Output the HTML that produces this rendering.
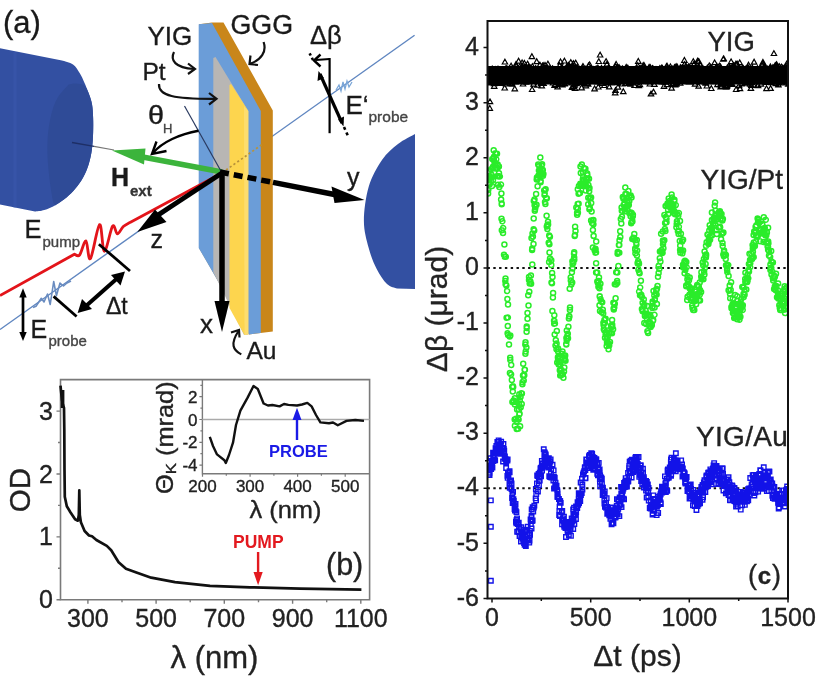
<!DOCTYPE html>
<html><head><meta charset="utf-8"><title>Figure</title>
<style>html,body{margin:0;padding:0;background:#fff;overflow:hidden;} svg{display:block;}</style>
</head><body>
<svg width="825" height="676" viewBox="0 0 825 676"><g id="pa">
<path d="M0,48.3 L62,60.5  C63.8,61.1 70.0,62.3 73.0,64.4 C76.0,66.5 77.9,70.3 79.8,73.3 C81.7,76.3 82.7,78.9 84.2,82.2 C85.7,85.5 87.4,89.6 88.7,93.3 C90.0,97.0 91.3,100.2 92.0,104.3 C92.7,108.3 92.9,112.8 93.1,117.6 C93.3,122.4 93.3,128.0 93.1,133.2 C92.9,138.4 92.7,143.5 92.0,148.7 C91.3,153.9 90.2,159.4 88.7,164.2 C87.2,169.0 85.3,173.4 83.1,177.5 C80.9,181.6 78.2,185.3 75.4,188.6 C72.6,191.9 69.8,194.7 66.5,197.5 C63.2,200.3 59.1,203.1 55.4,205.2 C51.7,207.3 47.7,208.9 44.3,210.0 C40.9,211.1 36.5,211.2 35.0,211.5 L0,204.6 Z" fill="#3350a2"/>
<path d="M68.7,84.4 C66.9,86.6 60.6,92.5 57.6,97.7 C54.6,102.9 52.6,108.8 51.0,115.4 C49.4,122.1 48.2,130.2 47.7,137.6 C47.2,145.0 47.3,152.4 47.7,159.8 C48.1,167.2 49.0,175.0 49.9,182.0 C50.8,189.0 52.3,198.0 53.2,201.9 C54.1,205.8 55.0,204.6 55.4,205.2  C57.2,203.9 63.2,200.3 66.5,197.5 C69.8,194.7 72.6,191.9 75.4,188.6 C78.2,185.3 80.9,181.6 83.1,177.5 C85.3,173.4 87.2,169.0 88.7,164.2 C90.2,159.4 91.3,153.9 92.0,148.7 C92.7,143.5 92.9,138.4 93.1,133.2 C93.3,128.0 93.3,122.4 93.1,117.6 C92.9,112.8 92.7,108.3 92.0,104.3 C91.3,100.2 90.0,96.4 88.7,93.3 C87.4,90.2 86.3,87.1 84.2,85.5 C82.1,83.9 78.6,83.7 76.0,83.5 C73.4,83.3 69.9,84.2 68.7,84.4 Z" fill="#2f4b97"/>
<line x1="15" y1="52" x2="15" y2="207.5" stroke="#3a58ad" stroke-width="3" opacity="0.6"/>
<path d="M415.0,134.0 C412.2,135.7 403.5,139.7 398.0,144.0 C392.5,148.3 386.9,152.9 382.0,160.0 C377.1,167.1 371.7,176.5 368.7,186.7 C365.7,196.9 363.9,210.8 363.9,221.0 C363.9,231.2 366.6,240.0 368.7,248.0 C370.8,256.0 373.6,263.0 376.7,269.0 C379.8,275.0 383.6,280.8 387.0,284.0 C390.4,287.2 395.3,287.8 397.0,288.5 L415,289 Z" fill="#3350a2"/>
<line x1="0" y1="329.5" x2="414.6" y2="35.3" stroke="#5f86c0" stroke-width="1.4"/>
<line x1="72" y1="142.5" x2="94" y2="146.4" stroke="#1e2f66" stroke-width="1.3"/>
<line x1="94" y1="146.4" x2="114" y2="150" stroke="#777" stroke-width="1.2"/>
<polygon points="212,22.6 223.5,22.4 272.8,110.5 272.8,331.5 260.5,333 249,334.5 199,248 199,24.3" fill="#c9861a"/>
<polygon points="198.7,24.3 212,23 260.8,111 260.8,333 249,334.5 198.7,248" fill="#6b9dd8"/>
<polygon points="213.3,58 215.5,57 248.3,111 248.3,334.5 244,335 213.3,272" fill="#b8b6b4"/>
<polygon points="229.5,85 231,84 248.3,111 248.3,334.5 244.5,335 229.5,308" fill="#fdd54e"/>
<polygon points="244,106 248.3,111 248.3,334.5 244.5,335" fill="#fde58e" opacity="0.5"/>
<line x1="226" y1="170" x2="262" y2="144.5" stroke="#b8923a" stroke-width="1.7" stroke-dasharray="2.2 2.4"/>
<path d="M0,295.5 L74.4,254.2  C75.3,254.3 77.7,257.2 79.6,255.0 C81.5,252.8 84.1,240.3 85.9,240.9 C87.7,241.5 88.1,261.4 90.4,258.7 C92.7,256.0 97.3,225.8 99.6,224.6 C101.9,223.4 102.2,251.1 104.4,251.3 C106.6,251.6 110.4,229.0 112.6,226.1 C114.8,223.2 115.6,233.8 117.4,233.9 C119.2,234.0 121.2,228.4 123.3,226.5 C125.4,224.6 128.9,223.1 130.0,222.4 L222,173" fill="none" stroke="#e3141a" stroke-width="2.8" stroke-linejoin="round"/>
<line x1="222" y1="172" x2="140" y2="156.5" stroke="#3cb43c" stroke-width="5.5"/>
<polygon points="112,150.5 145.5,148.5 144,164.5" fill="#3cb43c"/>
<line x1="184.5" y1="106" x2="222" y2="173" stroke="#2a3a60" stroke-width="1.2"/>
<line x1="222" y1="173" x2="158" y2="215" stroke="#000" stroke-width="5"/>
<polygon points="137.3,232 155,209.5 166.5,222" fill="#000"/>
<line x1="222" y1="172" x2="222" y2="305" stroke="#000" stroke-width="5.5"/>
<polygon points="222,332 214.5,301 229.5,301" fill="#000"/>
<line x1="220" y1="172" x2="273" y2="182.4" stroke="#000" stroke-width="5.5" stroke-dasharray="9 5"/>
<line x1="273" y1="182.4" x2="337" y2="195" stroke="#000" stroke-width="5.5"/>
<polygon points="364.5,200 331.5,186.5 334.5,203" fill="#000"/>
<path d="M198.5,130.7 C180,134 162,142 153,153" fill="none" stroke="#000" stroke-width="2.4"/>
<path d="M156.5,141.5 L152,154 L166.5,151" fill="none" stroke="#000" stroke-width="2.4"/>
<path d="M174,52 C170,60 175,68 194,69" fill="none" stroke="#111" stroke-width="2.2"/><path d="M188,63.5 L195,69 L188,74" fill="none" stroke="#111" stroke-width="2.2"/>
<path d="M159,84 C158,96 175,99 215,98.8" fill="none" stroke="#111" stroke-width="2.2"/><path d="M209,93 L216.5,98.8 L209,104.5" fill="none" stroke="#111" stroke-width="2.2"/>
<path d="M263.6,42 C267,52 261,60 250,63.8" fill="none" stroke="#111" stroke-width="2.2"/><path d="M250.5,55.5 L249.5,64 L258,65" fill="none" stroke="#111" stroke-width="2.2"/>
<path d="M241.3,354.4 C233,350 230,344 238.5,331" fill="none" stroke="#111" stroke-width="2.2"/><path d="M231,332.5 L239,330 L239.5,337.5" fill="none" stroke="#111" stroke-width="2.2"/>
<line x1="329.6" y1="58" x2="329.6" y2="133.2" stroke="#000" stroke-width="2.2"/>
<path d="M329.6,59 L316,60" fill="none" stroke="#000" stroke-width="2.2"/><path d="M320.5,54.5 L314,60.5 L320.5,66.5" fill="none" stroke="#000" stroke-width="2.4"/>
<line x1="320" y1="74" x2="342" y2="123" stroke="#000" stroke-width="3.2"/>
<polygon points="318.5,71 317.5,81 324,78" fill="#000"/><polygon points="343.5,126.5 344,116.5 338,119.5" fill="#000"/>
<line x1="309.6" y1="53.3" x2="314" y2="62" stroke="#000" stroke-width="2.6" stroke-dasharray="2.5 2.5"/>
<line x1="344" y1="127" x2="348" y2="136" stroke="#000" stroke-width="2.6" stroke-dasharray="3 3"/>
<path d="M336,90 L339,85 L341,91 L343,82 L345,89 L347,81 L349,87 L352,82" fill="none" stroke="#7aa6d8" stroke-width="1.3"/>
<path d="M33,307.5 L36,306.3 L41.3,298.3 L44,302 L47.5,294 L50.2,304.5 L53.7,281.5 L56.4,295.7 L60,283 L63.5,286 L67,283 L71,281" fill="none" stroke="#6a8cc0" stroke-width="1.6" stroke-linejoin="round"/>
<line x1="98.9" y1="244.2" x2="130" y2="271" stroke="#000" stroke-width="2.8"/>
<line x1="53.6" y1="296.4" x2="76.6" y2="316.5" stroke="#000" stroke-width="2.8"/>
<line x1="86" y1="306" x2="117" y2="278.5" stroke="#000" stroke-width="4"/>
<polygon points="77.6,313 82,299 92,309" fill="#000"/><polygon points="125,271.5 111,275 120.5,285.5" fill="#000"/>
<line x1="23" y1="295" x2="23" y2="335" stroke="#000" stroke-width="2.7"/>
<polygon points="23,288.2 19.3,297.5 26.7,297.5" fill="#000"/><polygon points="23,341.1 19.3,332 26.7,332" fill="#000"/>
<g font-family="Liberation Sans, Arial, sans-serif" fill="#1a1a1a" stroke="#1a1a1a" stroke-width="0.35">
<text x="3" y="32.5" font-size="31">(a)</text>
<text x="147.5" y="44.8" font-size="26">YIG</text>
<text x="142.5" y="80.3" font-size="24.5">Pt</text>
<text x="230.5" y="34" font-size="26.8">GGG</text>
<text x="310" y="44.2" font-size="25.5">Δβ</text>
<text transform="translate(148,124) scale(1.15,1)" font-size="25">θ</text><text x="163" y="133" font-size="13" fill="#444" stroke="#444">H</text>
<text x="111" y="185.8" font-size="25" font-weight="bold">H</text><text x="130" y="195.5" font-size="15" font-weight="bold" fill="#333" stroke="#333">ext</text>
<text x="345.5" y="114" font-size="26">E‘</text><text x="368.5" y="122" font-size="15.5" fill="#444" stroke="#444">probe</text>
<text x="347" y="186" font-size="25">y</text>
<text x="200" y="333" font-size="26">x</text>
<text x="246.5" y="359" font-size="24.5">Au</text>
<text x="150.5" y="248" font-size="25">z</text>
<text x="24.5" y="237.8" font-size="25.5">E</text><text x="42.5" y="247" font-size="15" fill="#444" stroke="#444">pump</text>
<text x="30.5" y="337.8" font-size="25">E</text><text x="48.5" y="346" font-size="15" fill="#444" stroke="#444">probe</text>
<text x="106" y="313.5" font-size="23">Δt</text>
</g>
</g>
<g id="pb">
<path d="M60.5,379.6 V599.8 H369.6 V379.6 Z" fill="none" stroke="#7a7a7a" stroke-width="1.6"/>
<path d="M60.5,599.8 h-4 M60.5,568.3 h-2.5 M60.5,536.9 h-4 M60.5,505.4 h-2.5 M60.5,474.0 h-4 M60.5,442.5 h-2.5 M60.5,411.1 h-4 M87.9,599.8 v4 M122.0,599.8 v2.5 M156.1,599.8 v4 M190.2,599.8 v2.5 M224.3,599.8 v4 M258.5,599.8 v2.5 M292.6,599.8 v4 M326.7,599.8 v2.5 M360.8,599.8 v4" stroke="#7a7a7a" stroke-width="1.4" fill="none"/>
<path d="M60.5,385.6 L61,391 L62,400 L63,405 L64,408 L64.3,430 L64.5,470 L64.8,496.8 L66.8,506.2 L70.4,512.2 L75.1,519.3 L77.9,520.7 L78.8,515 L79.3,490.3 L79.8,515 L80.9,522.2 L84.6,531 L89,535.5 L92,536.3 L96.4,540 L106.8,545.9 L111.2,550.3 L118.6,562.2 L126,568.8 L136.4,572.5 L151.2,577.7 L175,582.1 L210,585.9 L250,587.3 L300,588.6 L361.4,589.6" fill="none" stroke="#111" stroke-width="2.7" stroke-linejoin="round"/>
<rect x="60.8" y="390" width="3.6" height="18" fill="#111"/>
<path d="M202.4,379.6 V473.8 H369.6" fill="none" stroke="#7a7a7a" stroke-width="1.4"/>
<path d="M202.4,465.1 h-3 M202.4,453.7 h-2 M202.4,442.3 h-3 M202.4,430.9 h-2 M202.4,419.5 h-3 M202.4,408.1 h-2 M202.4,396.7 h-3 M202.4,385.3 h-2 M202.5,473.8 v3 M226.3,473.8 v2 M250.1,473.8 v3 M273.9,473.8 v2 M297.6,473.8 v3 M321.4,473.8 v2 M345.2,473.8 v3" stroke="#7a7a7a" stroke-width="1.2" fill="none"/>
<line x1="202.4" y1="419.5" x2="369.6" y2="419.5" stroke="#aaa" stroke-width="1.5"/>
<path d="M209.8,436.9 L213,446 L217,454.4 L224.4,460.2 L225.8,463 L229,455 L233,442.7 L236,425 L240.4,410.7 L247.6,397.6 L253.5,386 L257.8,389 L263.6,403.5 L268,405.5 L272.4,405 L279.6,406.4 L284,404 L288.4,404.9 L297,405.5 L302,404.5 L307.3,402.9 L311.6,406.4 L316,415 L320.4,422.4 L329,423.2 L333,422.5 L337.8,425.3 L346.5,420.9 L355.3,420 L364,420.9" fill="none" stroke="#111" stroke-width="2.4" stroke-linejoin="round"/>
<line x1="297" y1="440" x2="297" y2="418" stroke="#1a1ae6" stroke-width="2.4"/><polygon points="297,407.8 292.5,420 301.5,420" fill="#1a1ae6"/>
<text x="269" y="457.3" font-size="16.5" font-weight="bold" fill="#1a1ae6" font-family="Liberation Sans, Arial, sans-serif">PROBE</text>
<line x1="258.1" y1="552" x2="258.1" y2="574" stroke="#e3191f" stroke-width="2.4"/><polygon points="258.1,585.3 253.5,572 262.7,572" fill="#e3191f"/>
<text x="233" y="548" font-size="17.5" font-weight="bold" fill="#e3191f" font-family="Liberation Sans, Arial, sans-serif">PUMP</text>
<g font-family="Liberation Sans, Arial, sans-serif" fill="#222" stroke="#222" stroke-width="0.35">
<text x="53" y="608.3" font-size="25" text-anchor="end">0</text>
<text x="53" y="545.4" font-size="25" text-anchor="end">1</text>
<text x="53" y="482.5" font-size="25" text-anchor="end">2</text>
<text x="53" y="419.6" font-size="25" text-anchor="end">3</text>
<text x="87.9" y="627" font-size="25" text-anchor="middle">300</text>
<text x="156.1" y="627" font-size="25" text-anchor="middle">500</text>
<text x="224.3" y="627" font-size="25" text-anchor="middle">700</text>
<text x="292.6" y="627" font-size="25" text-anchor="middle">900</text>
<text x="360.8" y="627" font-size="25" text-anchor="middle">1100</text>
<text transform="translate(30,490) rotate(-90)" font-size="29.5" text-anchor="middle">OD</text>
<text x="214.5" y="668" font-size="31" text-anchor="middle">λ (nm)</text>
<text x="326" y="575" font-size="30.5">(b)</text>
<text x="197.5" y="402.7" font-size="17" text-anchor="end">2</text>
<text x="197.5" y="425.5" font-size="17" text-anchor="end">0</text>
<text x="197.5" y="448.3" font-size="17" text-anchor="end">-2</text>
<text x="197.5" y="471.1" font-size="17" text-anchor="end">-4</text>
<text x="202.5" y="492" font-size="17" text-anchor="middle">200</text>
<text x="250.1" y="492" font-size="17" text-anchor="middle">300</text>
<text x="297.6" y="492" font-size="17" text-anchor="middle">400</text>
<text x="345.2" y="492" font-size="17" text-anchor="middle">500</text>
<text transform="translate(285.4,517.5) scale(1.06,1)" font-size="24" text-anchor="middle">λ (nm)</text>
<text transform="translate(173,494) rotate(-90) scale(1.08,1)" font-size="23.5"><tspan>Θ</tspan><tspan font-size="15.5" dy="3">K</tspan><tspan dy="-3"> (mrad)</tspan></text>
</g>
</g>
<defs><clipPath id="cc"><rect x="487.5" y="21" width="300.5" height="577.4"/></clipPath></defs>
<g id="pc">
<line x1="487.5" y1="267.9" x2="788" y2="267.9" stroke="#111" stroke-width="2" stroke-dasharray="2.4 3.4"/>
<line x1="487.5" y1="488.2" x2="788" y2="488.2" stroke="#111" stroke-width="2" stroke-dasharray="2.4 3.4"/>
<g clip-path="url(#cc)">
<rect x="487.5" y="66" width="300.5" height="18.5" fill="#000"/>
<path d="M485.0,78.4l2.7,-4.8l2.7,4.8zM485.1,75.0l2.7,-4.8l2.7,4.8zM485.3,81.3l2.7,-4.8l2.7,4.8zM485.5,78.2l2.7,-4.8l2.7,4.8zM485.7,72.7l2.7,-4.8l2.7,4.8zM485.8,76.1l2.7,-4.8l2.7,4.8zM486.0,84.6l2.7,-4.8l2.7,4.8zM486.2,73.5l2.7,-4.8l2.7,4.8zM486.4,84.7l2.7,-4.8l2.7,4.8zM486.6,84.9l2.7,-4.8l2.7,4.8zM486.7,75.9l2.7,-4.8l2.7,4.8zM486.9,77.4l2.7,-4.8l2.7,4.8zM487.1,75.9l2.7,-4.8l2.7,4.8zM487.3,75.5l2.7,-4.8l2.7,4.8zM487.4,74.8l2.7,-4.8l2.7,4.8zM487.6,72.0l2.7,-4.8l2.7,4.8zM487.8,78.8l2.7,-4.8l2.7,4.8zM488.0,77.7l2.7,-4.8l2.7,4.8zM488.2,79.2l2.7,-4.8l2.7,4.8zM488.3,81.5l2.7,-4.8l2.7,4.8zM488.5,80.8l2.7,-4.8l2.7,4.8zM488.7,76.2l2.7,-4.8l2.7,4.8zM488.9,77.0l2.7,-4.8l2.7,4.8zM489.0,71.5l2.7,-4.8l2.7,4.8zM489.2,77.7l2.7,-4.8l2.7,4.8zM489.4,80.8l2.7,-4.8l2.7,4.8zM489.6,83.7l2.7,-4.8l2.7,4.8zM489.8,73.6l2.7,-4.8l2.7,4.8zM489.9,70.9l2.7,-4.8l2.7,4.8zM490.1,75.6l2.7,-4.8l2.7,4.8zM490.3,74.5l2.7,-4.8l2.7,4.8zM490.5,79.9l2.7,-4.8l2.7,4.8zM490.6,81.5l2.7,-4.8l2.7,4.8zM490.8,79.6l2.7,-4.8l2.7,4.8zM491.0,83.7l2.7,-4.8l2.7,4.8zM491.2,76.2l2.7,-4.8l2.7,4.8zM491.4,85.6l2.7,-4.8l2.7,4.8zM491.5,88.3l2.7,-4.8l2.7,4.8zM491.7,73.2l2.7,-4.8l2.7,4.8zM491.9,72.9l2.7,-4.8l2.7,4.8zM492.1,80.3l2.7,-4.8l2.7,4.8zM492.2,77.1l2.7,-4.8l2.7,4.8zM492.4,85.1l2.7,-4.8l2.7,4.8zM492.6,71.4l2.7,-4.8l2.7,4.8zM492.8,80.1l2.7,-4.8l2.7,4.8zM493.0,75.2l2.7,-4.8l2.7,4.8zM493.1,83.8l2.7,-4.8l2.7,4.8zM493.3,79.4l2.7,-4.8l2.7,4.8zM493.5,79.6l2.7,-4.8l2.7,4.8zM493.7,75.1l2.7,-4.8l2.7,4.8zM493.8,77.6l2.7,-4.8l2.7,4.8zM494.0,77.8l2.7,-4.8l2.7,4.8zM494.2,77.7l2.7,-4.8l2.7,4.8zM494.4,74.8l2.7,-4.8l2.7,4.8zM494.5,78.2l2.7,-4.8l2.7,4.8zM494.7,75.2l2.7,-4.8l2.7,4.8zM494.9,81.3l2.7,-4.8l2.7,4.8zM495.1,83.2l2.7,-4.8l2.7,4.8zM495.3,70.9l2.7,-4.8l2.7,4.8zM495.4,79.2l2.7,-4.8l2.7,4.8zM495.6,81.2l2.7,-4.8l2.7,4.8zM495.8,74.1l2.7,-4.8l2.7,4.8zM496.0,72.5l2.7,-4.8l2.7,4.8zM496.1,77.7l2.7,-4.8l2.7,4.8zM496.3,72.7l2.7,-4.8l2.7,4.8zM496.5,73.8l2.7,-4.8l2.7,4.8zM496.7,78.5l2.7,-4.8l2.7,4.8zM496.9,78.3l2.7,-4.8l2.7,4.8zM497.0,84.5l2.7,-4.8l2.7,4.8zM497.2,85.5l2.7,-4.8l2.7,4.8zM497.4,73.4l2.7,-4.8l2.7,4.8zM497.6,73.9l2.7,-4.8l2.7,4.8zM497.7,78.2l2.7,-4.8l2.7,4.8zM497.9,75.0l2.7,-4.8l2.7,4.8zM498.1,83.9l2.7,-4.8l2.7,4.8zM498.3,76.3l2.7,-4.8l2.7,4.8zM498.5,73.3l2.7,-4.8l2.7,4.8zM498.6,78.5l2.7,-4.8l2.7,4.8zM498.8,77.1l2.7,-4.8l2.7,4.8zM499.0,80.9l2.7,-4.8l2.7,4.8zM499.2,74.2l2.7,-4.8l2.7,4.8zM499.3,81.6l2.7,-4.8l2.7,4.8zM499.5,76.3l2.7,-4.8l2.7,4.8zM499.7,71.8l2.7,-4.8l2.7,4.8zM499.9,83.1l2.7,-4.8l2.7,4.8zM500.1,82.3l2.7,-4.8l2.7,4.8zM500.2,76.9l2.7,-4.8l2.7,4.8zM500.4,72.8l2.7,-4.8l2.7,4.8zM500.6,84.4l2.7,-4.8l2.7,4.8zM500.8,76.9l2.7,-4.8l2.7,4.8zM500.9,80.1l2.7,-4.8l2.7,4.8zM501.1,76.7l2.7,-4.8l2.7,4.8zM501.3,74.7l2.7,-4.8l2.7,4.8zM501.5,83.8l2.7,-4.8l2.7,4.8zM501.7,75.5l2.7,-4.8l2.7,4.8zM501.8,76.2l2.7,-4.8l2.7,4.8zM502.0,90.0l2.7,-4.8l2.7,4.8zM502.2,64.0l2.7,-4.8l2.7,4.8zM502.4,71.7l2.7,-4.8l2.7,4.8zM502.5,74.0l2.7,-4.8l2.7,4.8zM502.7,77.2l2.7,-4.8l2.7,4.8zM502.9,82.3l2.7,-4.8l2.7,4.8zM503.1,81.2l2.7,-4.8l2.7,4.8zM503.3,70.4l2.7,-4.8l2.7,4.8zM503.4,85.9l2.7,-4.8l2.7,4.8zM503.6,71.0l2.7,-4.8l2.7,4.8zM503.8,75.5l2.7,-4.8l2.7,4.8zM504.0,75.4l2.7,-4.8l2.7,4.8zM504.1,72.2l2.7,-4.8l2.7,4.8zM504.3,70.7l2.7,-4.8l2.7,4.8zM504.5,80.5l2.7,-4.8l2.7,4.8zM504.7,82.8l2.7,-4.8l2.7,4.8zM504.8,72.9l2.7,-4.8l2.7,4.8zM505.0,79.1l2.7,-4.8l2.7,4.8zM505.2,76.4l2.7,-4.8l2.7,4.8zM505.4,74.0l2.7,-4.8l2.7,4.8zM505.6,80.2l2.7,-4.8l2.7,4.8zM505.7,79.0l2.7,-4.8l2.7,4.8zM505.9,73.8l2.7,-4.8l2.7,4.8zM506.1,79.4l2.7,-4.8l2.7,4.8zM506.3,73.4l2.7,-4.8l2.7,4.8zM506.4,79.8l2.7,-4.8l2.7,4.8zM506.6,70.8l2.7,-4.8l2.7,4.8zM506.8,78.3l2.7,-4.8l2.7,4.8zM507.0,76.8l2.7,-4.8l2.7,4.8zM507.2,79.7l2.7,-4.8l2.7,4.8zM507.3,76.1l2.7,-4.8l2.7,4.8zM507.5,76.2l2.7,-4.8l2.7,4.8zM507.7,84.8l2.7,-4.8l2.7,4.8zM507.9,76.4l2.7,-4.8l2.7,4.8zM508.0,76.8l2.7,-4.8l2.7,4.8zM508.2,76.0l2.7,-4.8l2.7,4.8zM508.4,68.0l2.7,-4.8l2.7,4.8zM508.6,75.6l2.7,-4.8l2.7,4.8zM508.8,71.3l2.7,-4.8l2.7,4.8zM508.9,78.2l2.7,-4.8l2.7,4.8zM509.1,85.2l2.7,-4.8l2.7,4.8zM509.3,77.6l2.7,-4.8l2.7,4.8zM509.5,86.1l2.7,-4.8l2.7,4.8zM509.6,78.5l2.7,-4.8l2.7,4.8zM509.8,74.9l2.7,-4.8l2.7,4.8zM510.0,79.1l2.7,-4.8l2.7,4.8zM510.2,80.2l2.7,-4.8l2.7,4.8zM510.4,74.8l2.7,-4.8l2.7,4.8zM510.5,76.4l2.7,-4.8l2.7,4.8zM510.7,73.6l2.7,-4.8l2.7,4.8zM510.9,71.4l2.7,-4.8l2.7,4.8zM511.1,79.6l2.7,-4.8l2.7,4.8zM511.2,74.0l2.7,-4.8l2.7,4.8zM511.4,73.5l2.7,-4.8l2.7,4.8zM511.6,75.3l2.7,-4.8l2.7,4.8zM511.8,79.0l2.7,-4.8l2.7,4.8zM512.0,81.1l2.7,-4.8l2.7,4.8zM512.1,90.8l2.7,-4.8l2.7,4.8zM512.3,78.4l2.7,-4.8l2.7,4.8zM512.5,75.7l2.7,-4.8l2.7,4.8zM512.7,83.9l2.7,-4.8l2.7,4.8zM512.8,75.5l2.7,-4.8l2.7,4.8zM513.0,80.4l2.7,-4.8l2.7,4.8zM513.2,66.5l2.7,-4.8l2.7,4.8zM513.4,76.0l2.7,-4.8l2.7,4.8zM513.6,68.3l2.7,-4.8l2.7,4.8zM513.7,74.9l2.7,-4.8l2.7,4.8zM513.9,78.8l2.7,-4.8l2.7,4.8zM514.1,73.4l2.7,-4.8l2.7,4.8zM514.3,82.6l2.7,-4.8l2.7,4.8zM514.4,82.4l2.7,-4.8l2.7,4.8zM514.6,78.4l2.7,-4.8l2.7,4.8zM514.8,78.7l2.7,-4.8l2.7,4.8zM515.0,69.5l2.7,-4.8l2.7,4.8zM515.2,77.3l2.7,-4.8l2.7,4.8zM515.3,76.4l2.7,-4.8l2.7,4.8zM515.5,79.7l2.7,-4.8l2.7,4.8zM515.7,79.2l2.7,-4.8l2.7,4.8zM515.9,63.1l2.7,-4.8l2.7,4.8zM516.0,76.2l2.7,-4.8l2.7,4.8zM516.2,78.2l2.7,-4.8l2.7,4.8zM516.4,78.1l2.7,-4.8l2.7,4.8zM516.6,73.9l2.7,-4.8l2.7,4.8zM516.7,77.9l2.7,-4.8l2.7,4.8zM516.9,81.0l2.7,-4.8l2.7,4.8zM517.1,81.2l2.7,-4.8l2.7,4.8zM517.3,78.9l2.7,-4.8l2.7,4.8zM517.5,80.3l2.7,-4.8l2.7,4.8zM517.6,76.4l2.7,-4.8l2.7,4.8zM517.8,77.0l2.7,-4.8l2.7,4.8zM518.0,80.5l2.7,-4.8l2.7,4.8zM518.2,77.5l2.7,-4.8l2.7,4.8zM518.3,81.0l2.7,-4.8l2.7,4.8zM518.5,82.5l2.7,-4.8l2.7,4.8zM518.7,73.5l2.7,-4.8l2.7,4.8zM518.9,77.9l2.7,-4.8l2.7,4.8zM519.1,74.4l2.7,-4.8l2.7,4.8zM519.2,68.6l2.7,-4.8l2.7,4.8zM519.4,64.8l2.7,-4.8l2.7,4.8zM519.6,68.6l2.7,-4.8l2.7,4.8zM519.8,71.1l2.7,-4.8l2.7,4.8zM519.9,75.0l2.7,-4.8l2.7,4.8zM520.1,71.4l2.7,-4.8l2.7,4.8zM520.3,86.0l2.7,-4.8l2.7,4.8zM520.5,80.5l2.7,-4.8l2.7,4.8zM520.7,76.1l2.7,-4.8l2.7,4.8zM520.8,80.4l2.7,-4.8l2.7,4.8zM521.0,78.2l2.7,-4.8l2.7,4.8zM521.2,77.4l2.7,-4.8l2.7,4.8zM521.4,77.1l2.7,-4.8l2.7,4.8zM521.5,80.2l2.7,-4.8l2.7,4.8zM521.7,65.3l2.7,-4.8l2.7,4.8zM521.9,73.6l2.7,-4.8l2.7,4.8zM522.1,72.6l2.7,-4.8l2.7,4.8zM522.3,78.5l2.7,-4.8l2.7,4.8zM522.4,78.6l2.7,-4.8l2.7,4.8zM522.6,72.0l2.7,-4.8l2.7,4.8zM522.8,69.5l2.7,-4.8l2.7,4.8zM523.0,76.6l2.7,-4.8l2.7,4.8zM523.1,84.2l2.7,-4.8l2.7,4.8zM523.3,79.0l2.7,-4.8l2.7,4.8zM523.5,78.9l2.7,-4.8l2.7,4.8zM523.7,81.9l2.7,-4.8l2.7,4.8zM523.9,77.6l2.7,-4.8l2.7,4.8zM524.0,71.0l2.7,-4.8l2.7,4.8zM524.2,81.2l2.7,-4.8l2.7,4.8zM524.4,70.6l2.7,-4.8l2.7,4.8zM524.6,76.6l2.7,-4.8l2.7,4.8zM524.7,71.2l2.7,-4.8l2.7,4.8zM524.9,66.0l2.7,-4.8l2.7,4.8zM525.1,80.7l2.7,-4.8l2.7,4.8zM525.3,83.7l2.7,-4.8l2.7,4.8zM525.5,69.4l2.7,-4.8l2.7,4.8zM525.6,77.1l2.7,-4.8l2.7,4.8zM525.8,83.5l2.7,-4.8l2.7,4.8zM526.0,78.7l2.7,-4.8l2.7,4.8zM526.2,77.3l2.7,-4.8l2.7,4.8zM526.3,75.5l2.7,-4.8l2.7,4.8zM526.5,75.2l2.7,-4.8l2.7,4.8zM526.7,70.3l2.7,-4.8l2.7,4.8zM526.9,81.0l2.7,-4.8l2.7,4.8zM527.0,73.9l2.7,-4.8l2.7,4.8zM527.2,81.9l2.7,-4.8l2.7,4.8zM527.4,81.5l2.7,-4.8l2.7,4.8zM527.6,77.4l2.7,-4.8l2.7,4.8zM527.8,70.0l2.7,-4.8l2.7,4.8zM527.9,75.7l2.7,-4.8l2.7,4.8zM528.1,77.1l2.7,-4.8l2.7,4.8zM528.3,79.6l2.7,-4.8l2.7,4.8zM528.5,83.4l2.7,-4.8l2.7,4.8zM528.6,82.1l2.7,-4.8l2.7,4.8zM528.8,76.2l2.7,-4.8l2.7,4.8zM529.0,73.4l2.7,-4.8l2.7,4.8zM529.2,58.6l2.7,-4.8l2.7,4.8zM529.4,91.5l2.7,-4.8l2.7,4.8zM529.5,77.8l2.7,-4.8l2.7,4.8zM529.7,68.4l2.7,-4.8l2.7,4.8zM529.9,82.3l2.7,-4.8l2.7,4.8zM530.1,77.3l2.7,-4.8l2.7,4.8zM530.2,80.7l2.7,-4.8l2.7,4.8zM530.4,79.7l2.7,-4.8l2.7,4.8zM530.6,79.9l2.7,-4.8l2.7,4.8zM530.8,86.2l2.7,-4.8l2.7,4.8zM531.0,77.1l2.7,-4.8l2.7,4.8zM531.1,70.9l2.7,-4.8l2.7,4.8zM531.3,79.3l2.7,-4.8l2.7,4.8zM531.5,80.9l2.7,-4.8l2.7,4.8zM531.7,75.1l2.7,-4.8l2.7,4.8zM531.8,79.0l2.7,-4.8l2.7,4.8zM532.0,73.7l2.7,-4.8l2.7,4.8zM532.2,77.0l2.7,-4.8l2.7,4.8zM532.4,76.6l2.7,-4.8l2.7,4.8zM532.6,73.2l2.7,-4.8l2.7,4.8zM532.7,75.5l2.7,-4.8l2.7,4.8zM532.9,70.6l2.7,-4.8l2.7,4.8zM533.1,80.6l2.7,-4.8l2.7,4.8zM533.3,71.1l2.7,-4.8l2.7,4.8zM533.4,75.2l2.7,-4.8l2.7,4.8zM533.6,72.6l2.7,-4.8l2.7,4.8zM533.8,78.1l2.7,-4.8l2.7,4.8zM534.0,63.6l2.7,-4.8l2.7,4.8zM534.2,81.8l2.7,-4.8l2.7,4.8zM534.3,74.3l2.7,-4.8l2.7,4.8zM534.5,79.4l2.7,-4.8l2.7,4.8zM534.7,87.2l2.7,-4.8l2.7,4.8zM534.9,80.1l2.7,-4.8l2.7,4.8zM535.0,77.9l2.7,-4.8l2.7,4.8zM535.2,73.9l2.7,-4.8l2.7,4.8zM535.4,79.9l2.7,-4.8l2.7,4.8zM535.6,75.4l2.7,-4.8l2.7,4.8zM535.8,72.6l2.7,-4.8l2.7,4.8zM535.9,72.9l2.7,-4.8l2.7,4.8zM536.1,75.1l2.7,-4.8l2.7,4.8zM536.3,82.4l2.7,-4.8l2.7,4.8zM536.5,77.0l2.7,-4.8l2.7,4.8zM536.6,81.9l2.7,-4.8l2.7,4.8zM536.8,74.7l2.7,-4.8l2.7,4.8zM537.0,72.2l2.7,-4.8l2.7,4.8zM537.2,67.0l2.7,-4.8l2.7,4.8zM537.3,80.0l2.7,-4.8l2.7,4.8zM537.5,76.4l2.7,-4.8l2.7,4.8zM537.7,73.9l2.7,-4.8l2.7,4.8zM537.9,81.0l2.7,-4.8l2.7,4.8zM538.1,79.1l2.7,-4.8l2.7,4.8zM538.2,75.1l2.7,-4.8l2.7,4.8zM538.4,85.5l2.7,-4.8l2.7,4.8zM538.6,82.0l2.7,-4.8l2.7,4.8zM538.8,73.0l2.7,-4.8l2.7,4.8zM538.9,72.7l2.7,-4.8l2.7,4.8zM539.1,87.9l2.7,-4.8l2.7,4.8zM539.3,76.6l2.7,-4.8l2.7,4.8zM539.5,85.2l2.7,-4.8l2.7,4.8zM539.7,68.1l2.7,-4.8l2.7,4.8zM539.8,72.7l2.7,-4.8l2.7,4.8zM540.0,82.0l2.7,-4.8l2.7,4.8zM540.2,76.3l2.7,-4.8l2.7,4.8zM540.4,70.4l2.7,-4.8l2.7,4.8zM540.5,67.6l2.7,-4.8l2.7,4.8zM540.7,79.8l2.7,-4.8l2.7,4.8zM540.9,85.4l2.7,-4.8l2.7,4.8zM541.1,77.2l2.7,-4.8l2.7,4.8zM541.3,77.5l2.7,-4.8l2.7,4.8zM541.4,70.5l2.7,-4.8l2.7,4.8zM541.6,75.6l2.7,-4.8l2.7,4.8zM541.8,81.9l2.7,-4.8l2.7,4.8zM542.0,78.1l2.7,-4.8l2.7,4.8zM542.1,80.5l2.7,-4.8l2.7,4.8zM542.3,67.2l2.7,-4.8l2.7,4.8zM542.5,77.2l2.7,-4.8l2.7,4.8zM542.7,77.4l2.7,-4.8l2.7,4.8zM542.9,77.9l2.7,-4.8l2.7,4.8zM543.0,73.5l2.7,-4.8l2.7,4.8zM543.2,71.4l2.7,-4.8l2.7,4.8zM543.4,78.2l2.7,-4.8l2.7,4.8zM543.6,72.1l2.7,-4.8l2.7,4.8zM543.7,76.5l2.7,-4.8l2.7,4.8zM543.9,77.5l2.7,-4.8l2.7,4.8zM544.1,70.7l2.7,-4.8l2.7,4.8zM544.3,73.3l2.7,-4.8l2.7,4.8zM544.5,76.4l2.7,-4.8l2.7,4.8zM544.6,74.7l2.7,-4.8l2.7,4.8zM544.8,69.8l2.7,-4.8l2.7,4.8zM545.0,74.0l2.7,-4.8l2.7,4.8zM545.2,66.0l2.7,-4.8l2.7,4.8zM545.3,76.9l2.7,-4.8l2.7,4.8zM545.5,74.1l2.7,-4.8l2.7,4.8zM545.7,72.3l2.7,-4.8l2.7,4.8zM545.9,78.8l2.7,-4.8l2.7,4.8zM546.1,82.9l2.7,-4.8l2.7,4.8zM546.2,74.0l2.7,-4.8l2.7,4.8zM546.4,79.6l2.7,-4.8l2.7,4.8zM546.6,75.3l2.7,-4.8l2.7,4.8zM546.8,75.8l2.7,-4.8l2.7,4.8zM546.9,76.7l2.7,-4.8l2.7,4.8zM547.1,71.9l2.7,-4.8l2.7,4.8zM547.3,82.0l2.7,-4.8l2.7,4.8zM547.5,78.6l2.7,-4.8l2.7,4.8zM547.7,74.8l2.7,-4.8l2.7,4.8zM547.8,70.9l2.7,-4.8l2.7,4.8zM548.0,75.9l2.7,-4.8l2.7,4.8zM548.2,71.4l2.7,-4.8l2.7,4.8zM548.4,74.9l2.7,-4.8l2.7,4.8zM548.5,73.0l2.7,-4.8l2.7,4.8zM548.7,81.0l2.7,-4.8l2.7,4.8zM548.9,76.8l2.7,-4.8l2.7,4.8zM549.1,81.0l2.7,-4.8l2.7,4.8zM549.2,78.0l2.7,-4.8l2.7,4.8zM549.4,80.0l2.7,-4.8l2.7,4.8zM549.6,80.4l2.7,-4.8l2.7,4.8zM549.8,70.8l2.7,-4.8l2.7,4.8zM550.0,77.2l2.7,-4.8l2.7,4.8zM550.1,71.1l2.7,-4.8l2.7,4.8zM550.3,85.0l2.7,-4.8l2.7,4.8zM550.5,75.5l2.7,-4.8l2.7,4.8zM550.7,71.7l2.7,-4.8l2.7,4.8zM550.8,74.9l2.7,-4.8l2.7,4.8zM551.0,76.0l2.7,-4.8l2.7,4.8zM551.2,77.6l2.7,-4.8l2.7,4.8zM551.4,73.9l2.7,-4.8l2.7,4.8zM551.6,78.9l2.7,-4.8l2.7,4.8zM551.7,73.6l2.7,-4.8l2.7,4.8zM551.9,87.3l2.7,-4.8l2.7,4.8zM552.1,71.8l2.7,-4.8l2.7,4.8zM552.3,72.9l2.7,-4.8l2.7,4.8zM552.4,74.8l2.7,-4.8l2.7,4.8zM552.6,86.7l2.7,-4.8l2.7,4.8zM552.8,77.8l2.7,-4.8l2.7,4.8zM553.0,77.2l2.7,-4.8l2.7,4.8zM553.2,78.1l2.7,-4.8l2.7,4.8zM553.3,79.6l2.7,-4.8l2.7,4.8zM553.5,84.7l2.7,-4.8l2.7,4.8zM553.7,75.4l2.7,-4.8l2.7,4.8zM553.9,79.3l2.7,-4.8l2.7,4.8zM554.0,75.6l2.7,-4.8l2.7,4.8zM554.2,82.7l2.7,-4.8l2.7,4.8zM554.4,76.6l2.7,-4.8l2.7,4.8zM554.6,75.9l2.7,-4.8l2.7,4.8zM554.8,76.2l2.7,-4.8l2.7,4.8zM554.9,88.8l2.7,-4.8l2.7,4.8zM555.1,71.0l2.7,-4.8l2.7,4.8zM555.3,74.0l2.7,-4.8l2.7,4.8zM555.5,73.6l2.7,-4.8l2.7,4.8zM555.6,84.6l2.7,-4.8l2.7,4.8zM555.8,79.1l2.7,-4.8l2.7,4.8zM556.0,78.2l2.7,-4.8l2.7,4.8zM556.2,73.8l2.7,-4.8l2.7,4.8zM556.4,77.5l2.7,-4.8l2.7,4.8zM556.5,72.5l2.7,-4.8l2.7,4.8zM556.7,79.1l2.7,-4.8l2.7,4.8zM556.9,67.8l2.7,-4.8l2.7,4.8zM557.1,77.3l2.7,-4.8l2.7,4.8zM557.2,73.9l2.7,-4.8l2.7,4.8zM557.4,83.0l2.7,-4.8l2.7,4.8zM557.6,74.3l2.7,-4.8l2.7,4.8zM557.8,63.8l2.7,-4.8l2.7,4.8zM558.0,85.5l2.7,-4.8l2.7,4.8zM558.1,83.9l2.7,-4.8l2.7,4.8zM558.3,82.1l2.7,-4.8l2.7,4.8zM558.5,80.0l2.7,-4.8l2.7,4.8zM558.7,77.5l2.7,-4.8l2.7,4.8zM558.8,77.5l2.7,-4.8l2.7,4.8zM559.0,77.7l2.7,-4.8l2.7,4.8zM559.2,78.0l2.7,-4.8l2.7,4.8zM559.4,69.4l2.7,-4.8l2.7,4.8zM559.5,78.3l2.7,-4.8l2.7,4.8zM559.7,86.9l2.7,-4.8l2.7,4.8zM559.9,80.8l2.7,-4.8l2.7,4.8zM560.1,74.9l2.7,-4.8l2.7,4.8zM560.3,72.2l2.7,-4.8l2.7,4.8zM560.4,76.2l2.7,-4.8l2.7,4.8zM560.6,75.4l2.7,-4.8l2.7,4.8zM560.8,83.5l2.7,-4.8l2.7,4.8zM561.0,79.8l2.7,-4.8l2.7,4.8zM561.1,80.9l2.7,-4.8l2.7,4.8zM561.3,79.5l2.7,-4.8l2.7,4.8zM561.5,81.2l2.7,-4.8l2.7,4.8zM561.7,63.0l2.7,-4.8l2.7,4.8zM561.9,80.3l2.7,-4.8l2.7,4.8zM562.0,85.9l2.7,-4.8l2.7,4.8zM562.2,71.3l2.7,-4.8l2.7,4.8zM562.4,75.8l2.7,-4.8l2.7,4.8zM562.6,76.0l2.7,-4.8l2.7,4.8zM562.7,76.9l2.7,-4.8l2.7,4.8zM562.9,79.5l2.7,-4.8l2.7,4.8zM563.1,75.7l2.7,-4.8l2.7,4.8zM563.3,81.4l2.7,-4.8l2.7,4.8zM563.5,77.5l2.7,-4.8l2.7,4.8zM563.6,79.9l2.7,-4.8l2.7,4.8zM563.8,76.5l2.7,-4.8l2.7,4.8zM564.0,75.8l2.7,-4.8l2.7,4.8zM564.2,75.2l2.7,-4.8l2.7,4.8zM564.3,84.9l2.7,-4.8l2.7,4.8zM564.5,67.9l2.7,-4.8l2.7,4.8zM564.7,74.6l2.7,-4.8l2.7,4.8zM564.9,78.5l2.7,-4.8l2.7,4.8zM565.1,78.7l2.7,-4.8l2.7,4.8zM565.2,72.4l2.7,-4.8l2.7,4.8zM565.4,81.2l2.7,-4.8l2.7,4.8zM565.6,79.4l2.7,-4.8l2.7,4.8zM565.8,79.2l2.7,-4.8l2.7,4.8zM565.9,67.2l2.7,-4.8l2.7,4.8zM566.1,74.5l2.7,-4.8l2.7,4.8zM566.3,70.3l2.7,-4.8l2.7,4.8zM566.5,67.8l2.7,-4.8l2.7,4.8zM566.7,70.9l2.7,-4.8l2.7,4.8zM566.8,82.9l2.7,-4.8l2.7,4.8zM567.0,79.2l2.7,-4.8l2.7,4.8zM567.2,73.3l2.7,-4.8l2.7,4.8zM567.4,76.1l2.7,-4.8l2.7,4.8zM567.5,83.5l2.7,-4.8l2.7,4.8zM567.7,80.5l2.7,-4.8l2.7,4.8zM567.9,74.5l2.7,-4.8l2.7,4.8zM568.1,64.4l2.7,-4.8l2.7,4.8zM568.3,77.0l2.7,-4.8l2.7,4.8zM568.4,83.2l2.7,-4.8l2.7,4.8zM568.6,82.8l2.7,-4.8l2.7,4.8zM568.8,78.6l2.7,-4.8l2.7,4.8zM569.0,76.3l2.7,-4.8l2.7,4.8zM569.1,75.6l2.7,-4.8l2.7,4.8zM569.3,89.3l2.7,-4.8l2.7,4.8zM569.5,78.0l2.7,-4.8l2.7,4.8zM569.7,84.8l2.7,-4.8l2.7,4.8zM569.9,81.5l2.7,-4.8l2.7,4.8zM570.0,77.3l2.7,-4.8l2.7,4.8zM570.2,68.1l2.7,-4.8l2.7,4.8zM570.4,88.7l2.7,-4.8l2.7,4.8zM570.6,72.9l2.7,-4.8l2.7,4.8zM570.7,65.5l2.7,-4.8l2.7,4.8zM570.9,75.0l2.7,-4.8l2.7,4.8zM571.1,78.6l2.7,-4.8l2.7,4.8zM571.3,73.5l2.7,-4.8l2.7,4.8zM571.4,75.6l2.7,-4.8l2.7,4.8zM571.6,74.4l2.7,-4.8l2.7,4.8zM571.8,79.4l2.7,-4.8l2.7,4.8zM572.0,87.1l2.7,-4.8l2.7,4.8zM572.2,77.4l2.7,-4.8l2.7,4.8zM572.3,90.4l2.7,-4.8l2.7,4.8zM572.5,77.4l2.7,-4.8l2.7,4.8zM572.7,77.9l2.7,-4.8l2.7,4.8zM572.9,73.4l2.7,-4.8l2.7,4.8zM573.0,64.9l2.7,-4.8l2.7,4.8zM573.2,69.7l2.7,-4.8l2.7,4.8zM573.4,83.9l2.7,-4.8l2.7,4.8zM573.6,78.1l2.7,-4.8l2.7,4.8zM573.8,85.7l2.7,-4.8l2.7,4.8zM573.9,79.2l2.7,-4.8l2.7,4.8zM574.1,80.2l2.7,-4.8l2.7,4.8zM574.3,74.3l2.7,-4.8l2.7,4.8zM574.5,74.5l2.7,-4.8l2.7,4.8zM574.6,75.7l2.7,-4.8l2.7,4.8zM574.8,78.8l2.7,-4.8l2.7,4.8zM575.0,72.2l2.7,-4.8l2.7,4.8zM575.2,70.3l2.7,-4.8l2.7,4.8zM575.4,84.6l2.7,-4.8l2.7,4.8zM575.5,77.3l2.7,-4.8l2.7,4.8zM575.7,80.4l2.7,-4.8l2.7,4.8zM575.9,72.8l2.7,-4.8l2.7,4.8zM576.1,75.2l2.7,-4.8l2.7,4.8zM576.2,76.9l2.7,-4.8l2.7,4.8zM576.4,77.2l2.7,-4.8l2.7,4.8zM576.6,79.2l2.7,-4.8l2.7,4.8zM576.8,74.8l2.7,-4.8l2.7,4.8zM577.0,75.5l2.7,-4.8l2.7,4.8zM577.1,71.3l2.7,-4.8l2.7,4.8zM577.3,74.2l2.7,-4.8l2.7,4.8zM577.5,78.5l2.7,-4.8l2.7,4.8zM577.7,83.0l2.7,-4.8l2.7,4.8zM577.8,84.1l2.7,-4.8l2.7,4.8zM578.0,77.3l2.7,-4.8l2.7,4.8zM578.2,76.6l2.7,-4.8l2.7,4.8zM578.4,81.0l2.7,-4.8l2.7,4.8zM578.6,72.1l2.7,-4.8l2.7,4.8zM578.7,77.6l2.7,-4.8l2.7,4.8zM578.9,89.8l2.7,-4.8l2.7,4.8zM579.1,77.1l2.7,-4.8l2.7,4.8zM579.3,83.3l2.7,-4.8l2.7,4.8zM579.4,75.4l2.7,-4.8l2.7,4.8zM579.6,71.5l2.7,-4.8l2.7,4.8zM579.8,76.2l2.7,-4.8l2.7,4.8zM580.0,79.8l2.7,-4.8l2.7,4.8zM580.2,68.4l2.7,-4.8l2.7,4.8zM580.3,74.5l2.7,-4.8l2.7,4.8zM580.5,68.7l2.7,-4.8l2.7,4.8zM580.7,76.9l2.7,-4.8l2.7,4.8zM580.9,77.5l2.7,-4.8l2.7,4.8zM581.0,82.1l2.7,-4.8l2.7,4.8zM581.2,77.1l2.7,-4.8l2.7,4.8zM581.4,76.0l2.7,-4.8l2.7,4.8zM581.6,80.1l2.7,-4.8l2.7,4.8zM581.7,85.3l2.7,-4.8l2.7,4.8zM581.9,81.7l2.7,-4.8l2.7,4.8zM582.1,78.8l2.7,-4.8l2.7,4.8zM582.3,77.8l2.7,-4.8l2.7,4.8zM582.5,71.0l2.7,-4.8l2.7,4.8zM582.6,76.7l2.7,-4.8l2.7,4.8zM582.8,77.8l2.7,-4.8l2.7,4.8zM583.0,77.6l2.7,-4.8l2.7,4.8zM583.2,87.8l2.7,-4.8l2.7,4.8zM583.3,74.4l2.7,-4.8l2.7,4.8zM583.5,79.9l2.7,-4.8l2.7,4.8zM583.7,81.9l2.7,-4.8l2.7,4.8zM583.9,82.2l2.7,-4.8l2.7,4.8zM584.1,85.5l2.7,-4.8l2.7,4.8zM584.2,75.6l2.7,-4.8l2.7,4.8zM584.4,83.8l2.7,-4.8l2.7,4.8zM584.6,74.5l2.7,-4.8l2.7,4.8zM584.8,75.8l2.7,-4.8l2.7,4.8zM584.9,71.3l2.7,-4.8l2.7,4.8zM585.1,76.6l2.7,-4.8l2.7,4.8zM585.3,76.4l2.7,-4.8l2.7,4.8zM585.5,86.1l2.7,-4.8l2.7,4.8zM585.7,75.2l2.7,-4.8l2.7,4.8zM585.8,67.7l2.7,-4.8l2.7,4.8zM586.0,76.8l2.7,-4.8l2.7,4.8zM586.2,83.6l2.7,-4.8l2.7,4.8zM586.4,78.6l2.7,-4.8l2.7,4.8zM586.5,78.3l2.7,-4.8l2.7,4.8zM586.7,81.4l2.7,-4.8l2.7,4.8zM586.9,66.7l2.7,-4.8l2.7,4.8zM587.1,75.0l2.7,-4.8l2.7,4.8zM587.3,71.0l2.7,-4.8l2.7,4.8zM587.4,73.4l2.7,-4.8l2.7,4.8zM587.6,72.0l2.7,-4.8l2.7,4.8zM587.8,71.5l2.7,-4.8l2.7,4.8zM588.0,79.0l2.7,-4.8l2.7,4.8zM588.1,74.3l2.7,-4.8l2.7,4.8zM588.3,70.1l2.7,-4.8l2.7,4.8zM588.5,75.0l2.7,-4.8l2.7,4.8zM588.7,81.3l2.7,-4.8l2.7,4.8zM588.9,80.2l2.7,-4.8l2.7,4.8zM589.0,77.0l2.7,-4.8l2.7,4.8zM589.2,78.3l2.7,-4.8l2.7,4.8zM589.4,78.6l2.7,-4.8l2.7,4.8zM589.6,77.0l2.7,-4.8l2.7,4.8zM589.7,74.5l2.7,-4.8l2.7,4.8zM589.9,82.3l2.7,-4.8l2.7,4.8zM590.1,80.8l2.7,-4.8l2.7,4.8zM590.3,77.8l2.7,-4.8l2.7,4.8zM590.5,78.4l2.7,-4.8l2.7,4.8zM590.6,75.6l2.7,-4.8l2.7,4.8zM590.8,71.5l2.7,-4.8l2.7,4.8zM591.0,78.4l2.7,-4.8l2.7,4.8zM591.2,79.5l2.7,-4.8l2.7,4.8zM591.3,78.5l2.7,-4.8l2.7,4.8zM591.5,76.9l2.7,-4.8l2.7,4.8zM591.7,74.6l2.7,-4.8l2.7,4.8zM591.9,90.8l2.7,-4.8l2.7,4.8zM592.0,76.4l2.7,-4.8l2.7,4.8zM592.2,78.2l2.7,-4.8l2.7,4.8zM592.4,75.5l2.7,-4.8l2.7,4.8zM592.6,77.4l2.7,-4.8l2.7,4.8zM592.8,81.9l2.7,-4.8l2.7,4.8zM592.9,78.8l2.7,-4.8l2.7,4.8zM593.1,72.8l2.7,-4.8l2.7,4.8zM593.3,71.1l2.7,-4.8l2.7,4.8zM593.5,77.9l2.7,-4.8l2.7,4.8zM593.6,82.8l2.7,-4.8l2.7,4.8zM593.8,70.9l2.7,-4.8l2.7,4.8zM594.0,74.0l2.7,-4.8l2.7,4.8zM594.2,80.8l2.7,-4.8l2.7,4.8zM594.4,83.8l2.7,-4.8l2.7,4.8zM594.5,75.7l2.7,-4.8l2.7,4.8zM594.7,80.4l2.7,-4.8l2.7,4.8zM594.9,71.8l2.7,-4.8l2.7,4.8zM595.1,78.0l2.7,-4.8l2.7,4.8zM595.2,69.9l2.7,-4.8l2.7,4.8zM595.4,79.2l2.7,-4.8l2.7,4.8zM595.6,89.0l2.7,-4.8l2.7,4.8zM595.8,79.1l2.7,-4.8l2.7,4.8zM596.0,74.6l2.7,-4.8l2.7,4.8zM596.1,63.5l2.7,-4.8l2.7,4.8zM596.3,81.2l2.7,-4.8l2.7,4.8zM596.5,76.4l2.7,-4.8l2.7,4.8zM596.7,74.9l2.7,-4.8l2.7,4.8zM596.8,78.3l2.7,-4.8l2.7,4.8zM597.0,73.9l2.7,-4.8l2.7,4.8zM597.2,79.0l2.7,-4.8l2.7,4.8zM597.4,57.0l2.7,-4.8l2.7,4.8zM597.6,83.5l2.7,-4.8l2.7,4.8zM597.7,77.3l2.7,-4.8l2.7,4.8zM597.9,80.8l2.7,-4.8l2.7,4.8zM598.1,80.0l2.7,-4.8l2.7,4.8zM598.3,82.4l2.7,-4.8l2.7,4.8zM598.4,74.8l2.7,-4.8l2.7,4.8zM598.6,76.3l2.7,-4.8l2.7,4.8zM598.8,70.3l2.7,-4.8l2.7,4.8zM599.0,79.9l2.7,-4.8l2.7,4.8zM599.2,85.4l2.7,-4.8l2.7,4.8zM599.3,80.9l2.7,-4.8l2.7,4.8zM599.5,76.1l2.7,-4.8l2.7,4.8zM599.7,84.0l2.7,-4.8l2.7,4.8zM599.9,73.5l2.7,-4.8l2.7,4.8zM600.0,77.2l2.7,-4.8l2.7,4.8zM600.2,72.6l2.7,-4.8l2.7,4.8zM600.4,82.8l2.7,-4.8l2.7,4.8zM600.6,73.7l2.7,-4.8l2.7,4.8zM600.8,81.6l2.7,-4.8l2.7,4.8zM600.9,83.6l2.7,-4.8l2.7,4.8zM601.1,76.0l2.7,-4.8l2.7,4.8zM601.3,77.4l2.7,-4.8l2.7,4.8zM601.5,75.2l2.7,-4.8l2.7,4.8zM601.6,87.5l2.7,-4.8l2.7,4.8zM601.8,82.1l2.7,-4.8l2.7,4.8zM602.0,79.7l2.7,-4.8l2.7,4.8zM602.2,82.5l2.7,-4.8l2.7,4.8zM602.4,83.6l2.7,-4.8l2.7,4.8zM602.5,74.4l2.7,-4.8l2.7,4.8zM602.7,78.2l2.7,-4.8l2.7,4.8zM602.9,77.1l2.7,-4.8l2.7,4.8zM603.1,79.5l2.7,-4.8l2.7,4.8zM603.2,73.9l2.7,-4.8l2.7,4.8zM603.4,63.4l2.7,-4.8l2.7,4.8zM603.6,81.8l2.7,-4.8l2.7,4.8zM603.8,82.0l2.7,-4.8l2.7,4.8zM603.9,78.7l2.7,-4.8l2.7,4.8zM604.1,73.0l2.7,-4.8l2.7,4.8zM604.3,66.0l2.7,-4.8l2.7,4.8zM604.5,77.6l2.7,-4.8l2.7,4.8zM604.7,75.7l2.7,-4.8l2.7,4.8zM604.8,78.0l2.7,-4.8l2.7,4.8zM605.0,81.7l2.7,-4.8l2.7,4.8zM605.2,82.7l2.7,-4.8l2.7,4.8zM605.4,81.4l2.7,-4.8l2.7,4.8zM605.5,84.4l2.7,-4.8l2.7,4.8zM605.7,69.8l2.7,-4.8l2.7,4.8zM605.9,77.4l2.7,-4.8l2.7,4.8zM606.1,84.8l2.7,-4.8l2.7,4.8zM606.3,75.8l2.7,-4.8l2.7,4.8zM606.4,82.1l2.7,-4.8l2.7,4.8zM606.6,88.9l2.7,-4.8l2.7,4.8zM606.8,74.5l2.7,-4.8l2.7,4.8zM607.0,84.7l2.7,-4.8l2.7,4.8zM607.1,79.4l2.7,-4.8l2.7,4.8zM607.3,72.7l2.7,-4.8l2.7,4.8zM607.5,75.2l2.7,-4.8l2.7,4.8zM607.7,78.8l2.7,-4.8l2.7,4.8zM607.9,72.4l2.7,-4.8l2.7,4.8zM608.0,74.3l2.7,-4.8l2.7,4.8zM608.2,81.2l2.7,-4.8l2.7,4.8zM608.4,78.0l2.7,-4.8l2.7,4.8zM608.6,76.8l2.7,-4.8l2.7,4.8zM608.7,75.6l2.7,-4.8l2.7,4.8zM608.9,84.9l2.7,-4.8l2.7,4.8zM609.1,81.3l2.7,-4.8l2.7,4.8zM609.3,76.6l2.7,-4.8l2.7,4.8zM609.5,80.2l2.7,-4.8l2.7,4.8zM609.6,82.4l2.7,-4.8l2.7,4.8zM609.8,81.5l2.7,-4.8l2.7,4.8zM610.0,72.7l2.7,-4.8l2.7,4.8zM610.2,80.5l2.7,-4.8l2.7,4.8zM610.3,80.3l2.7,-4.8l2.7,4.8zM610.5,77.1l2.7,-4.8l2.7,4.8zM610.7,78.3l2.7,-4.8l2.7,4.8zM610.9,79.2l2.7,-4.8l2.7,4.8zM611.1,74.9l2.7,-4.8l2.7,4.8zM611.2,81.7l2.7,-4.8l2.7,4.8zM611.4,71.6l2.7,-4.8l2.7,4.8zM611.6,81.1l2.7,-4.8l2.7,4.8zM611.8,83.1l2.7,-4.8l2.7,4.8zM611.9,81.4l2.7,-4.8l2.7,4.8zM612.1,79.0l2.7,-4.8l2.7,4.8zM612.3,82.1l2.7,-4.8l2.7,4.8zM612.5,94.8l2.7,-4.8l2.7,4.8zM612.7,68.4l2.7,-4.8l2.7,4.8zM612.8,92.4l2.7,-4.8l2.7,4.8zM613.0,72.4l2.7,-4.8l2.7,4.8zM613.2,83.3l2.7,-4.8l2.7,4.8zM613.4,66.3l2.7,-4.8l2.7,4.8zM613.5,76.3l2.7,-4.8l2.7,4.8zM613.7,77.9l2.7,-4.8l2.7,4.8zM613.9,81.9l2.7,-4.8l2.7,4.8zM614.1,69.8l2.7,-4.8l2.7,4.8zM614.2,84.7l2.7,-4.8l2.7,4.8zM614.4,78.4l2.7,-4.8l2.7,4.8zM614.6,82.2l2.7,-4.8l2.7,4.8zM614.8,74.6l2.7,-4.8l2.7,4.8zM615.0,75.1l2.7,-4.8l2.7,4.8zM615.1,81.2l2.7,-4.8l2.7,4.8zM615.3,89.2l2.7,-4.8l2.7,4.8zM615.5,77.7l2.7,-4.8l2.7,4.8zM615.7,79.1l2.7,-4.8l2.7,4.8zM615.8,73.9l2.7,-4.8l2.7,4.8zM616.0,72.1l2.7,-4.8l2.7,4.8zM616.2,75.7l2.7,-4.8l2.7,4.8zM616.4,69.4l2.7,-4.8l2.7,4.8zM616.6,74.9l2.7,-4.8l2.7,4.8zM616.7,72.4l2.7,-4.8l2.7,4.8zM616.9,75.3l2.7,-4.8l2.7,4.8zM617.1,73.3l2.7,-4.8l2.7,4.8zM617.3,72.0l2.7,-4.8l2.7,4.8zM617.4,76.2l2.7,-4.8l2.7,4.8zM617.6,76.6l2.7,-4.8l2.7,4.8zM617.8,74.2l2.7,-4.8l2.7,4.8zM618.0,71.5l2.7,-4.8l2.7,4.8zM618.2,80.8l2.7,-4.8l2.7,4.8zM618.3,71.2l2.7,-4.8l2.7,4.8zM618.5,77.4l2.7,-4.8l2.7,4.8zM618.7,73.5l2.7,-4.8l2.7,4.8zM618.9,83.0l2.7,-4.8l2.7,4.8zM619.0,74.6l2.7,-4.8l2.7,4.8zM619.2,78.4l2.7,-4.8l2.7,4.8zM619.4,77.8l2.7,-4.8l2.7,4.8zM619.6,86.0l2.7,-4.8l2.7,4.8zM619.8,71.2l2.7,-4.8l2.7,4.8zM619.9,70.8l2.7,-4.8l2.7,4.8zM620.1,77.5l2.7,-4.8l2.7,4.8zM620.3,79.0l2.7,-4.8l2.7,4.8zM620.5,77.8l2.7,-4.8l2.7,4.8zM620.6,93.6l2.7,-4.8l2.7,4.8zM620.8,80.6l2.7,-4.8l2.7,4.8zM621.0,76.8l2.7,-4.8l2.7,4.8zM621.2,75.0l2.7,-4.8l2.7,4.8zM621.4,81.6l2.7,-4.8l2.7,4.8zM621.5,79.3l2.7,-4.8l2.7,4.8zM621.7,82.1l2.7,-4.8l2.7,4.8zM621.9,71.8l2.7,-4.8l2.7,4.8zM622.1,77.0l2.7,-4.8l2.7,4.8zM622.2,80.9l2.7,-4.8l2.7,4.8zM622.4,81.7l2.7,-4.8l2.7,4.8zM622.6,85.3l2.7,-4.8l2.7,4.8zM622.8,75.7l2.7,-4.8l2.7,4.8zM623.0,76.9l2.7,-4.8l2.7,4.8zM623.1,80.5l2.7,-4.8l2.7,4.8zM623.3,80.2l2.7,-4.8l2.7,4.8zM623.5,69.2l2.7,-4.8l2.7,4.8zM623.7,79.4l2.7,-4.8l2.7,4.8zM623.8,70.5l2.7,-4.8l2.7,4.8zM624.0,79.5l2.7,-4.8l2.7,4.8zM624.2,75.1l2.7,-4.8l2.7,4.8zM624.4,77.7l2.7,-4.8l2.7,4.8zM624.5,75.6l2.7,-4.8l2.7,4.8zM624.7,82.0l2.7,-4.8l2.7,4.8zM624.9,78.3l2.7,-4.8l2.7,4.8zM625.1,69.9l2.7,-4.8l2.7,4.8zM625.3,81.8l2.7,-4.8l2.7,4.8zM625.4,81.7l2.7,-4.8l2.7,4.8zM625.6,83.0l2.7,-4.8l2.7,4.8zM625.8,82.4l2.7,-4.8l2.7,4.8zM626.0,85.5l2.7,-4.8l2.7,4.8zM626.1,73.2l2.7,-4.8l2.7,4.8zM626.3,84.8l2.7,-4.8l2.7,4.8zM626.5,82.8l2.7,-4.8l2.7,4.8zM626.7,73.8l2.7,-4.8l2.7,4.8zM626.9,77.2l2.7,-4.8l2.7,4.8zM627.0,85.5l2.7,-4.8l2.7,4.8zM627.2,85.7l2.7,-4.8l2.7,4.8zM627.4,80.4l2.7,-4.8l2.7,4.8zM627.6,78.8l2.7,-4.8l2.7,4.8zM627.7,81.1l2.7,-4.8l2.7,4.8zM627.9,86.2l2.7,-4.8l2.7,4.8zM628.1,84.7l2.7,-4.8l2.7,4.8zM628.3,79.8l2.7,-4.8l2.7,4.8zM628.5,74.3l2.7,-4.8l2.7,4.8zM628.6,78.6l2.7,-4.8l2.7,4.8zM628.8,80.2l2.7,-4.8l2.7,4.8zM629.0,76.6l2.7,-4.8l2.7,4.8zM629.2,76.0l2.7,-4.8l2.7,4.8zM629.3,82.0l2.7,-4.8l2.7,4.8zM629.5,76.8l2.7,-4.8l2.7,4.8zM629.7,80.4l2.7,-4.8l2.7,4.8zM629.9,73.2l2.7,-4.8l2.7,4.8zM630.1,80.8l2.7,-4.8l2.7,4.8zM630.2,76.2l2.7,-4.8l2.7,4.8zM630.4,74.6l2.7,-4.8l2.7,4.8zM630.6,80.9l2.7,-4.8l2.7,4.8zM630.8,72.9l2.7,-4.8l2.7,4.8zM630.9,76.5l2.7,-4.8l2.7,4.8zM631.1,76.2l2.7,-4.8l2.7,4.8zM631.3,72.3l2.7,-4.8l2.7,4.8zM631.5,73.4l2.7,-4.8l2.7,4.8zM631.7,80.6l2.7,-4.8l2.7,4.8zM631.8,87.5l2.7,-4.8l2.7,4.8zM632.0,73.3l2.7,-4.8l2.7,4.8zM632.2,81.4l2.7,-4.8l2.7,4.8zM632.4,74.1l2.7,-4.8l2.7,4.8zM632.5,78.9l2.7,-4.8l2.7,4.8zM632.7,82.3l2.7,-4.8l2.7,4.8zM632.9,80.6l2.7,-4.8l2.7,4.8zM633.1,84.8l2.7,-4.8l2.7,4.8zM633.3,75.5l2.7,-4.8l2.7,4.8zM633.4,73.9l2.7,-4.8l2.7,4.8zM633.6,80.8l2.7,-4.8l2.7,4.8zM633.8,71.8l2.7,-4.8l2.7,4.8zM634.0,74.9l2.7,-4.8l2.7,4.8zM634.1,74.0l2.7,-4.8l2.7,4.8zM634.3,78.1l2.7,-4.8l2.7,4.8zM634.5,70.9l2.7,-4.8l2.7,4.8zM634.7,79.0l2.7,-4.8l2.7,4.8zM634.9,71.1l2.7,-4.8l2.7,4.8zM635.0,67.6l2.7,-4.8l2.7,4.8zM635.2,74.0l2.7,-4.8l2.7,4.8zM635.4,76.4l2.7,-4.8l2.7,4.8zM635.6,63.3l2.7,-4.8l2.7,4.8zM635.7,82.0l2.7,-4.8l2.7,4.8zM635.9,76.9l2.7,-4.8l2.7,4.8zM636.1,87.7l2.7,-4.8l2.7,4.8zM636.3,83.5l2.7,-4.8l2.7,4.8zM636.4,81.3l2.7,-4.8l2.7,4.8zM636.6,77.3l2.7,-4.8l2.7,4.8zM636.8,75.0l2.7,-4.8l2.7,4.8zM637.0,77.1l2.7,-4.8l2.7,4.8zM637.2,86.7l2.7,-4.8l2.7,4.8zM637.3,72.6l2.7,-4.8l2.7,4.8zM637.5,70.3l2.7,-4.8l2.7,4.8zM637.7,82.4l2.7,-4.8l2.7,4.8zM637.9,72.0l2.7,-4.8l2.7,4.8zM638.0,83.0l2.7,-4.8l2.7,4.8zM638.2,79.2l2.7,-4.8l2.7,4.8zM638.4,75.0l2.7,-4.8l2.7,4.8zM638.6,81.7l2.7,-4.8l2.7,4.8zM638.8,77.0l2.7,-4.8l2.7,4.8zM638.9,75.8l2.7,-4.8l2.7,4.8zM639.1,71.8l2.7,-4.8l2.7,4.8zM639.3,70.2l2.7,-4.8l2.7,4.8zM639.5,75.3l2.7,-4.8l2.7,4.8zM639.6,74.3l2.7,-4.8l2.7,4.8zM639.8,74.7l2.7,-4.8l2.7,4.8zM640.0,72.8l2.7,-4.8l2.7,4.8zM640.2,68.0l2.7,-4.8l2.7,4.8zM640.4,69.2l2.7,-4.8l2.7,4.8zM640.5,78.7l2.7,-4.8l2.7,4.8zM640.7,79.9l2.7,-4.8l2.7,4.8zM640.9,77.4l2.7,-4.8l2.7,4.8zM641.1,74.3l2.7,-4.8l2.7,4.8zM641.2,67.2l2.7,-4.8l2.7,4.8zM641.4,77.4l2.7,-4.8l2.7,4.8zM641.6,76.0l2.7,-4.8l2.7,4.8zM641.8,78.2l2.7,-4.8l2.7,4.8zM642.0,76.5l2.7,-4.8l2.7,4.8zM642.1,77.3l2.7,-4.8l2.7,4.8zM642.3,77.1l2.7,-4.8l2.7,4.8zM642.5,77.0l2.7,-4.8l2.7,4.8zM642.7,75.4l2.7,-4.8l2.7,4.8zM642.8,72.9l2.7,-4.8l2.7,4.8zM643.0,79.4l2.7,-4.8l2.7,4.8zM643.2,78.3l2.7,-4.8l2.7,4.8zM643.4,77.9l2.7,-4.8l2.7,4.8zM643.6,80.1l2.7,-4.8l2.7,4.8zM643.7,81.2l2.7,-4.8l2.7,4.8zM643.9,80.5l2.7,-4.8l2.7,4.8zM644.1,82.5l2.7,-4.8l2.7,4.8zM644.3,81.7l2.7,-4.8l2.7,4.8zM644.4,76.8l2.7,-4.8l2.7,4.8zM644.6,75.7l2.7,-4.8l2.7,4.8zM644.8,77.5l2.7,-4.8l2.7,4.8zM645.0,78.7l2.7,-4.8l2.7,4.8zM645.2,72.4l2.7,-4.8l2.7,4.8zM645.3,77.1l2.7,-4.8l2.7,4.8zM645.5,78.9l2.7,-4.8l2.7,4.8zM645.7,80.1l2.7,-4.8l2.7,4.8zM645.9,70.6l2.7,-4.8l2.7,4.8zM646.0,75.7l2.7,-4.8l2.7,4.8zM646.2,83.6l2.7,-4.8l2.7,4.8zM646.4,69.2l2.7,-4.8l2.7,4.8zM646.6,79.3l2.7,-4.8l2.7,4.8zM646.7,74.7l2.7,-4.8l2.7,4.8zM646.9,75.6l2.7,-4.8l2.7,4.8zM647.1,86.0l2.7,-4.8l2.7,4.8zM647.3,77.8l2.7,-4.8l2.7,4.8zM647.5,75.2l2.7,-4.8l2.7,4.8zM647.6,69.4l2.7,-4.8l2.7,4.8zM647.8,76.0l2.7,-4.8l2.7,4.8zM648.0,72.0l2.7,-4.8l2.7,4.8zM648.2,74.0l2.7,-4.8l2.7,4.8zM648.3,95.9l2.7,-4.8l2.7,4.8zM648.5,81.0l2.7,-4.8l2.7,4.8zM648.7,80.5l2.7,-4.8l2.7,4.8zM648.9,81.0l2.7,-4.8l2.7,4.8zM649.1,78.4l2.7,-4.8l2.7,4.8zM649.2,75.7l2.7,-4.8l2.7,4.8zM649.4,82.9l2.7,-4.8l2.7,4.8zM649.6,76.0l2.7,-4.8l2.7,4.8zM649.8,70.6l2.7,-4.8l2.7,4.8zM649.9,70.9l2.7,-4.8l2.7,4.8zM650.1,76.3l2.7,-4.8l2.7,4.8zM650.3,70.8l2.7,-4.8l2.7,4.8zM650.5,76.4l2.7,-4.8l2.7,4.8zM650.7,77.5l2.7,-4.8l2.7,4.8zM650.8,93.9l2.7,-4.8l2.7,4.8zM651.0,80.7l2.7,-4.8l2.7,4.8zM651.2,77.0l2.7,-4.8l2.7,4.8zM651.4,73.3l2.7,-4.8l2.7,4.8zM651.5,74.0l2.7,-4.8l2.7,4.8zM651.7,86.4l2.7,-4.8l2.7,4.8zM651.9,72.2l2.7,-4.8l2.7,4.8zM652.1,75.5l2.7,-4.8l2.7,4.8zM652.3,77.2l2.7,-4.8l2.7,4.8zM652.4,72.6l2.7,-4.8l2.7,4.8zM652.6,78.9l2.7,-4.8l2.7,4.8zM652.8,77.6l2.7,-4.8l2.7,4.8zM653.0,74.8l2.7,-4.8l2.7,4.8zM653.1,76.9l2.7,-4.8l2.7,4.8zM653.3,71.5l2.7,-4.8l2.7,4.8zM653.5,79.6l2.7,-4.8l2.7,4.8zM653.7,76.4l2.7,-4.8l2.7,4.8zM653.9,78.0l2.7,-4.8l2.7,4.8zM654.0,78.8l2.7,-4.8l2.7,4.8zM654.2,80.4l2.7,-4.8l2.7,4.8zM654.4,79.7l2.7,-4.8l2.7,4.8zM654.6,79.6l2.7,-4.8l2.7,4.8zM654.7,73.8l2.7,-4.8l2.7,4.8zM654.9,78.3l2.7,-4.8l2.7,4.8zM655.1,72.9l2.7,-4.8l2.7,4.8zM655.3,73.2l2.7,-4.8l2.7,4.8zM655.5,77.8l2.7,-4.8l2.7,4.8zM655.6,72.3l2.7,-4.8l2.7,4.8zM655.8,75.6l2.7,-4.8l2.7,4.8zM656.0,75.6l2.7,-4.8l2.7,4.8zM656.2,78.0l2.7,-4.8l2.7,4.8zM656.3,74.0l2.7,-4.8l2.7,4.8zM656.5,74.0l2.7,-4.8l2.7,4.8zM656.7,82.4l2.7,-4.8l2.7,4.8zM656.9,75.1l2.7,-4.8l2.7,4.8zM657.1,70.6l2.7,-4.8l2.7,4.8zM657.2,81.0l2.7,-4.8l2.7,4.8zM657.4,80.5l2.7,-4.8l2.7,4.8zM657.6,76.3l2.7,-4.8l2.7,4.8zM657.8,72.0l2.7,-4.8l2.7,4.8zM657.9,73.1l2.7,-4.8l2.7,4.8zM658.1,76.9l2.7,-4.8l2.7,4.8zM658.3,82.0l2.7,-4.8l2.7,4.8zM658.5,79.0l2.7,-4.8l2.7,4.8zM658.6,79.4l2.7,-4.8l2.7,4.8zM658.8,70.0l2.7,-4.8l2.7,4.8zM659.0,74.0l2.7,-4.8l2.7,4.8zM659.2,80.7l2.7,-4.8l2.7,4.8zM659.4,83.9l2.7,-4.8l2.7,4.8zM659.5,74.6l2.7,-4.8l2.7,4.8zM659.7,70.3l2.7,-4.8l2.7,4.8zM659.9,79.1l2.7,-4.8l2.7,4.8zM660.1,81.2l2.7,-4.8l2.7,4.8zM660.2,72.0l2.7,-4.8l2.7,4.8zM660.4,74.9l2.7,-4.8l2.7,4.8zM660.6,82.0l2.7,-4.8l2.7,4.8zM660.8,76.9l2.7,-4.8l2.7,4.8zM661.0,82.2l2.7,-4.8l2.7,4.8zM661.1,75.3l2.7,-4.8l2.7,4.8zM661.3,88.3l2.7,-4.8l2.7,4.8zM661.5,71.7l2.7,-4.8l2.7,4.8zM661.7,78.6l2.7,-4.8l2.7,4.8zM661.8,73.0l2.7,-4.8l2.7,4.8zM662.0,81.6l2.7,-4.8l2.7,4.8zM662.2,84.1l2.7,-4.8l2.7,4.8zM662.4,75.4l2.7,-4.8l2.7,4.8zM662.6,81.3l2.7,-4.8l2.7,4.8zM662.7,78.7l2.7,-4.8l2.7,4.8zM662.9,74.2l2.7,-4.8l2.7,4.8zM663.1,81.4l2.7,-4.8l2.7,4.8zM663.3,78.1l2.7,-4.8l2.7,4.8zM663.4,74.9l2.7,-4.8l2.7,4.8zM663.6,68.8l2.7,-4.8l2.7,4.8zM663.8,72.0l2.7,-4.8l2.7,4.8zM664.0,71.4l2.7,-4.8l2.7,4.8zM664.2,86.7l2.7,-4.8l2.7,4.8zM664.3,68.1l2.7,-4.8l2.7,4.8zM664.5,77.6l2.7,-4.8l2.7,4.8zM664.7,79.6l2.7,-4.8l2.7,4.8zM664.9,71.6l2.7,-4.8l2.7,4.8zM665.0,77.9l2.7,-4.8l2.7,4.8zM665.2,72.3l2.7,-4.8l2.7,4.8zM665.4,75.6l2.7,-4.8l2.7,4.8zM665.6,77.1l2.7,-4.8l2.7,4.8zM665.8,83.6l2.7,-4.8l2.7,4.8zM665.9,77.3l2.7,-4.8l2.7,4.8zM666.1,75.5l2.7,-4.8l2.7,4.8zM666.3,73.0l2.7,-4.8l2.7,4.8zM666.5,72.5l2.7,-4.8l2.7,4.8zM666.6,80.7l2.7,-4.8l2.7,4.8zM666.8,73.7l2.7,-4.8l2.7,4.8zM667.0,74.9l2.7,-4.8l2.7,4.8zM667.2,78.3l2.7,-4.8l2.7,4.8zM667.4,74.7l2.7,-4.8l2.7,4.8zM667.5,82.9l2.7,-4.8l2.7,4.8zM667.7,68.7l2.7,-4.8l2.7,4.8zM667.9,80.9l2.7,-4.8l2.7,4.8zM668.1,81.2l2.7,-4.8l2.7,4.8zM668.2,73.7l2.7,-4.8l2.7,4.8zM668.4,80.1l2.7,-4.8l2.7,4.8zM668.6,72.8l2.7,-4.8l2.7,4.8zM668.8,73.7l2.7,-4.8l2.7,4.8zM668.9,90.1l2.7,-4.8l2.7,4.8zM669.1,77.8l2.7,-4.8l2.7,4.8zM669.3,86.5l2.7,-4.8l2.7,4.8zM669.5,76.8l2.7,-4.8l2.7,4.8zM669.7,77.9l2.7,-4.8l2.7,4.8zM669.8,70.9l2.7,-4.8l2.7,4.8zM670.0,81.3l2.7,-4.8l2.7,4.8zM670.2,79.3l2.7,-4.8l2.7,4.8zM670.4,77.1l2.7,-4.8l2.7,4.8zM670.5,79.3l2.7,-4.8l2.7,4.8zM670.7,85.4l2.7,-4.8l2.7,4.8zM670.9,78.4l2.7,-4.8l2.7,4.8zM671.1,76.6l2.7,-4.8l2.7,4.8zM671.3,77.0l2.7,-4.8l2.7,4.8zM671.4,78.1l2.7,-4.8l2.7,4.8zM671.6,81.3l2.7,-4.8l2.7,4.8zM671.8,69.5l2.7,-4.8l2.7,4.8zM672.0,71.7l2.7,-4.8l2.7,4.8zM672.1,81.4l2.7,-4.8l2.7,4.8zM672.3,75.9l2.7,-4.8l2.7,4.8zM672.5,86.9l2.7,-4.8l2.7,4.8zM672.7,82.8l2.7,-4.8l2.7,4.8zM672.9,77.2l2.7,-4.8l2.7,4.8zM673.0,75.9l2.7,-4.8l2.7,4.8zM673.2,81.0l2.7,-4.8l2.7,4.8zM673.4,68.6l2.7,-4.8l2.7,4.8zM673.6,86.2l2.7,-4.8l2.7,4.8zM673.7,84.0l2.7,-4.8l2.7,4.8zM673.9,77.0l2.7,-4.8l2.7,4.8zM674.1,72.9l2.7,-4.8l2.7,4.8zM674.3,80.5l2.7,-4.8l2.7,4.8zM674.5,68.9l2.7,-4.8l2.7,4.8zM674.6,77.1l2.7,-4.8l2.7,4.8zM674.8,74.5l2.7,-4.8l2.7,4.8zM675.0,73.6l2.7,-4.8l2.7,4.8zM675.2,77.9l2.7,-4.8l2.7,4.8zM675.3,81.5l2.7,-4.8l2.7,4.8zM675.5,78.2l2.7,-4.8l2.7,4.8zM675.7,71.4l2.7,-4.8l2.7,4.8zM675.9,71.5l2.7,-4.8l2.7,4.8zM676.1,75.9l2.7,-4.8l2.7,4.8zM676.2,82.8l2.7,-4.8l2.7,4.8zM676.4,73.4l2.7,-4.8l2.7,4.8zM676.6,71.5l2.7,-4.8l2.7,4.8zM676.8,76.1l2.7,-4.8l2.7,4.8zM676.9,79.2l2.7,-4.8l2.7,4.8zM677.1,76.4l2.7,-4.8l2.7,4.8zM677.3,79.7l2.7,-4.8l2.7,4.8zM677.5,85.2l2.7,-4.8l2.7,4.8zM677.7,69.5l2.7,-4.8l2.7,4.8zM677.8,80.4l2.7,-4.8l2.7,4.8zM678.0,77.3l2.7,-4.8l2.7,4.8zM678.2,78.2l2.7,-4.8l2.7,4.8zM678.4,80.5l2.7,-4.8l2.7,4.8zM678.5,79.5l2.7,-4.8l2.7,4.8zM678.7,74.8l2.7,-4.8l2.7,4.8zM678.9,75.7l2.7,-4.8l2.7,4.8zM679.1,78.9l2.7,-4.8l2.7,4.8zM679.2,78.2l2.7,-4.8l2.7,4.8zM679.4,69.7l2.7,-4.8l2.7,4.8zM679.6,80.7l2.7,-4.8l2.7,4.8zM679.8,78.8l2.7,-4.8l2.7,4.8zM680.0,73.4l2.7,-4.8l2.7,4.8zM680.1,69.5l2.7,-4.8l2.7,4.8zM680.3,72.9l2.7,-4.8l2.7,4.8zM680.5,73.7l2.7,-4.8l2.7,4.8zM680.7,77.7l2.7,-4.8l2.7,4.8zM680.8,75.7l2.7,-4.8l2.7,4.8zM681.0,72.3l2.7,-4.8l2.7,4.8zM681.2,72.3l2.7,-4.8l2.7,4.8zM681.4,70.8l2.7,-4.8l2.7,4.8zM681.6,81.4l2.7,-4.8l2.7,4.8zM681.7,62.3l2.7,-4.8l2.7,4.8zM681.9,66.4l2.7,-4.8l2.7,4.8zM682.1,74.9l2.7,-4.8l2.7,4.8zM682.3,80.6l2.7,-4.8l2.7,4.8zM682.4,70.0l2.7,-4.8l2.7,4.8zM682.6,70.8l2.7,-4.8l2.7,4.8zM682.8,76.0l2.7,-4.8l2.7,4.8zM683.0,76.9l2.7,-4.8l2.7,4.8zM683.2,67.9l2.7,-4.8l2.7,4.8zM683.3,73.2l2.7,-4.8l2.7,4.8zM683.5,80.2l2.7,-4.8l2.7,4.8zM683.7,78.5l2.7,-4.8l2.7,4.8zM683.9,71.4l2.7,-4.8l2.7,4.8zM684.0,80.2l2.7,-4.8l2.7,4.8zM684.2,71.5l2.7,-4.8l2.7,4.8zM684.4,72.4l2.7,-4.8l2.7,4.8zM684.6,73.1l2.7,-4.8l2.7,4.8zM684.8,81.4l2.7,-4.8l2.7,4.8zM684.9,77.7l2.7,-4.8l2.7,4.8zM685.1,78.3l2.7,-4.8l2.7,4.8zM685.3,82.8l2.7,-4.8l2.7,4.8zM685.5,69.2l2.7,-4.8l2.7,4.8zM685.6,71.1l2.7,-4.8l2.7,4.8zM685.8,77.3l2.7,-4.8l2.7,4.8zM686.0,83.5l2.7,-4.8l2.7,4.8zM686.2,68.5l2.7,-4.8l2.7,4.8zM686.4,84.0l2.7,-4.8l2.7,4.8zM686.5,77.4l2.7,-4.8l2.7,4.8zM686.7,83.9l2.7,-4.8l2.7,4.8zM686.9,77.6l2.7,-4.8l2.7,4.8zM687.1,72.9l2.7,-4.8l2.7,4.8zM687.2,83.5l2.7,-4.8l2.7,4.8zM687.4,69.4l2.7,-4.8l2.7,4.8zM687.6,79.7l2.7,-4.8l2.7,4.8zM687.8,73.3l2.7,-4.8l2.7,4.8zM688.0,70.7l2.7,-4.8l2.7,4.8zM688.1,74.6l2.7,-4.8l2.7,4.8zM688.3,77.8l2.7,-4.8l2.7,4.8zM688.5,78.8l2.7,-4.8l2.7,4.8zM688.7,79.1l2.7,-4.8l2.7,4.8zM688.8,76.6l2.7,-4.8l2.7,4.8zM689.0,76.5l2.7,-4.8l2.7,4.8zM689.2,78.0l2.7,-4.8l2.7,4.8zM689.4,79.5l2.7,-4.8l2.7,4.8zM689.6,76.9l2.7,-4.8l2.7,4.8zM689.7,71.0l2.7,-4.8l2.7,4.8zM689.9,71.1l2.7,-4.8l2.7,4.8zM690.1,79.6l2.7,-4.8l2.7,4.8zM690.3,74.8l2.7,-4.8l2.7,4.8zM690.4,81.0l2.7,-4.8l2.7,4.8zM690.6,63.5l2.7,-4.8l2.7,4.8zM690.8,76.8l2.7,-4.8l2.7,4.8zM691.0,81.3l2.7,-4.8l2.7,4.8zM691.1,66.7l2.7,-4.8l2.7,4.8zM691.3,80.5l2.7,-4.8l2.7,4.8zM691.5,65.6l2.7,-4.8l2.7,4.8zM691.7,77.2l2.7,-4.8l2.7,4.8zM691.9,79.1l2.7,-4.8l2.7,4.8zM692.0,79.2l2.7,-4.8l2.7,4.8zM692.2,78.1l2.7,-4.8l2.7,4.8zM692.4,86.1l2.7,-4.8l2.7,4.8zM692.6,72.1l2.7,-4.8l2.7,4.8zM692.7,71.4l2.7,-4.8l2.7,4.8zM692.9,79.8l2.7,-4.8l2.7,4.8zM693.1,76.6l2.7,-4.8l2.7,4.8zM693.3,76.4l2.7,-4.8l2.7,4.8zM693.5,78.1l2.7,-4.8l2.7,4.8zM693.6,74.5l2.7,-4.8l2.7,4.8zM693.8,74.8l2.7,-4.8l2.7,4.8zM694.0,78.4l2.7,-4.8l2.7,4.8zM694.2,77.4l2.7,-4.8l2.7,4.8zM694.3,81.2l2.7,-4.8l2.7,4.8zM694.5,79.0l2.7,-4.8l2.7,4.8zM694.7,73.4l2.7,-4.8l2.7,4.8zM694.9,63.1l2.7,-4.8l2.7,4.8zM695.1,80.1l2.7,-4.8l2.7,4.8zM695.2,82.4l2.7,-4.8l2.7,4.8zM695.4,77.1l2.7,-4.8l2.7,4.8zM695.6,78.8l2.7,-4.8l2.7,4.8zM695.8,78.1l2.7,-4.8l2.7,4.8zM695.9,88.2l2.7,-4.8l2.7,4.8zM696.1,63.4l2.7,-4.8l2.7,4.8zM696.3,68.8l2.7,-4.8l2.7,4.8zM696.5,73.1l2.7,-4.8l2.7,4.8zM696.7,70.7l2.7,-4.8l2.7,4.8zM696.8,74.9l2.7,-4.8l2.7,4.8zM697.0,66.2l2.7,-4.8l2.7,4.8zM697.2,76.6l2.7,-4.8l2.7,4.8zM697.4,77.5l2.7,-4.8l2.7,4.8zM697.5,77.0l2.7,-4.8l2.7,4.8zM697.7,81.8l2.7,-4.8l2.7,4.8zM697.9,79.3l2.7,-4.8l2.7,4.8zM698.1,82.1l2.7,-4.8l2.7,4.8zM698.3,74.9l2.7,-4.8l2.7,4.8zM698.4,82.2l2.7,-4.8l2.7,4.8zM698.6,73.7l2.7,-4.8l2.7,4.8zM698.8,77.9l2.7,-4.8l2.7,4.8zM699.0,81.1l2.7,-4.8l2.7,4.8zM699.1,81.0l2.7,-4.8l2.7,4.8zM699.3,75.2l2.7,-4.8l2.7,4.8zM699.5,73.7l2.7,-4.8l2.7,4.8zM699.7,81.3l2.7,-4.8l2.7,4.8zM699.9,76.0l2.7,-4.8l2.7,4.8zM700.0,70.1l2.7,-4.8l2.7,4.8zM700.2,82.2l2.7,-4.8l2.7,4.8zM700.4,79.9l2.7,-4.8l2.7,4.8zM700.6,76.9l2.7,-4.8l2.7,4.8zM700.7,72.5l2.7,-4.8l2.7,4.8zM700.9,74.3l2.7,-4.8l2.7,4.8zM701.1,77.8l2.7,-4.8l2.7,4.8zM701.3,73.9l2.7,-4.8l2.7,4.8zM701.4,82.7l2.7,-4.8l2.7,4.8zM701.6,78.0l2.7,-4.8l2.7,4.8zM701.8,80.3l2.7,-4.8l2.7,4.8zM702.0,79.6l2.7,-4.8l2.7,4.8zM702.2,84.0l2.7,-4.8l2.7,4.8zM702.3,73.3l2.7,-4.8l2.7,4.8zM702.5,82.6l2.7,-4.8l2.7,4.8zM702.7,82.5l2.7,-4.8l2.7,4.8zM702.9,77.3l2.7,-4.8l2.7,4.8zM703.0,85.1l2.7,-4.8l2.7,4.8zM703.2,85.2l2.7,-4.8l2.7,4.8zM703.4,79.4l2.7,-4.8l2.7,4.8zM703.6,82.3l2.7,-4.8l2.7,4.8zM703.8,79.2l2.7,-4.8l2.7,4.8zM703.9,76.9l2.7,-4.8l2.7,4.8zM704.1,88.0l2.7,-4.8l2.7,4.8zM704.3,76.5l2.7,-4.8l2.7,4.8zM704.5,70.9l2.7,-4.8l2.7,4.8zM704.6,70.0l2.7,-4.8l2.7,4.8zM704.8,76.6l2.7,-4.8l2.7,4.8zM705.0,75.2l2.7,-4.8l2.7,4.8zM705.2,82.9l2.7,-4.8l2.7,4.8zM705.4,71.0l2.7,-4.8l2.7,4.8zM705.5,73.9l2.7,-4.8l2.7,4.8zM705.7,77.0l2.7,-4.8l2.7,4.8zM705.9,81.3l2.7,-4.8l2.7,4.8zM706.1,77.9l2.7,-4.8l2.7,4.8zM706.2,79.7l2.7,-4.8l2.7,4.8zM706.4,74.0l2.7,-4.8l2.7,4.8zM706.6,67.8l2.7,-4.8l2.7,4.8zM706.8,75.2l2.7,-4.8l2.7,4.8zM707.0,77.6l2.7,-4.8l2.7,4.8zM707.1,78.1l2.7,-4.8l2.7,4.8zM707.3,75.9l2.7,-4.8l2.7,4.8zM707.5,82.2l2.7,-4.8l2.7,4.8zM707.7,71.3l2.7,-4.8l2.7,4.8zM707.8,69.0l2.7,-4.8l2.7,4.8zM708.0,74.2l2.7,-4.8l2.7,4.8zM708.2,82.3l2.7,-4.8l2.7,4.8zM708.4,77.0l2.7,-4.8l2.7,4.8zM708.6,90.5l2.7,-4.8l2.7,4.8zM708.7,78.4l2.7,-4.8l2.7,4.8zM708.9,77.1l2.7,-4.8l2.7,4.8zM709.1,81.8l2.7,-4.8l2.7,4.8zM709.3,81.6l2.7,-4.8l2.7,4.8zM709.4,70.6l2.7,-4.8l2.7,4.8zM709.6,78.6l2.7,-4.8l2.7,4.8zM709.8,72.1l2.7,-4.8l2.7,4.8zM710.0,78.6l2.7,-4.8l2.7,4.8zM710.2,78.1l2.7,-4.8l2.7,4.8zM710.3,75.1l2.7,-4.8l2.7,4.8zM710.5,74.2l2.7,-4.8l2.7,4.8zM710.7,83.7l2.7,-4.8l2.7,4.8zM710.9,73.7l2.7,-4.8l2.7,4.8zM711.0,78.7l2.7,-4.8l2.7,4.8zM711.2,76.8l2.7,-4.8l2.7,4.8zM711.4,73.9l2.7,-4.8l2.7,4.8zM711.6,82.1l2.7,-4.8l2.7,4.8zM711.8,82.4l2.7,-4.8l2.7,4.8zM711.9,64.7l2.7,-4.8l2.7,4.8zM712.1,72.0l2.7,-4.8l2.7,4.8zM712.3,79.3l2.7,-4.8l2.7,4.8zM712.5,78.5l2.7,-4.8l2.7,4.8zM712.6,75.6l2.7,-4.8l2.7,4.8zM712.8,78.4l2.7,-4.8l2.7,4.8zM713.0,79.1l2.7,-4.8l2.7,4.8zM713.2,78.1l2.7,-4.8l2.7,4.8zM713.3,76.6l2.7,-4.8l2.7,4.8zM713.5,69.4l2.7,-4.8l2.7,4.8zM713.7,73.3l2.7,-4.8l2.7,4.8zM713.9,78.2l2.7,-4.8l2.7,4.8zM714.1,77.0l2.7,-4.8l2.7,4.8zM714.2,68.3l2.7,-4.8l2.7,4.8zM714.4,79.1l2.7,-4.8l2.7,4.8zM714.6,83.5l2.7,-4.8l2.7,4.8zM714.8,86.6l2.7,-4.8l2.7,4.8zM714.9,77.5l2.7,-4.8l2.7,4.8zM715.1,75.5l2.7,-4.8l2.7,4.8zM715.3,74.8l2.7,-4.8l2.7,4.8zM715.5,80.9l2.7,-4.8l2.7,4.8zM715.7,74.8l2.7,-4.8l2.7,4.8zM715.8,79.3l2.7,-4.8l2.7,4.8zM716.0,78.5l2.7,-4.8l2.7,4.8zM716.2,83.1l2.7,-4.8l2.7,4.8zM716.4,80.1l2.7,-4.8l2.7,4.8zM716.5,73.6l2.7,-4.8l2.7,4.8zM716.7,67.9l2.7,-4.8l2.7,4.8zM716.9,80.2l2.7,-4.8l2.7,4.8zM717.1,73.3l2.7,-4.8l2.7,4.8zM717.3,79.0l2.7,-4.8l2.7,4.8zM717.4,87.0l2.7,-4.8l2.7,4.8zM717.6,73.0l2.7,-4.8l2.7,4.8zM717.8,68.8l2.7,-4.8l2.7,4.8zM718.0,88.8l2.7,-4.8l2.7,4.8zM718.1,79.6l2.7,-4.8l2.7,4.8zM718.3,84.3l2.7,-4.8l2.7,4.8zM718.5,82.5l2.7,-4.8l2.7,4.8zM718.7,78.4l2.7,-4.8l2.7,4.8zM718.9,88.5l2.7,-4.8l2.7,4.8zM719.0,74.0l2.7,-4.8l2.7,4.8zM719.2,85.6l2.7,-4.8l2.7,4.8zM719.4,75.2l2.7,-4.8l2.7,4.8zM719.6,72.2l2.7,-4.8l2.7,4.8zM719.7,74.5l2.7,-4.8l2.7,4.8zM719.9,78.7l2.7,-4.8l2.7,4.8zM720.1,79.9l2.7,-4.8l2.7,4.8zM720.3,80.9l2.7,-4.8l2.7,4.8zM720.5,61.2l2.7,-4.8l2.7,4.8zM720.6,75.6l2.7,-4.8l2.7,4.8zM720.8,85.7l2.7,-4.8l2.7,4.8zM721.0,60.7l2.7,-4.8l2.7,4.8zM721.2,75.7l2.7,-4.8l2.7,4.8zM721.3,77.4l2.7,-4.8l2.7,4.8zM721.5,78.2l2.7,-4.8l2.7,4.8zM721.7,75.5l2.7,-4.8l2.7,4.8zM721.9,77.0l2.7,-4.8l2.7,4.8zM722.1,79.1l2.7,-4.8l2.7,4.8zM722.2,82.9l2.7,-4.8l2.7,4.8zM722.4,78.7l2.7,-4.8l2.7,4.8zM722.6,80.4l2.7,-4.8l2.7,4.8zM722.8,79.6l2.7,-4.8l2.7,4.8zM722.9,79.0l2.7,-4.8l2.7,4.8zM723.1,84.5l2.7,-4.8l2.7,4.8zM723.3,75.5l2.7,-4.8l2.7,4.8zM723.5,89.2l2.7,-4.8l2.7,4.8zM723.6,87.6l2.7,-4.8l2.7,4.8zM723.8,71.5l2.7,-4.8l2.7,4.8zM724.0,72.8l2.7,-4.8l2.7,4.8zM724.2,88.5l2.7,-4.8l2.7,4.8zM724.4,87.2l2.7,-4.8l2.7,4.8zM724.5,70.1l2.7,-4.8l2.7,4.8zM724.7,73.3l2.7,-4.8l2.7,4.8zM724.9,73.4l2.7,-4.8l2.7,4.8zM725.1,77.6l2.7,-4.8l2.7,4.8zM725.2,71.2l2.7,-4.8l2.7,4.8zM725.4,71.3l2.7,-4.8l2.7,4.8zM725.6,83.5l2.7,-4.8l2.7,4.8zM725.8,81.3l2.7,-4.8l2.7,4.8zM726.0,71.7l2.7,-4.8l2.7,4.8zM726.1,75.0l2.7,-4.8l2.7,4.8zM726.3,67.8l2.7,-4.8l2.7,4.8zM726.5,82.4l2.7,-4.8l2.7,4.8zM726.7,69.7l2.7,-4.8l2.7,4.8zM726.8,84.4l2.7,-4.8l2.7,4.8zM727.0,72.1l2.7,-4.8l2.7,4.8zM727.2,85.6l2.7,-4.8l2.7,4.8zM727.4,71.9l2.7,-4.8l2.7,4.8zM727.6,76.7l2.7,-4.8l2.7,4.8zM727.7,73.9l2.7,-4.8l2.7,4.8zM727.9,76.9l2.7,-4.8l2.7,4.8zM728.1,74.3l2.7,-4.8l2.7,4.8zM728.3,81.5l2.7,-4.8l2.7,4.8zM728.4,63.7l2.7,-4.8l2.7,4.8zM728.6,72.4l2.7,-4.8l2.7,4.8zM728.8,69.9l2.7,-4.8l2.7,4.8zM729.0,77.2l2.7,-4.8l2.7,4.8zM729.2,85.4l2.7,-4.8l2.7,4.8zM729.3,86.5l2.7,-4.8l2.7,4.8zM729.5,76.4l2.7,-4.8l2.7,4.8zM729.7,81.2l2.7,-4.8l2.7,4.8zM729.9,80.0l2.7,-4.8l2.7,4.8zM730.0,75.0l2.7,-4.8l2.7,4.8zM730.2,68.4l2.7,-4.8l2.7,4.8zM730.4,75.4l2.7,-4.8l2.7,4.8zM730.6,79.4l2.7,-4.8l2.7,4.8zM730.8,77.5l2.7,-4.8l2.7,4.8zM730.9,76.3l2.7,-4.8l2.7,4.8zM731.1,67.6l2.7,-4.8l2.7,4.8zM731.3,76.7l2.7,-4.8l2.7,4.8zM731.5,75.0l2.7,-4.8l2.7,4.8zM731.6,75.7l2.7,-4.8l2.7,4.8zM731.8,82.5l2.7,-4.8l2.7,4.8zM732.0,68.9l2.7,-4.8l2.7,4.8zM732.2,76.1l2.7,-4.8l2.7,4.8zM732.4,77.4l2.7,-4.8l2.7,4.8zM732.5,77.7l2.7,-4.8l2.7,4.8zM732.7,78.4l2.7,-4.8l2.7,4.8zM732.9,72.1l2.7,-4.8l2.7,4.8zM733.1,76.4l2.7,-4.8l2.7,4.8zM733.2,66.0l2.7,-4.8l2.7,4.8zM733.4,91.5l2.7,-4.8l2.7,4.8zM733.6,72.9l2.7,-4.8l2.7,4.8zM733.8,71.5l2.7,-4.8l2.7,4.8zM733.9,80.4l2.7,-4.8l2.7,4.8zM734.1,73.1l2.7,-4.8l2.7,4.8zM734.3,74.7l2.7,-4.8l2.7,4.8zM734.5,66.0l2.7,-4.8l2.7,4.8zM734.7,77.6l2.7,-4.8l2.7,4.8zM734.8,74.5l2.7,-4.8l2.7,4.8zM735.0,72.2l2.7,-4.8l2.7,4.8zM735.2,75.8l2.7,-4.8l2.7,4.8zM735.4,77.7l2.7,-4.8l2.7,4.8zM735.5,76.8l2.7,-4.8l2.7,4.8zM735.7,82.6l2.7,-4.8l2.7,4.8zM735.9,78.8l2.7,-4.8l2.7,4.8zM736.1,72.3l2.7,-4.8l2.7,4.8zM736.3,82.2l2.7,-4.8l2.7,4.8zM736.4,87.6l2.7,-4.8l2.7,4.8zM736.6,71.5l2.7,-4.8l2.7,4.8zM736.8,79.3l2.7,-4.8l2.7,4.8zM737.0,64.7l2.7,-4.8l2.7,4.8zM737.1,78.9l2.7,-4.8l2.7,4.8zM737.3,90.7l2.7,-4.8l2.7,4.8zM737.5,81.3l2.7,-4.8l2.7,4.8zM737.7,74.1l2.7,-4.8l2.7,4.8zM737.9,79.1l2.7,-4.8l2.7,4.8zM738.0,81.6l2.7,-4.8l2.7,4.8zM738.2,81.6l2.7,-4.8l2.7,4.8zM738.4,79.6l2.7,-4.8l2.7,4.8zM738.6,80.3l2.7,-4.8l2.7,4.8zM738.7,72.6l2.7,-4.8l2.7,4.8zM738.9,75.0l2.7,-4.8l2.7,4.8zM739.1,85.8l2.7,-4.8l2.7,4.8zM739.3,73.8l2.7,-4.8l2.7,4.8zM739.5,77.8l2.7,-4.8l2.7,4.8zM739.6,70.2l2.7,-4.8l2.7,4.8zM739.8,73.8l2.7,-4.8l2.7,4.8zM740.0,76.9l2.7,-4.8l2.7,4.8zM740.2,80.7l2.7,-4.8l2.7,4.8zM740.3,80.6l2.7,-4.8l2.7,4.8zM740.5,72.4l2.7,-4.8l2.7,4.8zM740.7,70.5l2.7,-4.8l2.7,4.8zM740.9,74.3l2.7,-4.8l2.7,4.8zM741.1,75.2l2.7,-4.8l2.7,4.8zM741.2,73.6l2.7,-4.8l2.7,4.8zM741.4,78.7l2.7,-4.8l2.7,4.8zM741.6,79.6l2.7,-4.8l2.7,4.8zM741.8,82.8l2.7,-4.8l2.7,4.8zM741.9,85.1l2.7,-4.8l2.7,4.8zM742.1,74.2l2.7,-4.8l2.7,4.8zM742.3,80.8l2.7,-4.8l2.7,4.8zM742.5,80.2l2.7,-4.8l2.7,4.8zM742.7,74.3l2.7,-4.8l2.7,4.8zM742.8,79.3l2.7,-4.8l2.7,4.8zM743.0,71.1l2.7,-4.8l2.7,4.8zM743.2,79.3l2.7,-4.8l2.7,4.8zM743.4,76.5l2.7,-4.8l2.7,4.8zM743.5,83.8l2.7,-4.8l2.7,4.8zM743.7,72.5l2.7,-4.8l2.7,4.8zM743.9,76.9l2.7,-4.8l2.7,4.8zM744.1,73.0l2.7,-4.8l2.7,4.8zM744.3,74.3l2.7,-4.8l2.7,4.8zM744.4,76.9l2.7,-4.8l2.7,4.8zM744.6,74.2l2.7,-4.8l2.7,4.8zM744.8,70.9l2.7,-4.8l2.7,4.8zM745.0,76.8l2.7,-4.8l2.7,4.8zM745.1,68.9l2.7,-4.8l2.7,4.8zM745.3,75.4l2.7,-4.8l2.7,4.8zM745.5,79.5l2.7,-4.8l2.7,4.8zM745.7,71.3l2.7,-4.8l2.7,4.8zM745.8,67.1l2.7,-4.8l2.7,4.8zM746.0,82.7l2.7,-4.8l2.7,4.8zM746.2,74.7l2.7,-4.8l2.7,4.8zM746.4,75.9l2.7,-4.8l2.7,4.8zM746.6,79.1l2.7,-4.8l2.7,4.8zM746.7,73.8l2.7,-4.8l2.7,4.8zM746.9,81.9l2.7,-4.8l2.7,4.8zM747.1,76.1l2.7,-4.8l2.7,4.8zM747.3,78.6l2.7,-4.8l2.7,4.8zM747.4,86.1l2.7,-4.8l2.7,4.8zM747.6,72.0l2.7,-4.8l2.7,4.8zM747.8,72.8l2.7,-4.8l2.7,4.8zM748.0,73.7l2.7,-4.8l2.7,4.8zM748.2,90.4l2.7,-4.8l2.7,4.8zM748.3,71.6l2.7,-4.8l2.7,4.8zM748.5,79.1l2.7,-4.8l2.7,4.8zM748.7,87.3l2.7,-4.8l2.7,4.8zM748.9,78.3l2.7,-4.8l2.7,4.8zM749.0,76.5l2.7,-4.8l2.7,4.8zM749.2,76.3l2.7,-4.8l2.7,4.8zM749.4,84.7l2.7,-4.8l2.7,4.8zM749.6,70.0l2.7,-4.8l2.7,4.8zM749.8,73.5l2.7,-4.8l2.7,4.8zM749.9,77.1l2.7,-4.8l2.7,4.8zM750.1,82.9l2.7,-4.8l2.7,4.8zM750.3,78.5l2.7,-4.8l2.7,4.8zM750.5,82.1l2.7,-4.8l2.7,4.8zM750.6,82.3l2.7,-4.8l2.7,4.8zM750.8,74.4l2.7,-4.8l2.7,4.8zM751.0,75.5l2.7,-4.8l2.7,4.8zM751.2,79.0l2.7,-4.8l2.7,4.8zM751.4,64.1l2.7,-4.8l2.7,4.8zM751.5,76.7l2.7,-4.8l2.7,4.8zM751.7,78.5l2.7,-4.8l2.7,4.8zM751.9,74.1l2.7,-4.8l2.7,4.8zM752.1,81.8l2.7,-4.8l2.7,4.8zM752.2,77.6l2.7,-4.8l2.7,4.8zM752.4,71.9l2.7,-4.8l2.7,4.8zM752.6,83.1l2.7,-4.8l2.7,4.8zM752.8,76.8l2.7,-4.8l2.7,4.8zM753.0,75.9l2.7,-4.8l2.7,4.8zM753.1,82.2l2.7,-4.8l2.7,4.8zM753.3,76.1l2.7,-4.8l2.7,4.8zM753.5,76.3l2.7,-4.8l2.7,4.8zM753.7,80.0l2.7,-4.8l2.7,4.8zM753.8,73.6l2.7,-4.8l2.7,4.8zM754.0,76.0l2.7,-4.8l2.7,4.8zM754.2,80.8l2.7,-4.8l2.7,4.8zM754.4,78.8l2.7,-4.8l2.7,4.8zM754.6,79.0l2.7,-4.8l2.7,4.8zM754.7,70.5l2.7,-4.8l2.7,4.8zM754.9,87.1l2.7,-4.8l2.7,4.8zM755.1,74.3l2.7,-4.8l2.7,4.8zM755.3,72.8l2.7,-4.8l2.7,4.8zM755.4,87.6l2.7,-4.8l2.7,4.8zM755.6,78.0l2.7,-4.8l2.7,4.8zM755.8,77.2l2.7,-4.8l2.7,4.8zM756.0,75.6l2.7,-4.8l2.7,4.8zM756.1,74.6l2.7,-4.8l2.7,4.8zM756.3,75.5l2.7,-4.8l2.7,4.8zM756.5,82.4l2.7,-4.8l2.7,4.8zM756.7,78.4l2.7,-4.8l2.7,4.8zM756.9,82.4l2.7,-4.8l2.7,4.8zM757.0,76.1l2.7,-4.8l2.7,4.8zM757.2,76.5l2.7,-4.8l2.7,4.8zM757.4,78.5l2.7,-4.8l2.7,4.8zM757.6,81.8l2.7,-4.8l2.7,4.8zM757.7,75.1l2.7,-4.8l2.7,4.8zM757.9,78.3l2.7,-4.8l2.7,4.8zM758.1,76.8l2.7,-4.8l2.7,4.8zM758.3,86.2l2.7,-4.8l2.7,4.8zM758.5,78.0l2.7,-4.8l2.7,4.8zM758.6,81.0l2.7,-4.8l2.7,4.8zM758.8,74.9l2.7,-4.8l2.7,4.8zM759.0,66.9l2.7,-4.8l2.7,4.8zM759.2,73.4l2.7,-4.8l2.7,4.8zM759.3,77.9l2.7,-4.8l2.7,4.8zM759.5,81.1l2.7,-4.8l2.7,4.8zM759.7,82.8l2.7,-4.8l2.7,4.8zM759.9,75.6l2.7,-4.8l2.7,4.8zM760.1,66.2l2.7,-4.8l2.7,4.8zM760.2,64.2l2.7,-4.8l2.7,4.8zM760.4,84.0l2.7,-4.8l2.7,4.8zM760.6,78.3l2.7,-4.8l2.7,4.8zM760.8,73.3l2.7,-4.8l2.7,4.8zM760.9,75.5l2.7,-4.8l2.7,4.8zM761.1,78.1l2.7,-4.8l2.7,4.8zM761.3,81.7l2.7,-4.8l2.7,4.8zM761.5,80.4l2.7,-4.8l2.7,4.8zM761.7,78.5l2.7,-4.8l2.7,4.8zM761.8,68.0l2.7,-4.8l2.7,4.8zM762.0,76.2l2.7,-4.8l2.7,4.8zM762.2,77.8l2.7,-4.8l2.7,4.8zM762.4,83.2l2.7,-4.8l2.7,4.8zM762.5,68.5l2.7,-4.8l2.7,4.8zM762.7,79.6l2.7,-4.8l2.7,4.8zM762.9,73.1l2.7,-4.8l2.7,4.8zM763.1,73.9l2.7,-4.8l2.7,4.8zM763.3,70.2l2.7,-4.8l2.7,4.8zM763.4,79.1l2.7,-4.8l2.7,4.8zM763.6,78.0l2.7,-4.8l2.7,4.8zM763.8,90.6l2.7,-4.8l2.7,4.8zM764.0,80.0l2.7,-4.8l2.7,4.8zM764.1,84.5l2.7,-4.8l2.7,4.8zM764.3,73.0l2.7,-4.8l2.7,4.8zM764.5,77.7l2.7,-4.8l2.7,4.8zM764.7,81.4l2.7,-4.8l2.7,4.8zM764.9,70.9l2.7,-4.8l2.7,4.8zM765.0,77.0l2.7,-4.8l2.7,4.8zM765.2,77.4l2.7,-4.8l2.7,4.8zM765.4,75.2l2.7,-4.8l2.7,4.8zM765.6,77.9l2.7,-4.8l2.7,4.8zM765.7,71.8l2.7,-4.8l2.7,4.8zM765.9,78.4l2.7,-4.8l2.7,4.8zM766.1,77.8l2.7,-4.8l2.7,4.8zM766.3,78.4l2.7,-4.8l2.7,4.8zM766.4,71.8l2.7,-4.8l2.7,4.8zM766.6,78.0l2.7,-4.8l2.7,4.8zM766.8,82.6l2.7,-4.8l2.7,4.8zM767.0,76.1l2.7,-4.8l2.7,4.8zM767.2,76.3l2.7,-4.8l2.7,4.8zM767.3,75.5l2.7,-4.8l2.7,4.8zM767.5,70.2l2.7,-4.8l2.7,4.8zM767.7,68.8l2.7,-4.8l2.7,4.8zM767.9,90.4l2.7,-4.8l2.7,4.8zM768.0,72.8l2.7,-4.8l2.7,4.8zM768.2,73.6l2.7,-4.8l2.7,4.8zM768.4,76.6l2.7,-4.8l2.7,4.8zM768.6,74.0l2.7,-4.8l2.7,4.8zM768.8,73.8l2.7,-4.8l2.7,4.8zM768.9,84.7l2.7,-4.8l2.7,4.8zM769.1,74.7l2.7,-4.8l2.7,4.8zM769.3,75.5l2.7,-4.8l2.7,4.8zM769.5,77.9l2.7,-4.8l2.7,4.8zM769.6,75.5l2.7,-4.8l2.7,4.8zM769.8,75.7l2.7,-4.8l2.7,4.8zM770.0,73.7l2.7,-4.8l2.7,4.8zM770.2,69.6l2.7,-4.8l2.7,4.8zM770.4,75.7l2.7,-4.8l2.7,4.8zM770.5,73.3l2.7,-4.8l2.7,4.8zM770.7,70.4l2.7,-4.8l2.7,4.8zM770.9,71.3l2.7,-4.8l2.7,4.8zM771.1,80.3l2.7,-4.8l2.7,4.8zM771.2,55.5l2.7,-4.8l2.7,4.8zM771.4,77.1l2.7,-4.8l2.7,4.8zM771.6,79.2l2.7,-4.8l2.7,4.8zM771.8,79.5l2.7,-4.8l2.7,4.8zM772.0,76.8l2.7,-4.8l2.7,4.8zM772.1,79.1l2.7,-4.8l2.7,4.8zM772.3,71.2l2.7,-4.8l2.7,4.8zM772.5,67.5l2.7,-4.8l2.7,4.8zM772.7,71.8l2.7,-4.8l2.7,4.8zM772.8,71.0l2.7,-4.8l2.7,4.8zM773.0,77.5l2.7,-4.8l2.7,4.8zM773.2,85.6l2.7,-4.8l2.7,4.8zM773.4,84.8l2.7,-4.8l2.7,4.8zM773.6,74.0l2.7,-4.8l2.7,4.8zM773.7,80.6l2.7,-4.8l2.7,4.8zM773.9,66.5l2.7,-4.8l2.7,4.8zM774.1,68.6l2.7,-4.8l2.7,4.8zM774.3,69.5l2.7,-4.8l2.7,4.8zM774.4,75.6l2.7,-4.8l2.7,4.8zM774.6,80.0l2.7,-4.8l2.7,4.8zM774.8,76.8l2.7,-4.8l2.7,4.8zM775.0,72.1l2.7,-4.8l2.7,4.8zM775.2,78.3l2.7,-4.8l2.7,4.8zM775.3,81.5l2.7,-4.8l2.7,4.8zM775.5,81.5l2.7,-4.8l2.7,4.8zM775.7,86.8l2.7,-4.8l2.7,4.8zM775.9,71.8l2.7,-4.8l2.7,4.8zM776.0,73.9l2.7,-4.8l2.7,4.8zM776.2,84.2l2.7,-4.8l2.7,4.8zM776.4,71.3l2.7,-4.8l2.7,4.8zM776.6,68.6l2.7,-4.8l2.7,4.8zM776.8,80.0l2.7,-4.8l2.7,4.8zM776.9,78.0l2.7,-4.8l2.7,4.8zM777.1,74.9l2.7,-4.8l2.7,4.8zM777.3,73.9l2.7,-4.8l2.7,4.8zM777.5,74.2l2.7,-4.8l2.7,4.8zM777.6,78.7l2.7,-4.8l2.7,4.8zM777.8,81.8l2.7,-4.8l2.7,4.8zM778.0,81.6l2.7,-4.8l2.7,4.8zM778.2,72.6l2.7,-4.8l2.7,4.8zM778.3,75.7l2.7,-4.8l2.7,4.8zM778.5,75.1l2.7,-4.8l2.7,4.8zM778.7,69.0l2.7,-4.8l2.7,4.8zM778.9,84.8l2.7,-4.8l2.7,4.8zM779.1,71.7l2.7,-4.8l2.7,4.8zM779.2,82.7l2.7,-4.8l2.7,4.8zM779.4,80.2l2.7,-4.8l2.7,4.8zM779.6,78.1l2.7,-4.8l2.7,4.8zM779.8,83.2l2.7,-4.8l2.7,4.8zM779.9,79.8l2.7,-4.8l2.7,4.8zM780.1,70.1l2.7,-4.8l2.7,4.8zM780.3,77.9l2.7,-4.8l2.7,4.8zM780.5,72.4l2.7,-4.8l2.7,4.8zM780.7,71.7l2.7,-4.8l2.7,4.8zM780.8,81.2l2.7,-4.8l2.7,4.8zM781.0,77.6l2.7,-4.8l2.7,4.8zM781.2,79.6l2.7,-4.8l2.7,4.8zM781.4,70.7l2.7,-4.8l2.7,4.8zM781.5,76.7l2.7,-4.8l2.7,4.8zM781.7,78.7l2.7,-4.8l2.7,4.8zM781.9,77.5l2.7,-4.8l2.7,4.8zM782.1,78.0l2.7,-4.8l2.7,4.8zM782.3,74.1l2.7,-4.8l2.7,4.8zM782.4,74.3l2.7,-4.8l2.7,4.8zM782.6,73.8l2.7,-4.8l2.7,4.8zM782.8,72.3l2.7,-4.8l2.7,4.8zM783.0,77.8l2.7,-4.8l2.7,4.8zM783.1,77.2l2.7,-4.8l2.7,4.8zM783.3,73.5l2.7,-4.8l2.7,4.8zM783.5,68.1l2.7,-4.8l2.7,4.8zM783.7,74.5l2.7,-4.8l2.7,4.8zM783.9,72.0l2.7,-4.8l2.7,4.8zM784.0,65.9l2.7,-4.8l2.7,4.8zM784.2,69.7l2.7,-4.8l2.7,4.8zM784.4,79.2l2.7,-4.8l2.7,4.8zM784.6,81.1l2.7,-4.8l2.7,4.8zM784.7,78.5l2.7,-4.8l2.7,4.8zM784.9,80.6l2.7,-4.8l2.7,4.8zM785.1,73.6l2.7,-4.8l2.7,4.8zM785.3,84.2l2.7,-4.8l2.7,4.8zM785.5,86.2l2.7,-4.8l2.7,4.8zM785.6,78.1l2.7,-4.8l2.7,4.8zM785.8,75.4l2.7,-4.8l2.7,4.8zM786.0,73.9l2.7,-4.8l2.7,4.8zM786.2,85.8l2.7,-4.8l2.7,4.8zM786.3,69.5l2.7,-4.8l2.7,4.8zM786.5,81.1l2.7,-4.8l2.7,4.8zM786.7,67.4l2.7,-4.8l2.7,4.8zM487.3,103.7l2.7,-4.8l2.7,4.8zM487.1,110.3l2.7,-4.8l2.7,4.8z" fill="none" stroke="#000" stroke-width="1.2"/>
<path d="M485.1,189.2a2.5,2.5 0 1 0 5.0,0a2.5,2.5 0 1 0 -5.0,0M485.3,189.9a2.5,2.5 0 1 0 5.0,0a2.5,2.5 0 1 0 -5.0,0M485.8,189.8a2.5,2.5 0 1 0 5.0,0a2.5,2.5 0 1 0 -5.0,0M485.6,193.6a2.5,2.5 0 1 0 5.0,0a2.5,2.5 0 1 0 -5.0,0M485.1,176.5a2.5,2.5 0 1 0 5.0,0a2.5,2.5 0 1 0 -5.0,0M486.6,183.1a2.5,2.5 0 1 0 5.0,0a2.5,2.5 0 1 0 -5.0,0M486.5,178.9a2.5,2.5 0 1 0 5.0,0a2.5,2.5 0 1 0 -5.0,0M487.2,178.3a2.5,2.5 0 1 0 5.0,0a2.5,2.5 0 1 0 -5.0,0M486.6,183.0a2.5,2.5 0 1 0 5.0,0a2.5,2.5 0 1 0 -5.0,0M487.3,175.9a2.5,2.5 0 1 0 5.0,0a2.5,2.5 0 1 0 -5.0,0M487.2,184.2a2.5,2.5 0 1 0 5.0,0a2.5,2.5 0 1 0 -5.0,0M489.1,177.6a2.5,2.5 0 1 0 5.0,0a2.5,2.5 0 1 0 -5.0,0M488.3,180.8a2.5,2.5 0 1 0 5.0,0a2.5,2.5 0 1 0 -5.0,0M488.6,169.3a2.5,2.5 0 1 0 5.0,0a2.5,2.5 0 1 0 -5.0,0M489.5,186.0a2.5,2.5 0 1 0 5.0,0a2.5,2.5 0 1 0 -5.0,0M488.9,174.7a2.5,2.5 0 1 0 5.0,0a2.5,2.5 0 1 0 -5.0,0M489.8,158.9a2.5,2.5 0 1 0 5.0,0a2.5,2.5 0 1 0 -5.0,0M490.5,180.0a2.5,2.5 0 1 0 5.0,0a2.5,2.5 0 1 0 -5.0,0M490.5,166.7a2.5,2.5 0 1 0 5.0,0a2.5,2.5 0 1 0 -5.0,0M490.0,167.9a2.5,2.5 0 1 0 5.0,0a2.5,2.5 0 1 0 -5.0,0M491.4,158.4a2.5,2.5 0 1 0 5.0,0a2.5,2.5 0 1 0 -5.0,0M491.7,161.4a2.5,2.5 0 1 0 5.0,0a2.5,2.5 0 1 0 -5.0,0M491.2,150.2a2.5,2.5 0 1 0 5.0,0a2.5,2.5 0 1 0 -5.0,0M491.5,156.8a2.5,2.5 0 1 0 5.0,0a2.5,2.5 0 1 0 -5.0,0M493.1,164.1a2.5,2.5 0 1 0 5.0,0a2.5,2.5 0 1 0 -5.0,0M492.4,164.8a2.5,2.5 0 1 0 5.0,0a2.5,2.5 0 1 0 -5.0,0M493.1,163.6a2.5,2.5 0 1 0 5.0,0a2.5,2.5 0 1 0 -5.0,0M492.9,168.6a2.5,2.5 0 1 0 5.0,0a2.5,2.5 0 1 0 -5.0,0M493.0,153.3a2.5,2.5 0 1 0 5.0,0a2.5,2.5 0 1 0 -5.0,0M493.8,159.3a2.5,2.5 0 1 0 5.0,0a2.5,2.5 0 1 0 -5.0,0M494.5,153.7a2.5,2.5 0 1 0 5.0,0a2.5,2.5 0 1 0 -5.0,0M494.9,175.9a2.5,2.5 0 1 0 5.0,0a2.5,2.5 0 1 0 -5.0,0M493.9,167.6a2.5,2.5 0 1 0 5.0,0a2.5,2.5 0 1 0 -5.0,0M495.2,164.4a2.5,2.5 0 1 0 5.0,0a2.5,2.5 0 1 0 -5.0,0M495.0,168.2a2.5,2.5 0 1 0 5.0,0a2.5,2.5 0 1 0 -5.0,0M496.2,176.4a2.5,2.5 0 1 0 5.0,0a2.5,2.5 0 1 0 -5.0,0M496.4,166.4a2.5,2.5 0 1 0 5.0,0a2.5,2.5 0 1 0 -5.0,0M495.5,184.8a2.5,2.5 0 1 0 5.0,0a2.5,2.5 0 1 0 -5.0,0M496.8,176.4a2.5,2.5 0 1 0 5.0,0a2.5,2.5 0 1 0 -5.0,0M496.5,173.2a2.5,2.5 0 1 0 5.0,0a2.5,2.5 0 1 0 -5.0,0M497.4,176.5a2.5,2.5 0 1 0 5.0,0a2.5,2.5 0 1 0 -5.0,0M496.8,186.9a2.5,2.5 0 1 0 5.0,0a2.5,2.5 0 1 0 -5.0,0M498.5,184.6a2.5,2.5 0 1 0 5.0,0a2.5,2.5 0 1 0 -5.0,0M498.9,193.5a2.5,2.5 0 1 0 5.0,0a2.5,2.5 0 1 0 -5.0,0M498.6,199.6a2.5,2.5 0 1 0 5.0,0a2.5,2.5 0 1 0 -5.0,0M499.2,204.2a2.5,2.5 0 1 0 5.0,0a2.5,2.5 0 1 0 -5.0,0M499.2,203.5a2.5,2.5 0 1 0 5.0,0a2.5,2.5 0 1 0 -5.0,0M499.9,221.2a2.5,2.5 0 1 0 5.0,0a2.5,2.5 0 1 0 -5.0,0M499.3,230.2a2.5,2.5 0 1 0 5.0,0a2.5,2.5 0 1 0 -5.0,0M499.0,218.7a2.5,2.5 0 1 0 5.0,0a2.5,2.5 0 1 0 -5.0,0M500.5,233.0a2.5,2.5 0 1 0 5.0,0a2.5,2.5 0 1 0 -5.0,0M500.7,228.0a2.5,2.5 0 1 0 5.0,0a2.5,2.5 0 1 0 -5.0,0M501.9,244.4a2.5,2.5 0 1 0 5.0,0a2.5,2.5 0 1 0 -5.0,0M501.5,254.8a2.5,2.5 0 1 0 5.0,0a2.5,2.5 0 1 0 -5.0,0M502.3,256.6a2.5,2.5 0 1 0 5.0,0a2.5,2.5 0 1 0 -5.0,0M502.3,256.7a2.5,2.5 0 1 0 5.0,0a2.5,2.5 0 1 0 -5.0,0M503.3,256.8a2.5,2.5 0 1 0 5.0,0a2.5,2.5 0 1 0 -5.0,0M503.0,278.6a2.5,2.5 0 1 0 5.0,0a2.5,2.5 0 1 0 -5.0,0M502.8,280.9a2.5,2.5 0 1 0 5.0,0a2.5,2.5 0 1 0 -5.0,0M503.1,284.2a2.5,2.5 0 1 0 5.0,0a2.5,2.5 0 1 0 -5.0,0M503.9,285.6a2.5,2.5 0 1 0 5.0,0a2.5,2.5 0 1 0 -5.0,0M504.9,298.9a2.5,2.5 0 1 0 5.0,0a2.5,2.5 0 1 0 -5.0,0M504.6,291.0a2.5,2.5 0 1 0 5.0,0a2.5,2.5 0 1 0 -5.0,0M504.1,317.7a2.5,2.5 0 1 0 5.0,0a2.5,2.5 0 1 0 -5.0,0M505.5,304.4a2.5,2.5 0 1 0 5.0,0a2.5,2.5 0 1 0 -5.0,0M505.4,317.5a2.5,2.5 0 1 0 5.0,0a2.5,2.5 0 1 0 -5.0,0M505.1,333.2a2.5,2.5 0 1 0 5.0,0a2.5,2.5 0 1 0 -5.0,0M505.3,326.0a2.5,2.5 0 1 0 5.0,0a2.5,2.5 0 1 0 -5.0,0M505.6,335.0a2.5,2.5 0 1 0 5.0,0a2.5,2.5 0 1 0 -5.0,0M506.5,344.4a2.5,2.5 0 1 0 5.0,0a2.5,2.5 0 1 0 -5.0,0M507.8,335.5a2.5,2.5 0 1 0 5.0,0a2.5,2.5 0 1 0 -5.0,0M507.2,336.6a2.5,2.5 0 1 0 5.0,0a2.5,2.5 0 1 0 -5.0,0M507.7,357.8a2.5,2.5 0 1 0 5.0,0a2.5,2.5 0 1 0 -5.0,0M507.8,360.0a2.5,2.5 0 1 0 5.0,0a2.5,2.5 0 1 0 -5.0,0M507.4,373.0a2.5,2.5 0 1 0 5.0,0a2.5,2.5 0 1 0 -5.0,0M508.7,365.0a2.5,2.5 0 1 0 5.0,0a2.5,2.5 0 1 0 -5.0,0M508.6,374.6a2.5,2.5 0 1 0 5.0,0a2.5,2.5 0 1 0 -5.0,0M509.3,380.0a2.5,2.5 0 1 0 5.0,0a2.5,2.5 0 1 0 -5.0,0M509.7,386.8a2.5,2.5 0 1 0 5.0,0a2.5,2.5 0 1 0 -5.0,0M510.5,386.2a2.5,2.5 0 1 0 5.0,0a2.5,2.5 0 1 0 -5.0,0M510.3,391.4a2.5,2.5 0 1 0 5.0,0a2.5,2.5 0 1 0 -5.0,0M511.1,400.5a2.5,2.5 0 1 0 5.0,0a2.5,2.5 0 1 0 -5.0,0M509.9,402.1a2.5,2.5 0 1 0 5.0,0a2.5,2.5 0 1 0 -5.0,0M510.7,387.0a2.5,2.5 0 1 0 5.0,0a2.5,2.5 0 1 0 -5.0,0M512.3,398.3a2.5,2.5 0 1 0 5.0,0a2.5,2.5 0 1 0 -5.0,0M511.2,401.7a2.5,2.5 0 1 0 5.0,0a2.5,2.5 0 1 0 -5.0,0M512.2,404.2a2.5,2.5 0 1 0 5.0,0a2.5,2.5 0 1 0 -5.0,0M512.4,425.7a2.5,2.5 0 1 0 5.0,0a2.5,2.5 0 1 0 -5.0,0M512.4,404.4a2.5,2.5 0 1 0 5.0,0a2.5,2.5 0 1 0 -5.0,0M512.2,419.4a2.5,2.5 0 1 0 5.0,0a2.5,2.5 0 1 0 -5.0,0M513.5,418.8a2.5,2.5 0 1 0 5.0,0a2.5,2.5 0 1 0 -5.0,0M514.1,401.9a2.5,2.5 0 1 0 5.0,0a2.5,2.5 0 1 0 -5.0,0M514.1,422.0a2.5,2.5 0 1 0 5.0,0a2.5,2.5 0 1 0 -5.0,0M514.2,421.6a2.5,2.5 0 1 0 5.0,0a2.5,2.5 0 1 0 -5.0,0M514.6,409.6a2.5,2.5 0 1 0 5.0,0a2.5,2.5 0 1 0 -5.0,0M514.2,429.0a2.5,2.5 0 1 0 5.0,0a2.5,2.5 0 1 0 -5.0,0M515.6,428.8a2.5,2.5 0 1 0 5.0,0a2.5,2.5 0 1 0 -5.0,0M516.1,419.5a2.5,2.5 0 1 0 5.0,0a2.5,2.5 0 1 0 -5.0,0M516.5,403.2a2.5,2.5 0 1 0 5.0,0a2.5,2.5 0 1 0 -5.0,0M515.6,418.0a2.5,2.5 0 1 0 5.0,0a2.5,2.5 0 1 0 -5.0,0M516.5,409.5a2.5,2.5 0 1 0 5.0,0a2.5,2.5 0 1 0 -5.0,0M516.8,414.2a2.5,2.5 0 1 0 5.0,0a2.5,2.5 0 1 0 -5.0,0M517.1,413.8a2.5,2.5 0 1 0 5.0,0a2.5,2.5 0 1 0 -5.0,0M517.6,426.3a2.5,2.5 0 1 0 5.0,0a2.5,2.5 0 1 0 -5.0,0M517.3,400.3a2.5,2.5 0 1 0 5.0,0a2.5,2.5 0 1 0 -5.0,0M516.8,394.2a2.5,2.5 0 1 0 5.0,0a2.5,2.5 0 1 0 -5.0,0M518.2,407.2a2.5,2.5 0 1 0 5.0,0a2.5,2.5 0 1 0 -5.0,0M518.1,396.7a2.5,2.5 0 1 0 5.0,0a2.5,2.5 0 1 0 -5.0,0M518.9,393.2a2.5,2.5 0 1 0 5.0,0a2.5,2.5 0 1 0 -5.0,0M519.2,404.1a2.5,2.5 0 1 0 5.0,0a2.5,2.5 0 1 0 -5.0,0M519.4,393.4a2.5,2.5 0 1 0 5.0,0a2.5,2.5 0 1 0 -5.0,0M519.9,384.3a2.5,2.5 0 1 0 5.0,0a2.5,2.5 0 1 0 -5.0,0M520.0,382.2a2.5,2.5 0 1 0 5.0,0a2.5,2.5 0 1 0 -5.0,0M520.5,375.4a2.5,2.5 0 1 0 5.0,0a2.5,2.5 0 1 0 -5.0,0M521.2,380.4a2.5,2.5 0 1 0 5.0,0a2.5,2.5 0 1 0 -5.0,0M521.3,374.7a2.5,2.5 0 1 0 5.0,0a2.5,2.5 0 1 0 -5.0,0M520.7,363.8a2.5,2.5 0 1 0 5.0,0a2.5,2.5 0 1 0 -5.0,0M521.8,375.2a2.5,2.5 0 1 0 5.0,0a2.5,2.5 0 1 0 -5.0,0M522.4,369.8a2.5,2.5 0 1 0 5.0,0a2.5,2.5 0 1 0 -5.0,0M522.1,369.7a2.5,2.5 0 1 0 5.0,0a2.5,2.5 0 1 0 -5.0,0M522.9,353.8a2.5,2.5 0 1 0 5.0,0a2.5,2.5 0 1 0 -5.0,0M523.2,351.6a2.5,2.5 0 1 0 5.0,0a2.5,2.5 0 1 0 -5.0,0M522.8,344.5a2.5,2.5 0 1 0 5.0,0a2.5,2.5 0 1 0 -5.0,0M523.0,342.3a2.5,2.5 0 1 0 5.0,0a2.5,2.5 0 1 0 -5.0,0M523.9,347.4a2.5,2.5 0 1 0 5.0,0a2.5,2.5 0 1 0 -5.0,0M524.1,331.8a2.5,2.5 0 1 0 5.0,0a2.5,2.5 0 1 0 -5.0,0M524.2,328.0a2.5,2.5 0 1 0 5.0,0a2.5,2.5 0 1 0 -5.0,0M524.2,326.4a2.5,2.5 0 1 0 5.0,0a2.5,2.5 0 1 0 -5.0,0M525.0,313.0a2.5,2.5 0 1 0 5.0,0a2.5,2.5 0 1 0 -5.0,0M525.0,318.8a2.5,2.5 0 1 0 5.0,0a2.5,2.5 0 1 0 -5.0,0M525.7,295.2a2.5,2.5 0 1 0 5.0,0a2.5,2.5 0 1 0 -5.0,0M526.0,305.5a2.5,2.5 0 1 0 5.0,0a2.5,2.5 0 1 0 -5.0,0M526.5,280.0a2.5,2.5 0 1 0 5.0,0a2.5,2.5 0 1 0 -5.0,0M527.2,283.4a2.5,2.5 0 1 0 5.0,0a2.5,2.5 0 1 0 -5.0,0M526.5,277.1a2.5,2.5 0 1 0 5.0,0a2.5,2.5 0 1 0 -5.0,0M526.8,291.8a2.5,2.5 0 1 0 5.0,0a2.5,2.5 0 1 0 -5.0,0M528.6,283.8a2.5,2.5 0 1 0 5.0,0a2.5,2.5 0 1 0 -5.0,0M527.9,281.4a2.5,2.5 0 1 0 5.0,0a2.5,2.5 0 1 0 -5.0,0M528.4,275.6a2.5,2.5 0 1 0 5.0,0a2.5,2.5 0 1 0 -5.0,0M529.8,264.4a2.5,2.5 0 1 0 5.0,0a2.5,2.5 0 1 0 -5.0,0M529.6,250.1a2.5,2.5 0 1 0 5.0,0a2.5,2.5 0 1 0 -5.0,0M529.0,237.9a2.5,2.5 0 1 0 5.0,0a2.5,2.5 0 1 0 -5.0,0M529.7,248.5a2.5,2.5 0 1 0 5.0,0a2.5,2.5 0 1 0 -5.0,0M530.0,233.6a2.5,2.5 0 1 0 5.0,0a2.5,2.5 0 1 0 -5.0,0M531.0,243.9a2.5,2.5 0 1 0 5.0,0a2.5,2.5 0 1 0 -5.0,0M530.4,236.6a2.5,2.5 0 1 0 5.0,0a2.5,2.5 0 1 0 -5.0,0M531.2,218.6a2.5,2.5 0 1 0 5.0,0a2.5,2.5 0 1 0 -5.0,0M531.7,230.5a2.5,2.5 0 1 0 5.0,0a2.5,2.5 0 1 0 -5.0,0M532.3,210.8a2.5,2.5 0 1 0 5.0,0a2.5,2.5 0 1 0 -5.0,0M531.1,229.3a2.5,2.5 0 1 0 5.0,0a2.5,2.5 0 1 0 -5.0,0M531.3,201.0a2.5,2.5 0 1 0 5.0,0a2.5,2.5 0 1 0 -5.0,0M532.1,205.3a2.5,2.5 0 1 0 5.0,0a2.5,2.5 0 1 0 -5.0,0M532.0,199.5a2.5,2.5 0 1 0 5.0,0a2.5,2.5 0 1 0 -5.0,0M532.6,209.1a2.5,2.5 0 1 0 5.0,0a2.5,2.5 0 1 0 -5.0,0M533.0,207.0a2.5,2.5 0 1 0 5.0,0a2.5,2.5 0 1 0 -5.0,0M533.6,194.1a2.5,2.5 0 1 0 5.0,0a2.5,2.5 0 1 0 -5.0,0M534.0,204.8a2.5,2.5 0 1 0 5.0,0a2.5,2.5 0 1 0 -5.0,0M534.2,179.4a2.5,2.5 0 1 0 5.0,0a2.5,2.5 0 1 0 -5.0,0M534.4,177.5a2.5,2.5 0 1 0 5.0,0a2.5,2.5 0 1 0 -5.0,0M535.0,179.2a2.5,2.5 0 1 0 5.0,0a2.5,2.5 0 1 0 -5.0,0M535.1,186.3a2.5,2.5 0 1 0 5.0,0a2.5,2.5 0 1 0 -5.0,0M535.7,164.4a2.5,2.5 0 1 0 5.0,0a2.5,2.5 0 1 0 -5.0,0M535.8,175.8a2.5,2.5 0 1 0 5.0,0a2.5,2.5 0 1 0 -5.0,0M536.4,170.6a2.5,2.5 0 1 0 5.0,0a2.5,2.5 0 1 0 -5.0,0M536.7,166.1a2.5,2.5 0 1 0 5.0,0a2.5,2.5 0 1 0 -5.0,0M536.7,175.6a2.5,2.5 0 1 0 5.0,0a2.5,2.5 0 1 0 -5.0,0M537.2,176.3a2.5,2.5 0 1 0 5.0,0a2.5,2.5 0 1 0 -5.0,0M537.2,169.9a2.5,2.5 0 1 0 5.0,0a2.5,2.5 0 1 0 -5.0,0M537.8,157.6a2.5,2.5 0 1 0 5.0,0a2.5,2.5 0 1 0 -5.0,0M538.1,182.3a2.5,2.5 0 1 0 5.0,0a2.5,2.5 0 1 0 -5.0,0M538.2,180.9a2.5,2.5 0 1 0 5.0,0a2.5,2.5 0 1 0 -5.0,0M538.1,171.8a2.5,2.5 0 1 0 5.0,0a2.5,2.5 0 1 0 -5.0,0M538.5,173.5a2.5,2.5 0 1 0 5.0,0a2.5,2.5 0 1 0 -5.0,0M539.8,170.7a2.5,2.5 0 1 0 5.0,0a2.5,2.5 0 1 0 -5.0,0M539.6,164.3a2.5,2.5 0 1 0 5.0,0a2.5,2.5 0 1 0 -5.0,0M539.1,165.7a2.5,2.5 0 1 0 5.0,0a2.5,2.5 0 1 0 -5.0,0M540.3,169.9a2.5,2.5 0 1 0 5.0,0a2.5,2.5 0 1 0 -5.0,0M540.5,175.7a2.5,2.5 0 1 0 5.0,0a2.5,2.5 0 1 0 -5.0,0M540.0,173.2a2.5,2.5 0 1 0 5.0,0a2.5,2.5 0 1 0 -5.0,0M541.7,190.4a2.5,2.5 0 1 0 5.0,0a2.5,2.5 0 1 0 -5.0,0M540.9,174.0a2.5,2.5 0 1 0 5.0,0a2.5,2.5 0 1 0 -5.0,0M542.2,193.4a2.5,2.5 0 1 0 5.0,0a2.5,2.5 0 1 0 -5.0,0M542.0,195.0a2.5,2.5 0 1 0 5.0,0a2.5,2.5 0 1 0 -5.0,0M542.9,203.9a2.5,2.5 0 1 0 5.0,0a2.5,2.5 0 1 0 -5.0,0M543.6,198.1a2.5,2.5 0 1 0 5.0,0a2.5,2.5 0 1 0 -5.0,0M543.1,189.2a2.5,2.5 0 1 0 5.0,0a2.5,2.5 0 1 0 -5.0,0M544.3,198.3a2.5,2.5 0 1 0 5.0,0a2.5,2.5 0 1 0 -5.0,0M542.5,202.1a2.5,2.5 0 1 0 5.0,0a2.5,2.5 0 1 0 -5.0,0M544.1,215.7a2.5,2.5 0 1 0 5.0,0a2.5,2.5 0 1 0 -5.0,0M544.9,229.0a2.5,2.5 0 1 0 5.0,0a2.5,2.5 0 1 0 -5.0,0M545.6,224.6a2.5,2.5 0 1 0 5.0,0a2.5,2.5 0 1 0 -5.0,0M544.3,226.4a2.5,2.5 0 1 0 5.0,0a2.5,2.5 0 1 0 -5.0,0M545.5,221.7a2.5,2.5 0 1 0 5.0,0a2.5,2.5 0 1 0 -5.0,0M544.7,225.3a2.5,2.5 0 1 0 5.0,0a2.5,2.5 0 1 0 -5.0,0M546.7,235.5a2.5,2.5 0 1 0 5.0,0a2.5,2.5 0 1 0 -5.0,0M546.9,244.3a2.5,2.5 0 1 0 5.0,0a2.5,2.5 0 1 0 -5.0,0M546.2,242.8a2.5,2.5 0 1 0 5.0,0a2.5,2.5 0 1 0 -5.0,0M547.4,236.8a2.5,2.5 0 1 0 5.0,0a2.5,2.5 0 1 0 -5.0,0M546.6,262.1a2.5,2.5 0 1 0 5.0,0a2.5,2.5 0 1 0 -5.0,0M547.5,258.5a2.5,2.5 0 1 0 5.0,0a2.5,2.5 0 1 0 -5.0,0M547.0,252.5a2.5,2.5 0 1 0 5.0,0a2.5,2.5 0 1 0 -5.0,0M548.8,264.9a2.5,2.5 0 1 0 5.0,0a2.5,2.5 0 1 0 -5.0,0M548.8,260.3a2.5,2.5 0 1 0 5.0,0a2.5,2.5 0 1 0 -5.0,0M549.0,282.4a2.5,2.5 0 1 0 5.0,0a2.5,2.5 0 1 0 -5.0,0M549.6,272.9a2.5,2.5 0 1 0 5.0,0a2.5,2.5 0 1 0 -5.0,0M549.5,283.2a2.5,2.5 0 1 0 5.0,0a2.5,2.5 0 1 0 -5.0,0M550.0,277.1a2.5,2.5 0 1 0 5.0,0a2.5,2.5 0 1 0 -5.0,0M550.6,293.1a2.5,2.5 0 1 0 5.0,0a2.5,2.5 0 1 0 -5.0,0M550.4,297.6a2.5,2.5 0 1 0 5.0,0a2.5,2.5 0 1 0 -5.0,0M549.9,311.0a2.5,2.5 0 1 0 5.0,0a2.5,2.5 0 1 0 -5.0,0M551.8,315.2a2.5,2.5 0 1 0 5.0,0a2.5,2.5 0 1 0 -5.0,0M551.5,320.7a2.5,2.5 0 1 0 5.0,0a2.5,2.5 0 1 0 -5.0,0M552.4,323.6a2.5,2.5 0 1 0 5.0,0a2.5,2.5 0 1 0 -5.0,0M551.9,321.0a2.5,2.5 0 1 0 5.0,0a2.5,2.5 0 1 0 -5.0,0M551.7,323.7a2.5,2.5 0 1 0 5.0,0a2.5,2.5 0 1 0 -5.0,0M552.2,334.4a2.5,2.5 0 1 0 5.0,0a2.5,2.5 0 1 0 -5.0,0M553.0,345.5a2.5,2.5 0 1 0 5.0,0a2.5,2.5 0 1 0 -5.0,0M553.3,340.3a2.5,2.5 0 1 0 5.0,0a2.5,2.5 0 1 0 -5.0,0M554.0,349.3a2.5,2.5 0 1 0 5.0,0a2.5,2.5 0 1 0 -5.0,0M554.3,330.9a2.5,2.5 0 1 0 5.0,0a2.5,2.5 0 1 0 -5.0,0M554.1,343.5a2.5,2.5 0 1 0 5.0,0a2.5,2.5 0 1 0 -5.0,0M555.4,357.2a2.5,2.5 0 1 0 5.0,0a2.5,2.5 0 1 0 -5.0,0M554.7,362.5a2.5,2.5 0 1 0 5.0,0a2.5,2.5 0 1 0 -5.0,0M555.6,351.5a2.5,2.5 0 1 0 5.0,0a2.5,2.5 0 1 0 -5.0,0M555.5,358.4a2.5,2.5 0 1 0 5.0,0a2.5,2.5 0 1 0 -5.0,0M555.6,348.4a2.5,2.5 0 1 0 5.0,0a2.5,2.5 0 1 0 -5.0,0M556.2,364.4a2.5,2.5 0 1 0 5.0,0a2.5,2.5 0 1 0 -5.0,0M556.3,355.7a2.5,2.5 0 1 0 5.0,0a2.5,2.5 0 1 0 -5.0,0M557.3,370.2a2.5,2.5 0 1 0 5.0,0a2.5,2.5 0 1 0 -5.0,0M556.4,362.3a2.5,2.5 0 1 0 5.0,0a2.5,2.5 0 1 0 -5.0,0M557.7,371.0a2.5,2.5 0 1 0 5.0,0a2.5,2.5 0 1 0 -5.0,0M557.7,357.4a2.5,2.5 0 1 0 5.0,0a2.5,2.5 0 1 0 -5.0,0M557.7,375.5a2.5,2.5 0 1 0 5.0,0a2.5,2.5 0 1 0 -5.0,0M557.8,365.0a2.5,2.5 0 1 0 5.0,0a2.5,2.5 0 1 0 -5.0,0M558.8,375.2a2.5,2.5 0 1 0 5.0,0a2.5,2.5 0 1 0 -5.0,0M559.1,353.7a2.5,2.5 0 1 0 5.0,0a2.5,2.5 0 1 0 -5.0,0M558.9,369.9a2.5,2.5 0 1 0 5.0,0a2.5,2.5 0 1 0 -5.0,0M559.1,373.0a2.5,2.5 0 1 0 5.0,0a2.5,2.5 0 1 0 -5.0,0M560.9,377.7a2.5,2.5 0 1 0 5.0,0a2.5,2.5 0 1 0 -5.0,0M560.3,374.2a2.5,2.5 0 1 0 5.0,0a2.5,2.5 0 1 0 -5.0,0M560.0,351.6a2.5,2.5 0 1 0 5.0,0a2.5,2.5 0 1 0 -5.0,0M561.5,371.6a2.5,2.5 0 1 0 5.0,0a2.5,2.5 0 1 0 -5.0,0M561.2,355.6a2.5,2.5 0 1 0 5.0,0a2.5,2.5 0 1 0 -5.0,0M562.0,359.7a2.5,2.5 0 1 0 5.0,0a2.5,2.5 0 1 0 -5.0,0M561.8,367.6a2.5,2.5 0 1 0 5.0,0a2.5,2.5 0 1 0 -5.0,0M563.0,360.7a2.5,2.5 0 1 0 5.0,0a2.5,2.5 0 1 0 -5.0,0M562.5,356.4a2.5,2.5 0 1 0 5.0,0a2.5,2.5 0 1 0 -5.0,0M562.4,358.6a2.5,2.5 0 1 0 5.0,0a2.5,2.5 0 1 0 -5.0,0M562.7,355.4a2.5,2.5 0 1 0 5.0,0a2.5,2.5 0 1 0 -5.0,0M563.7,344.1a2.5,2.5 0 1 0 5.0,0a2.5,2.5 0 1 0 -5.0,0M563.8,344.6a2.5,2.5 0 1 0 5.0,0a2.5,2.5 0 1 0 -5.0,0M563.9,338.0a2.5,2.5 0 1 0 5.0,0a2.5,2.5 0 1 0 -5.0,0M564.3,330.6a2.5,2.5 0 1 0 5.0,0a2.5,2.5 0 1 0 -5.0,0M564.8,336.1a2.5,2.5 0 1 0 5.0,0a2.5,2.5 0 1 0 -5.0,0M564.2,340.8a2.5,2.5 0 1 0 5.0,0a2.5,2.5 0 1 0 -5.0,0M565.5,338.2a2.5,2.5 0 1 0 5.0,0a2.5,2.5 0 1 0 -5.0,0M565.3,333.8a2.5,2.5 0 1 0 5.0,0a2.5,2.5 0 1 0 -5.0,0M565.9,326.7a2.5,2.5 0 1 0 5.0,0a2.5,2.5 0 1 0 -5.0,0M566.4,318.4a2.5,2.5 0 1 0 5.0,0a2.5,2.5 0 1 0 -5.0,0M566.7,316.1a2.5,2.5 0 1 0 5.0,0a2.5,2.5 0 1 0 -5.0,0M567.4,310.1a2.5,2.5 0 1 0 5.0,0a2.5,2.5 0 1 0 -5.0,0M566.9,316.6a2.5,2.5 0 1 0 5.0,0a2.5,2.5 0 1 0 -5.0,0M567.5,307.4a2.5,2.5 0 1 0 5.0,0a2.5,2.5 0 1 0 -5.0,0M567.2,288.8a2.5,2.5 0 1 0 5.0,0a2.5,2.5 0 1 0 -5.0,0M568.3,280.5a2.5,2.5 0 1 0 5.0,0a2.5,2.5 0 1 0 -5.0,0M568.2,277.4a2.5,2.5 0 1 0 5.0,0a2.5,2.5 0 1 0 -5.0,0M568.8,284.4a2.5,2.5 0 1 0 5.0,0a2.5,2.5 0 1 0 -5.0,0M569.4,272.2a2.5,2.5 0 1 0 5.0,0a2.5,2.5 0 1 0 -5.0,0M569.7,282.5a2.5,2.5 0 1 0 5.0,0a2.5,2.5 0 1 0 -5.0,0M569.9,261.3a2.5,2.5 0 1 0 5.0,0a2.5,2.5 0 1 0 -5.0,0M570.0,268.5a2.5,2.5 0 1 0 5.0,0a2.5,2.5 0 1 0 -5.0,0M570.1,264.3a2.5,2.5 0 1 0 5.0,0a2.5,2.5 0 1 0 -5.0,0M570.8,262.8a2.5,2.5 0 1 0 5.0,0a2.5,2.5 0 1 0 -5.0,0M571.7,257.6a2.5,2.5 0 1 0 5.0,0a2.5,2.5 0 1 0 -5.0,0M571.8,259.8a2.5,2.5 0 1 0 5.0,0a2.5,2.5 0 1 0 -5.0,0M571.5,253.7a2.5,2.5 0 1 0 5.0,0a2.5,2.5 0 1 0 -5.0,0M571.6,257.5a2.5,2.5 0 1 0 5.0,0a2.5,2.5 0 1 0 -5.0,0M571.7,252.2a2.5,2.5 0 1 0 5.0,0a2.5,2.5 0 1 0 -5.0,0M572.5,235.0a2.5,2.5 0 1 0 5.0,0a2.5,2.5 0 1 0 -5.0,0M572.2,236.1a2.5,2.5 0 1 0 5.0,0a2.5,2.5 0 1 0 -5.0,0M572.6,226.7a2.5,2.5 0 1 0 5.0,0a2.5,2.5 0 1 0 -5.0,0M573.0,231.1a2.5,2.5 0 1 0 5.0,0a2.5,2.5 0 1 0 -5.0,0M574.6,212.7a2.5,2.5 0 1 0 5.0,0a2.5,2.5 0 1 0 -5.0,0M573.8,207.6a2.5,2.5 0 1 0 5.0,0a2.5,2.5 0 1 0 -5.0,0M574.7,214.8a2.5,2.5 0 1 0 5.0,0a2.5,2.5 0 1 0 -5.0,0M574.6,214.8a2.5,2.5 0 1 0 5.0,0a2.5,2.5 0 1 0 -5.0,0M575.2,204.0a2.5,2.5 0 1 0 5.0,0a2.5,2.5 0 1 0 -5.0,0M575.3,208.8a2.5,2.5 0 1 0 5.0,0a2.5,2.5 0 1 0 -5.0,0M575.4,212.7a2.5,2.5 0 1 0 5.0,0a2.5,2.5 0 1 0 -5.0,0M576.1,203.8a2.5,2.5 0 1 0 5.0,0a2.5,2.5 0 1 0 -5.0,0M575.3,189.3a2.5,2.5 0 1 0 5.0,0a2.5,2.5 0 1 0 -5.0,0M576.1,193.8a2.5,2.5 0 1 0 5.0,0a2.5,2.5 0 1 0 -5.0,0M578.2,186.1a2.5,2.5 0 1 0 5.0,0a2.5,2.5 0 1 0 -5.0,0M577.4,193.1a2.5,2.5 0 1 0 5.0,0a2.5,2.5 0 1 0 -5.0,0M576.4,185.9a2.5,2.5 0 1 0 5.0,0a2.5,2.5 0 1 0 -5.0,0M577.8,183.8a2.5,2.5 0 1 0 5.0,0a2.5,2.5 0 1 0 -5.0,0M578.0,166.6a2.5,2.5 0 1 0 5.0,0a2.5,2.5 0 1 0 -5.0,0M578.3,173.1a2.5,2.5 0 1 0 5.0,0a2.5,2.5 0 1 0 -5.0,0M579.4,185.7a2.5,2.5 0 1 0 5.0,0a2.5,2.5 0 1 0 -5.0,0M579.2,183.9a2.5,2.5 0 1 0 5.0,0a2.5,2.5 0 1 0 -5.0,0M579.3,164.5a2.5,2.5 0 1 0 5.0,0a2.5,2.5 0 1 0 -5.0,0M580.3,179.5a2.5,2.5 0 1 0 5.0,0a2.5,2.5 0 1 0 -5.0,0M580.6,172.6a2.5,2.5 0 1 0 5.0,0a2.5,2.5 0 1 0 -5.0,0M580.5,183.2a2.5,2.5 0 1 0 5.0,0a2.5,2.5 0 1 0 -5.0,0M581.4,168.1a2.5,2.5 0 1 0 5.0,0a2.5,2.5 0 1 0 -5.0,0M581.1,180.4a2.5,2.5 0 1 0 5.0,0a2.5,2.5 0 1 0 -5.0,0M580.7,176.4a2.5,2.5 0 1 0 5.0,0a2.5,2.5 0 1 0 -5.0,0M581.4,184.2a2.5,2.5 0 1 0 5.0,0a2.5,2.5 0 1 0 -5.0,0M582.9,181.6a2.5,2.5 0 1 0 5.0,0a2.5,2.5 0 1 0 -5.0,0M583.2,184.7a2.5,2.5 0 1 0 5.0,0a2.5,2.5 0 1 0 -5.0,0M582.0,185.7a2.5,2.5 0 1 0 5.0,0a2.5,2.5 0 1 0 -5.0,0M582.9,168.8a2.5,2.5 0 1 0 5.0,0a2.5,2.5 0 1 0 -5.0,0M583.3,190.6a2.5,2.5 0 1 0 5.0,0a2.5,2.5 0 1 0 -5.0,0M583.9,178.3a2.5,2.5 0 1 0 5.0,0a2.5,2.5 0 1 0 -5.0,0M583.0,181.9a2.5,2.5 0 1 0 5.0,0a2.5,2.5 0 1 0 -5.0,0M584.8,179.1a2.5,2.5 0 1 0 5.0,0a2.5,2.5 0 1 0 -5.0,0M584.9,175.2a2.5,2.5 0 1 0 5.0,0a2.5,2.5 0 1 0 -5.0,0M584.7,173.4a2.5,2.5 0 1 0 5.0,0a2.5,2.5 0 1 0 -5.0,0M586.2,188.2a2.5,2.5 0 1 0 5.0,0a2.5,2.5 0 1 0 -5.0,0M585.8,197.8a2.5,2.5 0 1 0 5.0,0a2.5,2.5 0 1 0 -5.0,0M585.7,204.3a2.5,2.5 0 1 0 5.0,0a2.5,2.5 0 1 0 -5.0,0M586.5,178.7a2.5,2.5 0 1 0 5.0,0a2.5,2.5 0 1 0 -5.0,0M585.9,185.1a2.5,2.5 0 1 0 5.0,0a2.5,2.5 0 1 0 -5.0,0M587.0,187.9a2.5,2.5 0 1 0 5.0,0a2.5,2.5 0 1 0 -5.0,0M586.7,191.3a2.5,2.5 0 1 0 5.0,0a2.5,2.5 0 1 0 -5.0,0M586.9,209.3a2.5,2.5 0 1 0 5.0,0a2.5,2.5 0 1 0 -5.0,0M587.3,207.8a2.5,2.5 0 1 0 5.0,0a2.5,2.5 0 1 0 -5.0,0M587.5,198.4a2.5,2.5 0 1 0 5.0,0a2.5,2.5 0 1 0 -5.0,0M588.6,197.6a2.5,2.5 0 1 0 5.0,0a2.5,2.5 0 1 0 -5.0,0M588.6,220.6a2.5,2.5 0 1 0 5.0,0a2.5,2.5 0 1 0 -5.0,0M588.7,202.9a2.5,2.5 0 1 0 5.0,0a2.5,2.5 0 1 0 -5.0,0M589.1,211.4a2.5,2.5 0 1 0 5.0,0a2.5,2.5 0 1 0 -5.0,0M589.6,223.0a2.5,2.5 0 1 0 5.0,0a2.5,2.5 0 1 0 -5.0,0M590.4,220.3a2.5,2.5 0 1 0 5.0,0a2.5,2.5 0 1 0 -5.0,0M590.9,220.1a2.5,2.5 0 1 0 5.0,0a2.5,2.5 0 1 0 -5.0,0M590.9,224.2a2.5,2.5 0 1 0 5.0,0a2.5,2.5 0 1 0 -5.0,0M590.4,230.0a2.5,2.5 0 1 0 5.0,0a2.5,2.5 0 1 0 -5.0,0M590.4,247.6a2.5,2.5 0 1 0 5.0,0a2.5,2.5 0 1 0 -5.0,0M591.1,235.9a2.5,2.5 0 1 0 5.0,0a2.5,2.5 0 1 0 -5.0,0M591.1,235.7a2.5,2.5 0 1 0 5.0,0a2.5,2.5 0 1 0 -5.0,0M592.9,248.7a2.5,2.5 0 1 0 5.0,0a2.5,2.5 0 1 0 -5.0,0M592.2,250.4a2.5,2.5 0 1 0 5.0,0a2.5,2.5 0 1 0 -5.0,0M593.1,249.2a2.5,2.5 0 1 0 5.0,0a2.5,2.5 0 1 0 -5.0,0M593.0,252.7a2.5,2.5 0 1 0 5.0,0a2.5,2.5 0 1 0 -5.0,0M593.7,241.4a2.5,2.5 0 1 0 5.0,0a2.5,2.5 0 1 0 -5.0,0M593.5,252.5a2.5,2.5 0 1 0 5.0,0a2.5,2.5 0 1 0 -5.0,0M593.6,263.2a2.5,2.5 0 1 0 5.0,0a2.5,2.5 0 1 0 -5.0,0M593.6,272.4a2.5,2.5 0 1 0 5.0,0a2.5,2.5 0 1 0 -5.0,0M594.7,272.6a2.5,2.5 0 1 0 5.0,0a2.5,2.5 0 1 0 -5.0,0M595.3,282.8a2.5,2.5 0 1 0 5.0,0a2.5,2.5 0 1 0 -5.0,0M594.8,281.4a2.5,2.5 0 1 0 5.0,0a2.5,2.5 0 1 0 -5.0,0M595.9,286.7a2.5,2.5 0 1 0 5.0,0a2.5,2.5 0 1 0 -5.0,0M596.5,277.6a2.5,2.5 0 1 0 5.0,0a2.5,2.5 0 1 0 -5.0,0M596.0,284.9a2.5,2.5 0 1 0 5.0,0a2.5,2.5 0 1 0 -5.0,0M596.2,281.0a2.5,2.5 0 1 0 5.0,0a2.5,2.5 0 1 0 -5.0,0M597.0,288.3a2.5,2.5 0 1 0 5.0,0a2.5,2.5 0 1 0 -5.0,0M597.0,305.2a2.5,2.5 0 1 0 5.0,0a2.5,2.5 0 1 0 -5.0,0M597.2,296.2a2.5,2.5 0 1 0 5.0,0a2.5,2.5 0 1 0 -5.0,0M597.9,283.7a2.5,2.5 0 1 0 5.0,0a2.5,2.5 0 1 0 -5.0,0M597.2,296.5a2.5,2.5 0 1 0 5.0,0a2.5,2.5 0 1 0 -5.0,0M598.1,299.3a2.5,2.5 0 1 0 5.0,0a2.5,2.5 0 1 0 -5.0,0M597.5,311.0a2.5,2.5 0 1 0 5.0,0a2.5,2.5 0 1 0 -5.0,0M598.9,301.4a2.5,2.5 0 1 0 5.0,0a2.5,2.5 0 1 0 -5.0,0M599.7,302.3a2.5,2.5 0 1 0 5.0,0a2.5,2.5 0 1 0 -5.0,0M600.3,309.8a2.5,2.5 0 1 0 5.0,0a2.5,2.5 0 1 0 -5.0,0M599.2,312.3a2.5,2.5 0 1 0 5.0,0a2.5,2.5 0 1 0 -5.0,0M600.9,322.7a2.5,2.5 0 1 0 5.0,0a2.5,2.5 0 1 0 -5.0,0M600.7,313.6a2.5,2.5 0 1 0 5.0,0a2.5,2.5 0 1 0 -5.0,0M601.0,324.8a2.5,2.5 0 1 0 5.0,0a2.5,2.5 0 1 0 -5.0,0M601.3,329.3a2.5,2.5 0 1 0 5.0,0a2.5,2.5 0 1 0 -5.0,0M601.9,320.0a2.5,2.5 0 1 0 5.0,0a2.5,2.5 0 1 0 -5.0,0M601.9,330.4a2.5,2.5 0 1 0 5.0,0a2.5,2.5 0 1 0 -5.0,0M602.3,322.9a2.5,2.5 0 1 0 5.0,0a2.5,2.5 0 1 0 -5.0,0M602.5,337.8a2.5,2.5 0 1 0 5.0,0a2.5,2.5 0 1 0 -5.0,0M603.1,318.7a2.5,2.5 0 1 0 5.0,0a2.5,2.5 0 1 0 -5.0,0M603.1,334.4a2.5,2.5 0 1 0 5.0,0a2.5,2.5 0 1 0 -5.0,0M603.3,332.0a2.5,2.5 0 1 0 5.0,0a2.5,2.5 0 1 0 -5.0,0M604.3,333.8a2.5,2.5 0 1 0 5.0,0a2.5,2.5 0 1 0 -5.0,0M604.3,339.3a2.5,2.5 0 1 0 5.0,0a2.5,2.5 0 1 0 -5.0,0M604.5,342.7a2.5,2.5 0 1 0 5.0,0a2.5,2.5 0 1 0 -5.0,0M604.2,345.9a2.5,2.5 0 1 0 5.0,0a2.5,2.5 0 1 0 -5.0,0M604.5,341.2a2.5,2.5 0 1 0 5.0,0a2.5,2.5 0 1 0 -5.0,0M605.3,330.5a2.5,2.5 0 1 0 5.0,0a2.5,2.5 0 1 0 -5.0,0M605.2,337.2a2.5,2.5 0 1 0 5.0,0a2.5,2.5 0 1 0 -5.0,0M606.6,344.1a2.5,2.5 0 1 0 5.0,0a2.5,2.5 0 1 0 -5.0,0M606.0,349.3a2.5,2.5 0 1 0 5.0,0a2.5,2.5 0 1 0 -5.0,0M606.5,345.1a2.5,2.5 0 1 0 5.0,0a2.5,2.5 0 1 0 -5.0,0M606.5,332.5a2.5,2.5 0 1 0 5.0,0a2.5,2.5 0 1 0 -5.0,0M607.5,342.0a2.5,2.5 0 1 0 5.0,0a2.5,2.5 0 1 0 -5.0,0M606.7,345.5a2.5,2.5 0 1 0 5.0,0a2.5,2.5 0 1 0 -5.0,0M608.2,332.9a2.5,2.5 0 1 0 5.0,0a2.5,2.5 0 1 0 -5.0,0M608.9,326.6a2.5,2.5 0 1 0 5.0,0a2.5,2.5 0 1 0 -5.0,0M608.6,325.5a2.5,2.5 0 1 0 5.0,0a2.5,2.5 0 1 0 -5.0,0M609.1,326.9a2.5,2.5 0 1 0 5.0,0a2.5,2.5 0 1 0 -5.0,0M609.4,327.0a2.5,2.5 0 1 0 5.0,0a2.5,2.5 0 1 0 -5.0,0M609.7,324.6a2.5,2.5 0 1 0 5.0,0a2.5,2.5 0 1 0 -5.0,0M609.5,333.3a2.5,2.5 0 1 0 5.0,0a2.5,2.5 0 1 0 -5.0,0M609.8,326.3a2.5,2.5 0 1 0 5.0,0a2.5,2.5 0 1 0 -5.0,0M609.6,320.1a2.5,2.5 0 1 0 5.0,0a2.5,2.5 0 1 0 -5.0,0M610.6,329.2a2.5,2.5 0 1 0 5.0,0a2.5,2.5 0 1 0 -5.0,0M611.1,308.4a2.5,2.5 0 1 0 5.0,0a2.5,2.5 0 1 0 -5.0,0M611.8,307.2a2.5,2.5 0 1 0 5.0,0a2.5,2.5 0 1 0 -5.0,0M610.9,302.8a2.5,2.5 0 1 0 5.0,0a2.5,2.5 0 1 0 -5.0,0M611.3,309.5a2.5,2.5 0 1 0 5.0,0a2.5,2.5 0 1 0 -5.0,0M612.1,303.4a2.5,2.5 0 1 0 5.0,0a2.5,2.5 0 1 0 -5.0,0M612.3,303.8a2.5,2.5 0 1 0 5.0,0a2.5,2.5 0 1 0 -5.0,0M613.1,298.2a2.5,2.5 0 1 0 5.0,0a2.5,2.5 0 1 0 -5.0,0M612.3,284.3a2.5,2.5 0 1 0 5.0,0a2.5,2.5 0 1 0 -5.0,0M613.7,272.2a2.5,2.5 0 1 0 5.0,0a2.5,2.5 0 1 0 -5.0,0M613.5,284.5a2.5,2.5 0 1 0 5.0,0a2.5,2.5 0 1 0 -5.0,0M614.8,272.4a2.5,2.5 0 1 0 5.0,0a2.5,2.5 0 1 0 -5.0,0M614.8,283.1a2.5,2.5 0 1 0 5.0,0a2.5,2.5 0 1 0 -5.0,0M614.6,281.0a2.5,2.5 0 1 0 5.0,0a2.5,2.5 0 1 0 -5.0,0M615.1,253.8a2.5,2.5 0 1 0 5.0,0a2.5,2.5 0 1 0 -5.0,0M615.2,252.1a2.5,2.5 0 1 0 5.0,0a2.5,2.5 0 1 0 -5.0,0M615.9,266.0a2.5,2.5 0 1 0 5.0,0a2.5,2.5 0 1 0 -5.0,0M615.6,253.0a2.5,2.5 0 1 0 5.0,0a2.5,2.5 0 1 0 -5.0,0M616.4,244.9a2.5,2.5 0 1 0 5.0,0a2.5,2.5 0 1 0 -5.0,0M616.8,244.9a2.5,2.5 0 1 0 5.0,0a2.5,2.5 0 1 0 -5.0,0M616.8,252.7a2.5,2.5 0 1 0 5.0,0a2.5,2.5 0 1 0 -5.0,0M617.0,240.2a2.5,2.5 0 1 0 5.0,0a2.5,2.5 0 1 0 -5.0,0M617.7,231.2a2.5,2.5 0 1 0 5.0,0a2.5,2.5 0 1 0 -5.0,0M617.8,237.0a2.5,2.5 0 1 0 5.0,0a2.5,2.5 0 1 0 -5.0,0M618.8,223.5a2.5,2.5 0 1 0 5.0,0a2.5,2.5 0 1 0 -5.0,0M618.3,218.9a2.5,2.5 0 1 0 5.0,0a2.5,2.5 0 1 0 -5.0,0M619.3,210.7a2.5,2.5 0 1 0 5.0,0a2.5,2.5 0 1 0 -5.0,0M619.1,207.5a2.5,2.5 0 1 0 5.0,0a2.5,2.5 0 1 0 -5.0,0M619.4,216.8a2.5,2.5 0 1 0 5.0,0a2.5,2.5 0 1 0 -5.0,0M619.9,210.9a2.5,2.5 0 1 0 5.0,0a2.5,2.5 0 1 0 -5.0,0M620.3,196.9a2.5,2.5 0 1 0 5.0,0a2.5,2.5 0 1 0 -5.0,0M620.9,198.8a2.5,2.5 0 1 0 5.0,0a2.5,2.5 0 1 0 -5.0,0M621.2,204.8a2.5,2.5 0 1 0 5.0,0a2.5,2.5 0 1 0 -5.0,0M621.9,209.2a2.5,2.5 0 1 0 5.0,0a2.5,2.5 0 1 0 -5.0,0M621.8,198.0a2.5,2.5 0 1 0 5.0,0a2.5,2.5 0 1 0 -5.0,0M622.2,203.5a2.5,2.5 0 1 0 5.0,0a2.5,2.5 0 1 0 -5.0,0M622.4,211.2a2.5,2.5 0 1 0 5.0,0a2.5,2.5 0 1 0 -5.0,0M622.8,187.5a2.5,2.5 0 1 0 5.0,0a2.5,2.5 0 1 0 -5.0,0M622.9,194.1a2.5,2.5 0 1 0 5.0,0a2.5,2.5 0 1 0 -5.0,0M623.2,207.8a2.5,2.5 0 1 0 5.0,0a2.5,2.5 0 1 0 -5.0,0M623.5,206.6a2.5,2.5 0 1 0 5.0,0a2.5,2.5 0 1 0 -5.0,0M623.8,198.5a2.5,2.5 0 1 0 5.0,0a2.5,2.5 0 1 0 -5.0,0M623.7,206.5a2.5,2.5 0 1 0 5.0,0a2.5,2.5 0 1 0 -5.0,0M623.9,193.9a2.5,2.5 0 1 0 5.0,0a2.5,2.5 0 1 0 -5.0,0M624.8,208.7a2.5,2.5 0 1 0 5.0,0a2.5,2.5 0 1 0 -5.0,0M625.2,205.6a2.5,2.5 0 1 0 5.0,0a2.5,2.5 0 1 0 -5.0,0M625.2,205.8a2.5,2.5 0 1 0 5.0,0a2.5,2.5 0 1 0 -5.0,0M626.4,196.6a2.5,2.5 0 1 0 5.0,0a2.5,2.5 0 1 0 -5.0,0M625.2,202.9a2.5,2.5 0 1 0 5.0,0a2.5,2.5 0 1 0 -5.0,0M625.9,190.9a2.5,2.5 0 1 0 5.0,0a2.5,2.5 0 1 0 -5.0,0M626.3,204.9a2.5,2.5 0 1 0 5.0,0a2.5,2.5 0 1 0 -5.0,0M626.8,201.1a2.5,2.5 0 1 0 5.0,0a2.5,2.5 0 1 0 -5.0,0M626.9,213.3a2.5,2.5 0 1 0 5.0,0a2.5,2.5 0 1 0 -5.0,0M628.2,195.5a2.5,2.5 0 1 0 5.0,0a2.5,2.5 0 1 0 -5.0,0M628.4,212.5a2.5,2.5 0 1 0 5.0,0a2.5,2.5 0 1 0 -5.0,0M628.1,216.2a2.5,2.5 0 1 0 5.0,0a2.5,2.5 0 1 0 -5.0,0M629.0,197.4a2.5,2.5 0 1 0 5.0,0a2.5,2.5 0 1 0 -5.0,0M629.0,222.3a2.5,2.5 0 1 0 5.0,0a2.5,2.5 0 1 0 -5.0,0M628.7,223.3a2.5,2.5 0 1 0 5.0,0a2.5,2.5 0 1 0 -5.0,0M629.2,212.9a2.5,2.5 0 1 0 5.0,0a2.5,2.5 0 1 0 -5.0,0M629.9,221.4a2.5,2.5 0 1 0 5.0,0a2.5,2.5 0 1 0 -5.0,0M630.4,214.8a2.5,2.5 0 1 0 5.0,0a2.5,2.5 0 1 0 -5.0,0M629.8,239.1a2.5,2.5 0 1 0 5.0,0a2.5,2.5 0 1 0 -5.0,0M629.8,220.7a2.5,2.5 0 1 0 5.0,0a2.5,2.5 0 1 0 -5.0,0M630.3,216.2a2.5,2.5 0 1 0 5.0,0a2.5,2.5 0 1 0 -5.0,0M631.8,234.1a2.5,2.5 0 1 0 5.0,0a2.5,2.5 0 1 0 -5.0,0M630.8,237.8a2.5,2.5 0 1 0 5.0,0a2.5,2.5 0 1 0 -5.0,0M631.6,238.0a2.5,2.5 0 1 0 5.0,0a2.5,2.5 0 1 0 -5.0,0M632.5,240.2a2.5,2.5 0 1 0 5.0,0a2.5,2.5 0 1 0 -5.0,0M632.7,249.7a2.5,2.5 0 1 0 5.0,0a2.5,2.5 0 1 0 -5.0,0M633.9,244.6a2.5,2.5 0 1 0 5.0,0a2.5,2.5 0 1 0 -5.0,0M633.8,242.9a2.5,2.5 0 1 0 5.0,0a2.5,2.5 0 1 0 -5.0,0M632.9,253.3a2.5,2.5 0 1 0 5.0,0a2.5,2.5 0 1 0 -5.0,0M634.3,240.1a2.5,2.5 0 1 0 5.0,0a2.5,2.5 0 1 0 -5.0,0M632.7,248.6a2.5,2.5 0 1 0 5.0,0a2.5,2.5 0 1 0 -5.0,0M634.6,250.6a2.5,2.5 0 1 0 5.0,0a2.5,2.5 0 1 0 -5.0,0M634.4,255.5a2.5,2.5 0 1 0 5.0,0a2.5,2.5 0 1 0 -5.0,0M635.2,263.4a2.5,2.5 0 1 0 5.0,0a2.5,2.5 0 1 0 -5.0,0M635.1,263.1a2.5,2.5 0 1 0 5.0,0a2.5,2.5 0 1 0 -5.0,0M635.9,269.7a2.5,2.5 0 1 0 5.0,0a2.5,2.5 0 1 0 -5.0,0M635.6,261.3a2.5,2.5 0 1 0 5.0,0a2.5,2.5 0 1 0 -5.0,0M636.5,263.8a2.5,2.5 0 1 0 5.0,0a2.5,2.5 0 1 0 -5.0,0M636.4,262.9a2.5,2.5 0 1 0 5.0,0a2.5,2.5 0 1 0 -5.0,0M636.6,271.9a2.5,2.5 0 1 0 5.0,0a2.5,2.5 0 1 0 -5.0,0M636.6,291.6a2.5,2.5 0 1 0 5.0,0a2.5,2.5 0 1 0 -5.0,0M637.1,273.3a2.5,2.5 0 1 0 5.0,0a2.5,2.5 0 1 0 -5.0,0M637.7,287.5a2.5,2.5 0 1 0 5.0,0a2.5,2.5 0 1 0 -5.0,0M638.4,280.8a2.5,2.5 0 1 0 5.0,0a2.5,2.5 0 1 0 -5.0,0M637.5,295.2a2.5,2.5 0 1 0 5.0,0a2.5,2.5 0 1 0 -5.0,0M638.8,294.5a2.5,2.5 0 1 0 5.0,0a2.5,2.5 0 1 0 -5.0,0M639.4,297.1a2.5,2.5 0 1 0 5.0,0a2.5,2.5 0 1 0 -5.0,0M639.6,309.5a2.5,2.5 0 1 0 5.0,0a2.5,2.5 0 1 0 -5.0,0M639.4,309.0a2.5,2.5 0 1 0 5.0,0a2.5,2.5 0 1 0 -5.0,0M640.1,311.2a2.5,2.5 0 1 0 5.0,0a2.5,2.5 0 1 0 -5.0,0M640.1,302.7a2.5,2.5 0 1 0 5.0,0a2.5,2.5 0 1 0 -5.0,0M641.1,305.7a2.5,2.5 0 1 0 5.0,0a2.5,2.5 0 1 0 -5.0,0M639.9,309.5a2.5,2.5 0 1 0 5.0,0a2.5,2.5 0 1 0 -5.0,0M641.8,304.9a2.5,2.5 0 1 0 5.0,0a2.5,2.5 0 1 0 -5.0,0M641.3,299.4a2.5,2.5 0 1 0 5.0,0a2.5,2.5 0 1 0 -5.0,0M641.6,305.9a2.5,2.5 0 1 0 5.0,0a2.5,2.5 0 1 0 -5.0,0M643.2,310.7a2.5,2.5 0 1 0 5.0,0a2.5,2.5 0 1 0 -5.0,0M641.8,322.9a2.5,2.5 0 1 0 5.0,0a2.5,2.5 0 1 0 -5.0,0M642.5,314.4a2.5,2.5 0 1 0 5.0,0a2.5,2.5 0 1 0 -5.0,0M642.4,316.1a2.5,2.5 0 1 0 5.0,0a2.5,2.5 0 1 0 -5.0,0M644.1,313.7a2.5,2.5 0 1 0 5.0,0a2.5,2.5 0 1 0 -5.0,0M643.6,324.1a2.5,2.5 0 1 0 5.0,0a2.5,2.5 0 1 0 -5.0,0M644.6,306.1a2.5,2.5 0 1 0 5.0,0a2.5,2.5 0 1 0 -5.0,0M645.3,315.5a2.5,2.5 0 1 0 5.0,0a2.5,2.5 0 1 0 -5.0,0M645.6,333.0a2.5,2.5 0 1 0 5.0,0a2.5,2.5 0 1 0 -5.0,0M644.4,318.8a2.5,2.5 0 1 0 5.0,0a2.5,2.5 0 1 0 -5.0,0M645.8,322.2a2.5,2.5 0 1 0 5.0,0a2.5,2.5 0 1 0 -5.0,0M644.9,331.2a2.5,2.5 0 1 0 5.0,0a2.5,2.5 0 1 0 -5.0,0M646.0,315.1a2.5,2.5 0 1 0 5.0,0a2.5,2.5 0 1 0 -5.0,0M646.6,324.1a2.5,2.5 0 1 0 5.0,0a2.5,2.5 0 1 0 -5.0,0M647.5,314.7a2.5,2.5 0 1 0 5.0,0a2.5,2.5 0 1 0 -5.0,0M648.2,327.0a2.5,2.5 0 1 0 5.0,0a2.5,2.5 0 1 0 -5.0,0M646.3,322.0a2.5,2.5 0 1 0 5.0,0a2.5,2.5 0 1 0 -5.0,0M647.4,322.6a2.5,2.5 0 1 0 5.0,0a2.5,2.5 0 1 0 -5.0,0M646.9,326.3a2.5,2.5 0 1 0 5.0,0a2.5,2.5 0 1 0 -5.0,0M647.9,323.1a2.5,2.5 0 1 0 5.0,0a2.5,2.5 0 1 0 -5.0,0M649.3,325.3a2.5,2.5 0 1 0 5.0,0a2.5,2.5 0 1 0 -5.0,0M648.2,316.7a2.5,2.5 0 1 0 5.0,0a2.5,2.5 0 1 0 -5.0,0M649.3,324.8a2.5,2.5 0 1 0 5.0,0a2.5,2.5 0 1 0 -5.0,0M650.2,303.1a2.5,2.5 0 1 0 5.0,0a2.5,2.5 0 1 0 -5.0,0M649.9,308.0a2.5,2.5 0 1 0 5.0,0a2.5,2.5 0 1 0 -5.0,0M650.7,320.0a2.5,2.5 0 1 0 5.0,0a2.5,2.5 0 1 0 -5.0,0M650.2,306.2a2.5,2.5 0 1 0 5.0,0a2.5,2.5 0 1 0 -5.0,0M650.1,301.6a2.5,2.5 0 1 0 5.0,0a2.5,2.5 0 1 0 -5.0,0M652.0,314.8a2.5,2.5 0 1 0 5.0,0a2.5,2.5 0 1 0 -5.0,0M650.4,320.7a2.5,2.5 0 1 0 5.0,0a2.5,2.5 0 1 0 -5.0,0M651.8,295.4a2.5,2.5 0 1 0 5.0,0a2.5,2.5 0 1 0 -5.0,0M651.0,291.0a2.5,2.5 0 1 0 5.0,0a2.5,2.5 0 1 0 -5.0,0M652.3,300.3a2.5,2.5 0 1 0 5.0,0a2.5,2.5 0 1 0 -5.0,0M652.1,307.5a2.5,2.5 0 1 0 5.0,0a2.5,2.5 0 1 0 -5.0,0M652.4,298.7a2.5,2.5 0 1 0 5.0,0a2.5,2.5 0 1 0 -5.0,0M653.3,293.3a2.5,2.5 0 1 0 5.0,0a2.5,2.5 0 1 0 -5.0,0M654.1,294.4a2.5,2.5 0 1 0 5.0,0a2.5,2.5 0 1 0 -5.0,0M653.8,290.5a2.5,2.5 0 1 0 5.0,0a2.5,2.5 0 1 0 -5.0,0M654.4,304.1a2.5,2.5 0 1 0 5.0,0a2.5,2.5 0 1 0 -5.0,0M654.5,289.1a2.5,2.5 0 1 0 5.0,0a2.5,2.5 0 1 0 -5.0,0M654.1,289.1a2.5,2.5 0 1 0 5.0,0a2.5,2.5 0 1 0 -5.0,0M655.0,286.1a2.5,2.5 0 1 0 5.0,0a2.5,2.5 0 1 0 -5.0,0M655.5,276.7a2.5,2.5 0 1 0 5.0,0a2.5,2.5 0 1 0 -5.0,0M656.1,266.2a2.5,2.5 0 1 0 5.0,0a2.5,2.5 0 1 0 -5.0,0M656.8,269.1a2.5,2.5 0 1 0 5.0,0a2.5,2.5 0 1 0 -5.0,0M656.3,265.8a2.5,2.5 0 1 0 5.0,0a2.5,2.5 0 1 0 -5.0,0M656.1,273.0a2.5,2.5 0 1 0 5.0,0a2.5,2.5 0 1 0 -5.0,0M657.3,258.2a2.5,2.5 0 1 0 5.0,0a2.5,2.5 0 1 0 -5.0,0M657.4,251.4a2.5,2.5 0 1 0 5.0,0a2.5,2.5 0 1 0 -5.0,0M657.9,261.6a2.5,2.5 0 1 0 5.0,0a2.5,2.5 0 1 0 -5.0,0M658.2,251.6a2.5,2.5 0 1 0 5.0,0a2.5,2.5 0 1 0 -5.0,0M658.8,251.9a2.5,2.5 0 1 0 5.0,0a2.5,2.5 0 1 0 -5.0,0M659.2,250.1a2.5,2.5 0 1 0 5.0,0a2.5,2.5 0 1 0 -5.0,0M658.6,233.8a2.5,2.5 0 1 0 5.0,0a2.5,2.5 0 1 0 -5.0,0M660.1,253.0a2.5,2.5 0 1 0 5.0,0a2.5,2.5 0 1 0 -5.0,0M659.9,251.7a2.5,2.5 0 1 0 5.0,0a2.5,2.5 0 1 0 -5.0,0M660.4,240.5a2.5,2.5 0 1 0 5.0,0a2.5,2.5 0 1 0 -5.0,0M660.5,244.2a2.5,2.5 0 1 0 5.0,0a2.5,2.5 0 1 0 -5.0,0M660.9,248.2a2.5,2.5 0 1 0 5.0,0a2.5,2.5 0 1 0 -5.0,0M660.7,242.2a2.5,2.5 0 1 0 5.0,0a2.5,2.5 0 1 0 -5.0,0M661.8,240.2a2.5,2.5 0 1 0 5.0,0a2.5,2.5 0 1 0 -5.0,0M660.3,231.4a2.5,2.5 0 1 0 5.0,0a2.5,2.5 0 1 0 -5.0,0M662.4,229.1a2.5,2.5 0 1 0 5.0,0a2.5,2.5 0 1 0 -5.0,0M661.9,215.0a2.5,2.5 0 1 0 5.0,0a2.5,2.5 0 1 0 -5.0,0M662.6,223.0a2.5,2.5 0 1 0 5.0,0a2.5,2.5 0 1 0 -5.0,0M662.9,230.9a2.5,2.5 0 1 0 5.0,0a2.5,2.5 0 1 0 -5.0,0M663.3,216.9a2.5,2.5 0 1 0 5.0,0a2.5,2.5 0 1 0 -5.0,0M663.1,206.0a2.5,2.5 0 1 0 5.0,0a2.5,2.5 0 1 0 -5.0,0M664.0,218.8a2.5,2.5 0 1 0 5.0,0a2.5,2.5 0 1 0 -5.0,0M663.9,218.6a2.5,2.5 0 1 0 5.0,0a2.5,2.5 0 1 0 -5.0,0M664.0,222.2a2.5,2.5 0 1 0 5.0,0a2.5,2.5 0 1 0 -5.0,0M664.7,204.4a2.5,2.5 0 1 0 5.0,0a2.5,2.5 0 1 0 -5.0,0M665.0,203.6a2.5,2.5 0 1 0 5.0,0a2.5,2.5 0 1 0 -5.0,0M664.9,205.7a2.5,2.5 0 1 0 5.0,0a2.5,2.5 0 1 0 -5.0,0M666.2,198.6a2.5,2.5 0 1 0 5.0,0a2.5,2.5 0 1 0 -5.0,0M665.6,210.0a2.5,2.5 0 1 0 5.0,0a2.5,2.5 0 1 0 -5.0,0M666.5,206.3a2.5,2.5 0 1 0 5.0,0a2.5,2.5 0 1 0 -5.0,0M666.5,203.3a2.5,2.5 0 1 0 5.0,0a2.5,2.5 0 1 0 -5.0,0M665.7,213.9a2.5,2.5 0 1 0 5.0,0a2.5,2.5 0 1 0 -5.0,0M667.8,207.7a2.5,2.5 0 1 0 5.0,0a2.5,2.5 0 1 0 -5.0,0M666.9,203.1a2.5,2.5 0 1 0 5.0,0a2.5,2.5 0 1 0 -5.0,0M667.2,200.9a2.5,2.5 0 1 0 5.0,0a2.5,2.5 0 1 0 -5.0,0M669.2,203.3a2.5,2.5 0 1 0 5.0,0a2.5,2.5 0 1 0 -5.0,0M668.6,205.9a2.5,2.5 0 1 0 5.0,0a2.5,2.5 0 1 0 -5.0,0M669.1,194.4a2.5,2.5 0 1 0 5.0,0a2.5,2.5 0 1 0 -5.0,0M669.6,197.6a2.5,2.5 0 1 0 5.0,0a2.5,2.5 0 1 0 -5.0,0M669.5,204.7a2.5,2.5 0 1 0 5.0,0a2.5,2.5 0 1 0 -5.0,0M669.1,204.7a2.5,2.5 0 1 0 5.0,0a2.5,2.5 0 1 0 -5.0,0M670.9,207.8a2.5,2.5 0 1 0 5.0,0a2.5,2.5 0 1 0 -5.0,0M671.0,204.8a2.5,2.5 0 1 0 5.0,0a2.5,2.5 0 1 0 -5.0,0M670.4,206.4a2.5,2.5 0 1 0 5.0,0a2.5,2.5 0 1 0 -5.0,0M670.5,209.8a2.5,2.5 0 1 0 5.0,0a2.5,2.5 0 1 0 -5.0,0M671.8,201.2a2.5,2.5 0 1 0 5.0,0a2.5,2.5 0 1 0 -5.0,0M671.3,213.0a2.5,2.5 0 1 0 5.0,0a2.5,2.5 0 1 0 -5.0,0M672.3,211.6a2.5,2.5 0 1 0 5.0,0a2.5,2.5 0 1 0 -5.0,0M671.9,199.7a2.5,2.5 0 1 0 5.0,0a2.5,2.5 0 1 0 -5.0,0M672.5,214.3a2.5,2.5 0 1 0 5.0,0a2.5,2.5 0 1 0 -5.0,0M673.3,205.1a2.5,2.5 0 1 0 5.0,0a2.5,2.5 0 1 0 -5.0,0M673.9,227.3a2.5,2.5 0 1 0 5.0,0a2.5,2.5 0 1 0 -5.0,0M674.4,221.3a2.5,2.5 0 1 0 5.0,0a2.5,2.5 0 1 0 -5.0,0M674.2,224.1a2.5,2.5 0 1 0 5.0,0a2.5,2.5 0 1 0 -5.0,0M674.6,223.2a2.5,2.5 0 1 0 5.0,0a2.5,2.5 0 1 0 -5.0,0M674.7,214.2a2.5,2.5 0 1 0 5.0,0a2.5,2.5 0 1 0 -5.0,0M675.8,216.1a2.5,2.5 0 1 0 5.0,0a2.5,2.5 0 1 0 -5.0,0M674.5,221.2a2.5,2.5 0 1 0 5.0,0a2.5,2.5 0 1 0 -5.0,0M676.4,213.1a2.5,2.5 0 1 0 5.0,0a2.5,2.5 0 1 0 -5.0,0M676.4,226.7a2.5,2.5 0 1 0 5.0,0a2.5,2.5 0 1 0 -5.0,0M676.1,234.0a2.5,2.5 0 1 0 5.0,0a2.5,2.5 0 1 0 -5.0,0M675.4,231.3a2.5,2.5 0 1 0 5.0,0a2.5,2.5 0 1 0 -5.0,0M677.3,241.0a2.5,2.5 0 1 0 5.0,0a2.5,2.5 0 1 0 -5.0,0M676.5,231.1a2.5,2.5 0 1 0 5.0,0a2.5,2.5 0 1 0 -5.0,0M677.5,221.0a2.5,2.5 0 1 0 5.0,0a2.5,2.5 0 1 0 -5.0,0M677.7,245.7a2.5,2.5 0 1 0 5.0,0a2.5,2.5 0 1 0 -5.0,0M677.8,252.8a2.5,2.5 0 1 0 5.0,0a2.5,2.5 0 1 0 -5.0,0M677.6,250.1a2.5,2.5 0 1 0 5.0,0a2.5,2.5 0 1 0 -5.0,0M678.9,250.5a2.5,2.5 0 1 0 5.0,0a2.5,2.5 0 1 0 -5.0,0M679.6,241.6a2.5,2.5 0 1 0 5.0,0a2.5,2.5 0 1 0 -5.0,0M678.4,233.8a2.5,2.5 0 1 0 5.0,0a2.5,2.5 0 1 0 -5.0,0M680.6,250.4a2.5,2.5 0 1 0 5.0,0a2.5,2.5 0 1 0 -5.0,0M679.9,253.3a2.5,2.5 0 1 0 5.0,0a2.5,2.5 0 1 0 -5.0,0M680.6,239.8a2.5,2.5 0 1 0 5.0,0a2.5,2.5 0 1 0 -5.0,0M680.4,239.7a2.5,2.5 0 1 0 5.0,0a2.5,2.5 0 1 0 -5.0,0M680.5,264.7a2.5,2.5 0 1 0 5.0,0a2.5,2.5 0 1 0 -5.0,0M680.7,267.6a2.5,2.5 0 1 0 5.0,0a2.5,2.5 0 1 0 -5.0,0M682.1,273.3a2.5,2.5 0 1 0 5.0,0a2.5,2.5 0 1 0 -5.0,0M681.7,263.3a2.5,2.5 0 1 0 5.0,0a2.5,2.5 0 1 0 -5.0,0M682.0,267.0a2.5,2.5 0 1 0 5.0,0a2.5,2.5 0 1 0 -5.0,0M681.9,261.6a2.5,2.5 0 1 0 5.0,0a2.5,2.5 0 1 0 -5.0,0M682.5,260.8a2.5,2.5 0 1 0 5.0,0a2.5,2.5 0 1 0 -5.0,0M682.8,269.9a2.5,2.5 0 1 0 5.0,0a2.5,2.5 0 1 0 -5.0,0M683.8,262.0a2.5,2.5 0 1 0 5.0,0a2.5,2.5 0 1 0 -5.0,0M684.2,267.3a2.5,2.5 0 1 0 5.0,0a2.5,2.5 0 1 0 -5.0,0M683.7,285.6a2.5,2.5 0 1 0 5.0,0a2.5,2.5 0 1 0 -5.0,0M683.7,286.3a2.5,2.5 0 1 0 5.0,0a2.5,2.5 0 1 0 -5.0,0M685.1,296.8a2.5,2.5 0 1 0 5.0,0a2.5,2.5 0 1 0 -5.0,0M685.1,276.0a2.5,2.5 0 1 0 5.0,0a2.5,2.5 0 1 0 -5.0,0M684.7,299.9a2.5,2.5 0 1 0 5.0,0a2.5,2.5 0 1 0 -5.0,0M684.9,279.3a2.5,2.5 0 1 0 5.0,0a2.5,2.5 0 1 0 -5.0,0M686.3,285.9a2.5,2.5 0 1 0 5.0,0a2.5,2.5 0 1 0 -5.0,0M685.1,284.0a2.5,2.5 0 1 0 5.0,0a2.5,2.5 0 1 0 -5.0,0M687.2,277.6a2.5,2.5 0 1 0 5.0,0a2.5,2.5 0 1 0 -5.0,0M686.5,280.2a2.5,2.5 0 1 0 5.0,0a2.5,2.5 0 1 0 -5.0,0M686.9,294.7a2.5,2.5 0 1 0 5.0,0a2.5,2.5 0 1 0 -5.0,0M688.2,298.2a2.5,2.5 0 1 0 5.0,0a2.5,2.5 0 1 0 -5.0,0M687.3,288.4a2.5,2.5 0 1 0 5.0,0a2.5,2.5 0 1 0 -5.0,0M688.8,288.5a2.5,2.5 0 1 0 5.0,0a2.5,2.5 0 1 0 -5.0,0M688.4,300.0a2.5,2.5 0 1 0 5.0,0a2.5,2.5 0 1 0 -5.0,0M688.7,291.9a2.5,2.5 0 1 0 5.0,0a2.5,2.5 0 1 0 -5.0,0M689.7,305.6a2.5,2.5 0 1 0 5.0,0a2.5,2.5 0 1 0 -5.0,0M689.0,290.3a2.5,2.5 0 1 0 5.0,0a2.5,2.5 0 1 0 -5.0,0M689.7,288.4a2.5,2.5 0 1 0 5.0,0a2.5,2.5 0 1 0 -5.0,0M690.7,310.0a2.5,2.5 0 1 0 5.0,0a2.5,2.5 0 1 0 -5.0,0M690.0,307.9a2.5,2.5 0 1 0 5.0,0a2.5,2.5 0 1 0 -5.0,0M689.7,294.7a2.5,2.5 0 1 0 5.0,0a2.5,2.5 0 1 0 -5.0,0M690.5,298.7a2.5,2.5 0 1 0 5.0,0a2.5,2.5 0 1 0 -5.0,0M691.4,301.7a2.5,2.5 0 1 0 5.0,0a2.5,2.5 0 1 0 -5.0,0M691.5,294.5a2.5,2.5 0 1 0 5.0,0a2.5,2.5 0 1 0 -5.0,0M691.8,309.9a2.5,2.5 0 1 0 5.0,0a2.5,2.5 0 1 0 -5.0,0M692.4,291.5a2.5,2.5 0 1 0 5.0,0a2.5,2.5 0 1 0 -5.0,0M692.5,301.0a2.5,2.5 0 1 0 5.0,0a2.5,2.5 0 1 0 -5.0,0M692.5,294.9a2.5,2.5 0 1 0 5.0,0a2.5,2.5 0 1 0 -5.0,0M693.6,296.3a2.5,2.5 0 1 0 5.0,0a2.5,2.5 0 1 0 -5.0,0M693.8,294.2a2.5,2.5 0 1 0 5.0,0a2.5,2.5 0 1 0 -5.0,0M693.6,304.2a2.5,2.5 0 1 0 5.0,0a2.5,2.5 0 1 0 -5.0,0M693.8,300.0a2.5,2.5 0 1 0 5.0,0a2.5,2.5 0 1 0 -5.0,0M696.0,286.2a2.5,2.5 0 1 0 5.0,0a2.5,2.5 0 1 0 -5.0,0M694.1,297.4a2.5,2.5 0 1 0 5.0,0a2.5,2.5 0 1 0 -5.0,0M695.3,293.9a2.5,2.5 0 1 0 5.0,0a2.5,2.5 0 1 0 -5.0,0M694.6,295.1a2.5,2.5 0 1 0 5.0,0a2.5,2.5 0 1 0 -5.0,0M694.7,284.9a2.5,2.5 0 1 0 5.0,0a2.5,2.5 0 1 0 -5.0,0M696.7,292.7a2.5,2.5 0 1 0 5.0,0a2.5,2.5 0 1 0 -5.0,0M696.3,300.2a2.5,2.5 0 1 0 5.0,0a2.5,2.5 0 1 0 -5.0,0M696.3,286.5a2.5,2.5 0 1 0 5.0,0a2.5,2.5 0 1 0 -5.0,0M697.5,300.6a2.5,2.5 0 1 0 5.0,0a2.5,2.5 0 1 0 -5.0,0M697.2,282.5a2.5,2.5 0 1 0 5.0,0a2.5,2.5 0 1 0 -5.0,0M697.3,294.7a2.5,2.5 0 1 0 5.0,0a2.5,2.5 0 1 0 -5.0,0M697.5,289.9a2.5,2.5 0 1 0 5.0,0a2.5,2.5 0 1 0 -5.0,0M698.7,276.4a2.5,2.5 0 1 0 5.0,0a2.5,2.5 0 1 0 -5.0,0M698.6,292.1a2.5,2.5 0 1 0 5.0,0a2.5,2.5 0 1 0 -5.0,0M698.9,272.3a2.5,2.5 0 1 0 5.0,0a2.5,2.5 0 1 0 -5.0,0M699.1,279.3a2.5,2.5 0 1 0 5.0,0a2.5,2.5 0 1 0 -5.0,0M699.3,277.7a2.5,2.5 0 1 0 5.0,0a2.5,2.5 0 1 0 -5.0,0M699.0,278.5a2.5,2.5 0 1 0 5.0,0a2.5,2.5 0 1 0 -5.0,0M700.2,262.6a2.5,2.5 0 1 0 5.0,0a2.5,2.5 0 1 0 -5.0,0M700.7,265.2a2.5,2.5 0 1 0 5.0,0a2.5,2.5 0 1 0 -5.0,0M700.9,279.3a2.5,2.5 0 1 0 5.0,0a2.5,2.5 0 1 0 -5.0,0M701.6,271.8a2.5,2.5 0 1 0 5.0,0a2.5,2.5 0 1 0 -5.0,0M701.9,274.4a2.5,2.5 0 1 0 5.0,0a2.5,2.5 0 1 0 -5.0,0M701.4,259.0a2.5,2.5 0 1 0 5.0,0a2.5,2.5 0 1 0 -5.0,0M702.3,268.4a2.5,2.5 0 1 0 5.0,0a2.5,2.5 0 1 0 -5.0,0M702.1,251.5a2.5,2.5 0 1 0 5.0,0a2.5,2.5 0 1 0 -5.0,0M703.4,257.6a2.5,2.5 0 1 0 5.0,0a2.5,2.5 0 1 0 -5.0,0M702.8,255.4a2.5,2.5 0 1 0 5.0,0a2.5,2.5 0 1 0 -5.0,0M703.6,255.5a2.5,2.5 0 1 0 5.0,0a2.5,2.5 0 1 0 -5.0,0M703.1,264.1a2.5,2.5 0 1 0 5.0,0a2.5,2.5 0 1 0 -5.0,0M704.1,242.2a2.5,2.5 0 1 0 5.0,0a2.5,2.5 0 1 0 -5.0,0M703.5,245.7a2.5,2.5 0 1 0 5.0,0a2.5,2.5 0 1 0 -5.0,0M703.6,254.6a2.5,2.5 0 1 0 5.0,0a2.5,2.5 0 1 0 -5.0,0M705.0,234.4a2.5,2.5 0 1 0 5.0,0a2.5,2.5 0 1 0 -5.0,0M705.5,234.8a2.5,2.5 0 1 0 5.0,0a2.5,2.5 0 1 0 -5.0,0M706.1,242.8a2.5,2.5 0 1 0 5.0,0a2.5,2.5 0 1 0 -5.0,0M705.9,243.9a2.5,2.5 0 1 0 5.0,0a2.5,2.5 0 1 0 -5.0,0M706.3,241.0a2.5,2.5 0 1 0 5.0,0a2.5,2.5 0 1 0 -5.0,0M706.4,239.0a2.5,2.5 0 1 0 5.0,0a2.5,2.5 0 1 0 -5.0,0M707.2,236.4a2.5,2.5 0 1 0 5.0,0a2.5,2.5 0 1 0 -5.0,0M706.8,230.4a2.5,2.5 0 1 0 5.0,0a2.5,2.5 0 1 0 -5.0,0M707.2,225.2a2.5,2.5 0 1 0 5.0,0a2.5,2.5 0 1 0 -5.0,0M709.0,235.5a2.5,2.5 0 1 0 5.0,0a2.5,2.5 0 1 0 -5.0,0M707.6,239.9a2.5,2.5 0 1 0 5.0,0a2.5,2.5 0 1 0 -5.0,0M708.8,228.7a2.5,2.5 0 1 0 5.0,0a2.5,2.5 0 1 0 -5.0,0M708.5,228.1a2.5,2.5 0 1 0 5.0,0a2.5,2.5 0 1 0 -5.0,0M709.3,231.4a2.5,2.5 0 1 0 5.0,0a2.5,2.5 0 1 0 -5.0,0M709.3,235.5a2.5,2.5 0 1 0 5.0,0a2.5,2.5 0 1 0 -5.0,0M709.1,229.9a2.5,2.5 0 1 0 5.0,0a2.5,2.5 0 1 0 -5.0,0M709.4,212.6a2.5,2.5 0 1 0 5.0,0a2.5,2.5 0 1 0 -5.0,0M709.4,219.9a2.5,2.5 0 1 0 5.0,0a2.5,2.5 0 1 0 -5.0,0M711.4,220.1a2.5,2.5 0 1 0 5.0,0a2.5,2.5 0 1 0 -5.0,0M711.3,221.1a2.5,2.5 0 1 0 5.0,0a2.5,2.5 0 1 0 -5.0,0M710.6,223.8a2.5,2.5 0 1 0 5.0,0a2.5,2.5 0 1 0 -5.0,0M711.1,218.5a2.5,2.5 0 1 0 5.0,0a2.5,2.5 0 1 0 -5.0,0M713.0,225.2a2.5,2.5 0 1 0 5.0,0a2.5,2.5 0 1 0 -5.0,0M712.2,205.8a2.5,2.5 0 1 0 5.0,0a2.5,2.5 0 1 0 -5.0,0M712.4,217.9a2.5,2.5 0 1 0 5.0,0a2.5,2.5 0 1 0 -5.0,0M712.5,224.8a2.5,2.5 0 1 0 5.0,0a2.5,2.5 0 1 0 -5.0,0M713.0,210.7a2.5,2.5 0 1 0 5.0,0a2.5,2.5 0 1 0 -5.0,0M712.9,214.7a2.5,2.5 0 1 0 5.0,0a2.5,2.5 0 1 0 -5.0,0M712.6,202.4a2.5,2.5 0 1 0 5.0,0a2.5,2.5 0 1 0 -5.0,0M714.0,214.3a2.5,2.5 0 1 0 5.0,0a2.5,2.5 0 1 0 -5.0,0M714.3,229.9a2.5,2.5 0 1 0 5.0,0a2.5,2.5 0 1 0 -5.0,0M715.0,219.3a2.5,2.5 0 1 0 5.0,0a2.5,2.5 0 1 0 -5.0,0M714.8,217.0a2.5,2.5 0 1 0 5.0,0a2.5,2.5 0 1 0 -5.0,0M714.3,233.9a2.5,2.5 0 1 0 5.0,0a2.5,2.5 0 1 0 -5.0,0M716.1,217.4a2.5,2.5 0 1 0 5.0,0a2.5,2.5 0 1 0 -5.0,0M716.2,212.5a2.5,2.5 0 1 0 5.0,0a2.5,2.5 0 1 0 -5.0,0M716.2,227.4a2.5,2.5 0 1 0 5.0,0a2.5,2.5 0 1 0 -5.0,0M717.4,213.8a2.5,2.5 0 1 0 5.0,0a2.5,2.5 0 1 0 -5.0,0M717.5,226.8a2.5,2.5 0 1 0 5.0,0a2.5,2.5 0 1 0 -5.0,0M716.7,214.1a2.5,2.5 0 1 0 5.0,0a2.5,2.5 0 1 0 -5.0,0M717.4,211.2a2.5,2.5 0 1 0 5.0,0a2.5,2.5 0 1 0 -5.0,0M717.7,227.2a2.5,2.5 0 1 0 5.0,0a2.5,2.5 0 1 0 -5.0,0M717.9,219.4a2.5,2.5 0 1 0 5.0,0a2.5,2.5 0 1 0 -5.0,0M719.0,213.9a2.5,2.5 0 1 0 5.0,0a2.5,2.5 0 1 0 -5.0,0M719.2,234.3a2.5,2.5 0 1 0 5.0,0a2.5,2.5 0 1 0 -5.0,0M718.6,239.2a2.5,2.5 0 1 0 5.0,0a2.5,2.5 0 1 0 -5.0,0M719.9,220.6a2.5,2.5 0 1 0 5.0,0a2.5,2.5 0 1 0 -5.0,0M720.4,218.9a2.5,2.5 0 1 0 5.0,0a2.5,2.5 0 1 0 -5.0,0M720.0,233.4a2.5,2.5 0 1 0 5.0,0a2.5,2.5 0 1 0 -5.0,0M720.2,245.9a2.5,2.5 0 1 0 5.0,0a2.5,2.5 0 1 0 -5.0,0M720.0,242.9a2.5,2.5 0 1 0 5.0,0a2.5,2.5 0 1 0 -5.0,0M720.9,232.5a2.5,2.5 0 1 0 5.0,0a2.5,2.5 0 1 0 -5.0,0M721.5,252.0a2.5,2.5 0 1 0 5.0,0a2.5,2.5 0 1 0 -5.0,0M720.8,254.4a2.5,2.5 0 1 0 5.0,0a2.5,2.5 0 1 0 -5.0,0M721.4,256.2a2.5,2.5 0 1 0 5.0,0a2.5,2.5 0 1 0 -5.0,0M721.6,250.6a2.5,2.5 0 1 0 5.0,0a2.5,2.5 0 1 0 -5.0,0M722.2,254.5a2.5,2.5 0 1 0 5.0,0a2.5,2.5 0 1 0 -5.0,0M723.0,254.4a2.5,2.5 0 1 0 5.0,0a2.5,2.5 0 1 0 -5.0,0M723.2,258.9a2.5,2.5 0 1 0 5.0,0a2.5,2.5 0 1 0 -5.0,0M723.5,265.2a2.5,2.5 0 1 0 5.0,0a2.5,2.5 0 1 0 -5.0,0M723.4,254.9a2.5,2.5 0 1 0 5.0,0a2.5,2.5 0 1 0 -5.0,0M724.6,269.7a2.5,2.5 0 1 0 5.0,0a2.5,2.5 0 1 0 -5.0,0M724.7,268.7a2.5,2.5 0 1 0 5.0,0a2.5,2.5 0 1 0 -5.0,0M724.8,272.1a2.5,2.5 0 1 0 5.0,0a2.5,2.5 0 1 0 -5.0,0M724.7,267.9a2.5,2.5 0 1 0 5.0,0a2.5,2.5 0 1 0 -5.0,0M724.8,266.0a2.5,2.5 0 1 0 5.0,0a2.5,2.5 0 1 0 -5.0,0M725.8,265.0a2.5,2.5 0 1 0 5.0,0a2.5,2.5 0 1 0 -5.0,0M726.1,276.0a2.5,2.5 0 1 0 5.0,0a2.5,2.5 0 1 0 -5.0,0M726.5,290.7a2.5,2.5 0 1 0 5.0,0a2.5,2.5 0 1 0 -5.0,0M727.2,285.6a2.5,2.5 0 1 0 5.0,0a2.5,2.5 0 1 0 -5.0,0M727.3,285.8a2.5,2.5 0 1 0 5.0,0a2.5,2.5 0 1 0 -5.0,0M726.1,290.3a2.5,2.5 0 1 0 5.0,0a2.5,2.5 0 1 0 -5.0,0M727.5,293.8a2.5,2.5 0 1 0 5.0,0a2.5,2.5 0 1 0 -5.0,0M727.7,298.3a2.5,2.5 0 1 0 5.0,0a2.5,2.5 0 1 0 -5.0,0M728.6,282.2a2.5,2.5 0 1 0 5.0,0a2.5,2.5 0 1 0 -5.0,0M728.2,290.1a2.5,2.5 0 1 0 5.0,0a2.5,2.5 0 1 0 -5.0,0M729.0,308.3a2.5,2.5 0 1 0 5.0,0a2.5,2.5 0 1 0 -5.0,0M729.5,306.5a2.5,2.5 0 1 0 5.0,0a2.5,2.5 0 1 0 -5.0,0M728.9,307.0a2.5,2.5 0 1 0 5.0,0a2.5,2.5 0 1 0 -5.0,0M730.3,298.4a2.5,2.5 0 1 0 5.0,0a2.5,2.5 0 1 0 -5.0,0M730.3,305.3a2.5,2.5 0 1 0 5.0,0a2.5,2.5 0 1 0 -5.0,0M730.4,313.1a2.5,2.5 0 1 0 5.0,0a2.5,2.5 0 1 0 -5.0,0M729.9,304.5a2.5,2.5 0 1 0 5.0,0a2.5,2.5 0 1 0 -5.0,0M730.8,313.3a2.5,2.5 0 1 0 5.0,0a2.5,2.5 0 1 0 -5.0,0M730.9,303.8a2.5,2.5 0 1 0 5.0,0a2.5,2.5 0 1 0 -5.0,0M731.7,317.9a2.5,2.5 0 1 0 5.0,0a2.5,2.5 0 1 0 -5.0,0M732.0,314.5a2.5,2.5 0 1 0 5.0,0a2.5,2.5 0 1 0 -5.0,0M732.4,311.3a2.5,2.5 0 1 0 5.0,0a2.5,2.5 0 1 0 -5.0,0M732.8,306.3a2.5,2.5 0 1 0 5.0,0a2.5,2.5 0 1 0 -5.0,0M732.7,294.9a2.5,2.5 0 1 0 5.0,0a2.5,2.5 0 1 0 -5.0,0M733.6,307.6a2.5,2.5 0 1 0 5.0,0a2.5,2.5 0 1 0 -5.0,0M732.9,317.1a2.5,2.5 0 1 0 5.0,0a2.5,2.5 0 1 0 -5.0,0M734.3,312.6a2.5,2.5 0 1 0 5.0,0a2.5,2.5 0 1 0 -5.0,0M734.7,319.2a2.5,2.5 0 1 0 5.0,0a2.5,2.5 0 1 0 -5.0,0M734.8,296.2a2.5,2.5 0 1 0 5.0,0a2.5,2.5 0 1 0 -5.0,0M735.3,300.7a2.5,2.5 0 1 0 5.0,0a2.5,2.5 0 1 0 -5.0,0M735.5,311.3a2.5,2.5 0 1 0 5.0,0a2.5,2.5 0 1 0 -5.0,0M735.2,317.5a2.5,2.5 0 1 0 5.0,0a2.5,2.5 0 1 0 -5.0,0M735.3,303.9a2.5,2.5 0 1 0 5.0,0a2.5,2.5 0 1 0 -5.0,0M736.9,314.4a2.5,2.5 0 1 0 5.0,0a2.5,2.5 0 1 0 -5.0,0M736.0,310.3a2.5,2.5 0 1 0 5.0,0a2.5,2.5 0 1 0 -5.0,0M736.5,317.5a2.5,2.5 0 1 0 5.0,0a2.5,2.5 0 1 0 -5.0,0M737.1,305.1a2.5,2.5 0 1 0 5.0,0a2.5,2.5 0 1 0 -5.0,0M736.2,304.2a2.5,2.5 0 1 0 5.0,0a2.5,2.5 0 1 0 -5.0,0M737.0,319.7a2.5,2.5 0 1 0 5.0,0a2.5,2.5 0 1 0 -5.0,0M738.1,302.3a2.5,2.5 0 1 0 5.0,0a2.5,2.5 0 1 0 -5.0,0M738.1,309.3a2.5,2.5 0 1 0 5.0,0a2.5,2.5 0 1 0 -5.0,0M737.9,316.8a2.5,2.5 0 1 0 5.0,0a2.5,2.5 0 1 0 -5.0,0M738.5,307.0a2.5,2.5 0 1 0 5.0,0a2.5,2.5 0 1 0 -5.0,0M738.7,299.2a2.5,2.5 0 1 0 5.0,0a2.5,2.5 0 1 0 -5.0,0M740.1,306.6a2.5,2.5 0 1 0 5.0,0a2.5,2.5 0 1 0 -5.0,0M739.8,287.0a2.5,2.5 0 1 0 5.0,0a2.5,2.5 0 1 0 -5.0,0M740.2,309.9a2.5,2.5 0 1 0 5.0,0a2.5,2.5 0 1 0 -5.0,0M741.0,294.1a2.5,2.5 0 1 0 5.0,0a2.5,2.5 0 1 0 -5.0,0M740.3,305.2a2.5,2.5 0 1 0 5.0,0a2.5,2.5 0 1 0 -5.0,0M741.1,287.4a2.5,2.5 0 1 0 5.0,0a2.5,2.5 0 1 0 -5.0,0M741.2,297.0a2.5,2.5 0 1 0 5.0,0a2.5,2.5 0 1 0 -5.0,0M741.9,290.1a2.5,2.5 0 1 0 5.0,0a2.5,2.5 0 1 0 -5.0,0M742.1,294.8a2.5,2.5 0 1 0 5.0,0a2.5,2.5 0 1 0 -5.0,0M742.8,281.8a2.5,2.5 0 1 0 5.0,0a2.5,2.5 0 1 0 -5.0,0M742.7,279.0a2.5,2.5 0 1 0 5.0,0a2.5,2.5 0 1 0 -5.0,0M743.5,281.5a2.5,2.5 0 1 0 5.0,0a2.5,2.5 0 1 0 -5.0,0M742.9,272.8a2.5,2.5 0 1 0 5.0,0a2.5,2.5 0 1 0 -5.0,0M744.3,281.8a2.5,2.5 0 1 0 5.0,0a2.5,2.5 0 1 0 -5.0,0M743.8,289.5a2.5,2.5 0 1 0 5.0,0a2.5,2.5 0 1 0 -5.0,0M743.8,281.0a2.5,2.5 0 1 0 5.0,0a2.5,2.5 0 1 0 -5.0,0M744.7,282.1a2.5,2.5 0 1 0 5.0,0a2.5,2.5 0 1 0 -5.0,0M744.6,277.9a2.5,2.5 0 1 0 5.0,0a2.5,2.5 0 1 0 -5.0,0M745.1,280.9a2.5,2.5 0 1 0 5.0,0a2.5,2.5 0 1 0 -5.0,0M745.0,274.7a2.5,2.5 0 1 0 5.0,0a2.5,2.5 0 1 0 -5.0,0M745.9,269.9a2.5,2.5 0 1 0 5.0,0a2.5,2.5 0 1 0 -5.0,0M745.8,278.2a2.5,2.5 0 1 0 5.0,0a2.5,2.5 0 1 0 -5.0,0M746.4,264.0a2.5,2.5 0 1 0 5.0,0a2.5,2.5 0 1 0 -5.0,0M746.9,263.9a2.5,2.5 0 1 0 5.0,0a2.5,2.5 0 1 0 -5.0,0M746.5,271.5a2.5,2.5 0 1 0 5.0,0a2.5,2.5 0 1 0 -5.0,0M747.0,253.8a2.5,2.5 0 1 0 5.0,0a2.5,2.5 0 1 0 -5.0,0M747.7,267.1a2.5,2.5 0 1 0 5.0,0a2.5,2.5 0 1 0 -5.0,0M747.8,263.1a2.5,2.5 0 1 0 5.0,0a2.5,2.5 0 1 0 -5.0,0M747.5,259.9a2.5,2.5 0 1 0 5.0,0a2.5,2.5 0 1 0 -5.0,0M748.8,253.2a2.5,2.5 0 1 0 5.0,0a2.5,2.5 0 1 0 -5.0,0M749.6,259.0a2.5,2.5 0 1 0 5.0,0a2.5,2.5 0 1 0 -5.0,0M748.8,258.5a2.5,2.5 0 1 0 5.0,0a2.5,2.5 0 1 0 -5.0,0M750.3,248.4a2.5,2.5 0 1 0 5.0,0a2.5,2.5 0 1 0 -5.0,0M750.1,257.9a2.5,2.5 0 1 0 5.0,0a2.5,2.5 0 1 0 -5.0,0M751.2,247.1a2.5,2.5 0 1 0 5.0,0a2.5,2.5 0 1 0 -5.0,0M750.1,245.1a2.5,2.5 0 1 0 5.0,0a2.5,2.5 0 1 0 -5.0,0M750.4,251.7a2.5,2.5 0 1 0 5.0,0a2.5,2.5 0 1 0 -5.0,0M751.2,257.1a2.5,2.5 0 1 0 5.0,0a2.5,2.5 0 1 0 -5.0,0M751.7,231.5a2.5,2.5 0 1 0 5.0,0a2.5,2.5 0 1 0 -5.0,0M751.3,242.5a2.5,2.5 0 1 0 5.0,0a2.5,2.5 0 1 0 -5.0,0M751.1,235.0a2.5,2.5 0 1 0 5.0,0a2.5,2.5 0 1 0 -5.0,0M752.4,246.0a2.5,2.5 0 1 0 5.0,0a2.5,2.5 0 1 0 -5.0,0M753.0,232.7a2.5,2.5 0 1 0 5.0,0a2.5,2.5 0 1 0 -5.0,0M752.7,233.1a2.5,2.5 0 1 0 5.0,0a2.5,2.5 0 1 0 -5.0,0M753.5,241.5a2.5,2.5 0 1 0 5.0,0a2.5,2.5 0 1 0 -5.0,0M753.5,236.0a2.5,2.5 0 1 0 5.0,0a2.5,2.5 0 1 0 -5.0,0M753.1,226.8a2.5,2.5 0 1 0 5.0,0a2.5,2.5 0 1 0 -5.0,0M753.9,225.2a2.5,2.5 0 1 0 5.0,0a2.5,2.5 0 1 0 -5.0,0M754.9,236.5a2.5,2.5 0 1 0 5.0,0a2.5,2.5 0 1 0 -5.0,0M755.1,218.4a2.5,2.5 0 1 0 5.0,0a2.5,2.5 0 1 0 -5.0,0M755.6,235.6a2.5,2.5 0 1 0 5.0,0a2.5,2.5 0 1 0 -5.0,0M755.9,219.8a2.5,2.5 0 1 0 5.0,0a2.5,2.5 0 1 0 -5.0,0M755.6,221.8a2.5,2.5 0 1 0 5.0,0a2.5,2.5 0 1 0 -5.0,0M756.0,219.8a2.5,2.5 0 1 0 5.0,0a2.5,2.5 0 1 0 -5.0,0M756.7,222.9a2.5,2.5 0 1 0 5.0,0a2.5,2.5 0 1 0 -5.0,0M757.7,230.5a2.5,2.5 0 1 0 5.0,0a2.5,2.5 0 1 0 -5.0,0M758.0,228.8a2.5,2.5 0 1 0 5.0,0a2.5,2.5 0 1 0 -5.0,0M757.2,229.3a2.5,2.5 0 1 0 5.0,0a2.5,2.5 0 1 0 -5.0,0M757.7,241.2a2.5,2.5 0 1 0 5.0,0a2.5,2.5 0 1 0 -5.0,0M758.1,228.9a2.5,2.5 0 1 0 5.0,0a2.5,2.5 0 1 0 -5.0,0M758.6,229.1a2.5,2.5 0 1 0 5.0,0a2.5,2.5 0 1 0 -5.0,0M758.4,221.2a2.5,2.5 0 1 0 5.0,0a2.5,2.5 0 1 0 -5.0,0M759.8,224.3a2.5,2.5 0 1 0 5.0,0a2.5,2.5 0 1 0 -5.0,0M760.2,233.5a2.5,2.5 0 1 0 5.0,0a2.5,2.5 0 1 0 -5.0,0M759.9,224.8a2.5,2.5 0 1 0 5.0,0a2.5,2.5 0 1 0 -5.0,0M760.4,231.2a2.5,2.5 0 1 0 5.0,0a2.5,2.5 0 1 0 -5.0,0M761.3,217.3a2.5,2.5 0 1 0 5.0,0a2.5,2.5 0 1 0 -5.0,0M760.2,233.5a2.5,2.5 0 1 0 5.0,0a2.5,2.5 0 1 0 -5.0,0M760.7,231.9a2.5,2.5 0 1 0 5.0,0a2.5,2.5 0 1 0 -5.0,0M761.0,241.9a2.5,2.5 0 1 0 5.0,0a2.5,2.5 0 1 0 -5.0,0M762.3,227.8a2.5,2.5 0 1 0 5.0,0a2.5,2.5 0 1 0 -5.0,0M762.2,230.3a2.5,2.5 0 1 0 5.0,0a2.5,2.5 0 1 0 -5.0,0M762.5,235.1a2.5,2.5 0 1 0 5.0,0a2.5,2.5 0 1 0 -5.0,0M761.9,233.9a2.5,2.5 0 1 0 5.0,0a2.5,2.5 0 1 0 -5.0,0M763.7,242.5a2.5,2.5 0 1 0 5.0,0a2.5,2.5 0 1 0 -5.0,0M763.3,219.7a2.5,2.5 0 1 0 5.0,0a2.5,2.5 0 1 0 -5.0,0M764.5,241.0a2.5,2.5 0 1 0 5.0,0a2.5,2.5 0 1 0 -5.0,0M763.8,235.3a2.5,2.5 0 1 0 5.0,0a2.5,2.5 0 1 0 -5.0,0M764.3,231.8a2.5,2.5 0 1 0 5.0,0a2.5,2.5 0 1 0 -5.0,0M764.4,232.8a2.5,2.5 0 1 0 5.0,0a2.5,2.5 0 1 0 -5.0,0M765.7,241.4a2.5,2.5 0 1 0 5.0,0a2.5,2.5 0 1 0 -5.0,0M765.6,227.7a2.5,2.5 0 1 0 5.0,0a2.5,2.5 0 1 0 -5.0,0M765.6,249.8a2.5,2.5 0 1 0 5.0,0a2.5,2.5 0 1 0 -5.0,0M765.9,243.3a2.5,2.5 0 1 0 5.0,0a2.5,2.5 0 1 0 -5.0,0M765.1,246.4a2.5,2.5 0 1 0 5.0,0a2.5,2.5 0 1 0 -5.0,0M766.5,251.1a2.5,2.5 0 1 0 5.0,0a2.5,2.5 0 1 0 -5.0,0M766.5,255.6a2.5,2.5 0 1 0 5.0,0a2.5,2.5 0 1 0 -5.0,0M765.6,247.3a2.5,2.5 0 1 0 5.0,0a2.5,2.5 0 1 0 -5.0,0M767.9,264.4a2.5,2.5 0 1 0 5.0,0a2.5,2.5 0 1 0 -5.0,0M767.7,256.8a2.5,2.5 0 1 0 5.0,0a2.5,2.5 0 1 0 -5.0,0M768.0,267.9a2.5,2.5 0 1 0 5.0,0a2.5,2.5 0 1 0 -5.0,0M767.9,269.9a2.5,2.5 0 1 0 5.0,0a2.5,2.5 0 1 0 -5.0,0M769.0,261.5a2.5,2.5 0 1 0 5.0,0a2.5,2.5 0 1 0 -5.0,0M768.7,267.7a2.5,2.5 0 1 0 5.0,0a2.5,2.5 0 1 0 -5.0,0M768.7,251.1a2.5,2.5 0 1 0 5.0,0a2.5,2.5 0 1 0 -5.0,0M769.0,274.6a2.5,2.5 0 1 0 5.0,0a2.5,2.5 0 1 0 -5.0,0M769.8,271.5a2.5,2.5 0 1 0 5.0,0a2.5,2.5 0 1 0 -5.0,0M770.4,262.6a2.5,2.5 0 1 0 5.0,0a2.5,2.5 0 1 0 -5.0,0M771.5,275.4a2.5,2.5 0 1 0 5.0,0a2.5,2.5 0 1 0 -5.0,0M770.3,277.7a2.5,2.5 0 1 0 5.0,0a2.5,2.5 0 1 0 -5.0,0M770.7,280.6a2.5,2.5 0 1 0 5.0,0a2.5,2.5 0 1 0 -5.0,0M771.9,288.4a2.5,2.5 0 1 0 5.0,0a2.5,2.5 0 1 0 -5.0,0M771.6,289.0a2.5,2.5 0 1 0 5.0,0a2.5,2.5 0 1 0 -5.0,0M771.6,278.4a2.5,2.5 0 1 0 5.0,0a2.5,2.5 0 1 0 -5.0,0M772.3,286.4a2.5,2.5 0 1 0 5.0,0a2.5,2.5 0 1 0 -5.0,0M772.4,276.8a2.5,2.5 0 1 0 5.0,0a2.5,2.5 0 1 0 -5.0,0M773.5,273.7a2.5,2.5 0 1 0 5.0,0a2.5,2.5 0 1 0 -5.0,0M773.1,290.3a2.5,2.5 0 1 0 5.0,0a2.5,2.5 0 1 0 -5.0,0M773.8,285.9a2.5,2.5 0 1 0 5.0,0a2.5,2.5 0 1 0 -5.0,0M773.5,287.2a2.5,2.5 0 1 0 5.0,0a2.5,2.5 0 1 0 -5.0,0M774.5,297.3a2.5,2.5 0 1 0 5.0,0a2.5,2.5 0 1 0 -5.0,0M773.7,286.7a2.5,2.5 0 1 0 5.0,0a2.5,2.5 0 1 0 -5.0,0M775.2,296.5a2.5,2.5 0 1 0 5.0,0a2.5,2.5 0 1 0 -5.0,0M775.6,290.4a2.5,2.5 0 1 0 5.0,0a2.5,2.5 0 1 0 -5.0,0M775.6,283.5a2.5,2.5 0 1 0 5.0,0a2.5,2.5 0 1 0 -5.0,0M775.6,293.5a2.5,2.5 0 1 0 5.0,0a2.5,2.5 0 1 0 -5.0,0M775.7,298.4a2.5,2.5 0 1 0 5.0,0a2.5,2.5 0 1 0 -5.0,0M776.8,305.2a2.5,2.5 0 1 0 5.0,0a2.5,2.5 0 1 0 -5.0,0M777.4,295.5a2.5,2.5 0 1 0 5.0,0a2.5,2.5 0 1 0 -5.0,0M777.0,304.9a2.5,2.5 0 1 0 5.0,0a2.5,2.5 0 1 0 -5.0,0M777.2,298.3a2.5,2.5 0 1 0 5.0,0a2.5,2.5 0 1 0 -5.0,0M777.3,308.1a2.5,2.5 0 1 0 5.0,0a2.5,2.5 0 1 0 -5.0,0M778.0,300.2a2.5,2.5 0 1 0 5.0,0a2.5,2.5 0 1 0 -5.0,0M777.7,309.9a2.5,2.5 0 1 0 5.0,0a2.5,2.5 0 1 0 -5.0,0M778.8,310.0a2.5,2.5 0 1 0 5.0,0a2.5,2.5 0 1 0 -5.0,0M778.8,305.3a2.5,2.5 0 1 0 5.0,0a2.5,2.5 0 1 0 -5.0,0M778.8,299.3a2.5,2.5 0 1 0 5.0,0a2.5,2.5 0 1 0 -5.0,0M779.3,295.5a2.5,2.5 0 1 0 5.0,0a2.5,2.5 0 1 0 -5.0,0M779.8,302.4a2.5,2.5 0 1 0 5.0,0a2.5,2.5 0 1 0 -5.0,0M779.5,293.8a2.5,2.5 0 1 0 5.0,0a2.5,2.5 0 1 0 -5.0,0M780.3,303.6a2.5,2.5 0 1 0 5.0,0a2.5,2.5 0 1 0 -5.0,0M781.8,301.7a2.5,2.5 0 1 0 5.0,0a2.5,2.5 0 1 0 -5.0,0M781.1,297.6a2.5,2.5 0 1 0 5.0,0a2.5,2.5 0 1 0 -5.0,0M781.5,309.7a2.5,2.5 0 1 0 5.0,0a2.5,2.5 0 1 0 -5.0,0M781.8,288.7a2.5,2.5 0 1 0 5.0,0a2.5,2.5 0 1 0 -5.0,0M782.1,286.2a2.5,2.5 0 1 0 5.0,0a2.5,2.5 0 1 0 -5.0,0M782.1,291.5a2.5,2.5 0 1 0 5.0,0a2.5,2.5 0 1 0 -5.0,0M783.1,306.1a2.5,2.5 0 1 0 5.0,0a2.5,2.5 0 1 0 -5.0,0M782.6,313.1a2.5,2.5 0 1 0 5.0,0a2.5,2.5 0 1 0 -5.0,0M782.6,288.9a2.5,2.5 0 1 0 5.0,0a2.5,2.5 0 1 0 -5.0,0M784.1,294.2a2.5,2.5 0 1 0 5.0,0a2.5,2.5 0 1 0 -5.0,0M784.3,297.0a2.5,2.5 0 1 0 5.0,0a2.5,2.5 0 1 0 -5.0,0M784.1,287.5a2.5,2.5 0 1 0 5.0,0a2.5,2.5 0 1 0 -5.0,0M785.1,300.0a2.5,2.5 0 1 0 5.0,0a2.5,2.5 0 1 0 -5.0,0M785.1,307.8a2.5,2.5 0 1 0 5.0,0a2.5,2.5 0 1 0 -5.0,0M785.2,307.3a2.5,2.5 0 1 0 5.0,0a2.5,2.5 0 1 0 -5.0,0M785.5,303.8a2.5,2.5 0 1 0 5.0,0a2.5,2.5 0 1 0 -5.0,0M785.8,300.1a2.5,2.5 0 1 0 5.0,0a2.5,2.5 0 1 0 -5.0,0M787.4,285.8a2.5,2.5 0 1 0 5.0,0a2.5,2.5 0 1 0 -5.0,0" fill="none" stroke="#2aec2a" stroke-width="1.5"/>
<path d="M485.5,463.3h4.5v4.5h-4.5zM485.3,464.8h4.5v4.5h-4.5zM486.5,472.4h4.5v4.5h-4.5zM485.6,465.6h4.5v4.5h-4.5zM487.3,472.8h4.5v4.5h-4.5zM487.3,467.6h4.5v4.5h-4.5zM487.2,466.2h4.5v4.5h-4.5zM487.2,464.3h4.5v4.5h-4.5zM487.8,466.9h4.5v4.5h-4.5zM487.5,470.5h4.5v4.5h-4.5zM488.2,456.0h4.5v4.5h-4.5zM489.5,458.7h4.5v4.5h-4.5zM488.9,466.8h4.5v4.5h-4.5zM488.9,466.3h4.5v4.5h-4.5zM490.2,465.4h4.5v4.5h-4.5zM489.9,459.9h4.5v4.5h-4.5zM491.2,458.9h4.5v4.5h-4.5zM490.9,454.2h4.5v4.5h-4.5zM490.8,450.4h4.5v4.5h-4.5zM491.7,457.7h4.5v4.5h-4.5zM491.4,451.1h4.5v4.5h-4.5zM491.6,453.1h4.5v4.5h-4.5zM492.9,458.0h4.5v4.5h-4.5zM492.5,451.3h4.5v4.5h-4.5zM493.3,446.0h4.5v4.5h-4.5zM494.1,451.5h4.5v4.5h-4.5zM494.1,443.7h4.5v4.5h-4.5zM494.3,445.9h4.5v4.5h-4.5zM493.9,447.3h4.5v4.5h-4.5zM495.2,450.7h4.5v4.5h-4.5zM496.0,446.6h4.5v4.5h-4.5zM495.4,448.9h4.5v4.5h-4.5zM495.1,439.6h4.5v4.5h-4.5zM495.9,442.8h4.5v4.5h-4.5zM496.5,450.6h4.5v4.5h-4.5zM496.4,438.1h4.5v4.5h-4.5zM496.7,439.7h4.5v4.5h-4.5zM496.6,445.0h4.5v4.5h-4.5zM498.1,441.9h4.5v4.5h-4.5zM498.0,451.5h4.5v4.5h-4.5zM498.2,446.0h4.5v4.5h-4.5zM498.8,449.4h4.5v4.5h-4.5zM498.9,439.5h4.5v4.5h-4.5zM499.6,451.1h4.5v4.5h-4.5zM500.0,445.6h4.5v4.5h-4.5zM500.6,446.8h4.5v4.5h-4.5zM499.5,448.8h4.5v4.5h-4.5zM500.8,459.2h4.5v4.5h-4.5zM501.2,441.8h4.5v4.5h-4.5zM501.6,446.6h4.5v4.5h-4.5zM501.5,450.7h4.5v4.5h-4.5zM502.0,448.4h4.5v4.5h-4.5zM502.4,456.6h4.5v4.5h-4.5zM502.4,454.1h4.5v4.5h-4.5zM502.7,454.2h4.5v4.5h-4.5zM503.9,465.7h4.5v4.5h-4.5zM503.7,457.0h4.5v4.5h-4.5zM503.9,459.7h4.5v4.5h-4.5zM505.2,458.4h4.5v4.5h-4.5zM505.4,457.1h4.5v4.5h-4.5zM505.1,473.6h4.5v4.5h-4.5zM505.7,470.2h4.5v4.5h-4.5zM505.4,475.6h4.5v4.5h-4.5zM506.2,472.7h4.5v4.5h-4.5zM505.9,472.0h4.5v4.5h-4.5zM507.4,470.1h4.5v4.5h-4.5zM507.2,481.7h4.5v4.5h-4.5zM507.6,479.3h4.5v4.5h-4.5zM507.5,485.5h4.5v4.5h-4.5zM507.3,469.0h4.5v4.5h-4.5zM509.3,486.9h4.5v4.5h-4.5zM509.0,485.4h4.5v4.5h-4.5zM508.8,478.2h4.5v4.5h-4.5zM509.8,495.8h4.5v4.5h-4.5zM509.3,481.3h4.5v4.5h-4.5zM510.1,492.6h4.5v4.5h-4.5zM510.8,489.6h4.5v4.5h-4.5zM510.4,500.7h4.5v4.5h-4.5zM511.6,498.7h4.5v4.5h-4.5zM511.2,497.0h4.5v4.5h-4.5zM511.2,500.3h4.5v4.5h-4.5zM512.3,506.8h4.5v4.5h-4.5zM512.7,504.0h4.5v4.5h-4.5zM512.7,508.3h4.5v4.5h-4.5zM513.3,501.8h4.5v4.5h-4.5zM513.5,508.3h4.5v4.5h-4.5zM514.2,509.9h4.5v4.5h-4.5zM513.7,519.5h4.5v4.5h-4.5zM514.3,517.8h4.5v4.5h-4.5zM514.1,521.1h4.5v4.5h-4.5zM514.8,516.1h4.5v4.5h-4.5zM514.9,529.5h4.5v4.5h-4.5zM515.6,521.7h4.5v4.5h-4.5zM516.8,524.6h4.5v4.5h-4.5zM516.4,529.9h4.5v4.5h-4.5zM516.5,520.4h4.5v4.5h-4.5zM516.4,528.9h4.5v4.5h-4.5zM517.3,533.8h4.5v4.5h-4.5zM518.9,525.0h4.5v4.5h-4.5zM518.7,539.2h4.5v4.5h-4.5zM518.3,527.1h4.5v4.5h-4.5zM519.1,532.6h4.5v4.5h-4.5zM519.0,532.0h4.5v4.5h-4.5zM519.7,532.5h4.5v4.5h-4.5zM520.4,536.3h4.5v4.5h-4.5zM520.1,534.9h4.5v4.5h-4.5zM521.0,538.7h4.5v4.5h-4.5zM520.8,533.0h4.5v4.5h-4.5zM520.6,530.0h4.5v4.5h-4.5zM522.1,538.9h4.5v4.5h-4.5zM522.4,542.6h4.5v4.5h-4.5zM522.4,529.7h4.5v4.5h-4.5zM521.8,540.7h4.5v4.5h-4.5zM523.2,539.3h4.5v4.5h-4.5zM522.7,541.6h4.5v4.5h-4.5zM523.5,527.5h4.5v4.5h-4.5zM524.0,528.5h4.5v4.5h-4.5zM524.9,536.1h4.5v4.5h-4.5zM523.6,543.8h4.5v4.5h-4.5zM525.3,536.6h4.5v4.5h-4.5zM525.2,531.9h4.5v4.5h-4.5zM525.4,524.5h4.5v4.5h-4.5zM525.7,538.0h4.5v4.5h-4.5zM527.0,540.4h4.5v4.5h-4.5zM527.0,530.8h4.5v4.5h-4.5zM527.3,538.4h4.5v4.5h-4.5zM527.3,532.4h4.5v4.5h-4.5zM527.8,532.6h4.5v4.5h-4.5zM527.7,528.6h4.5v4.5h-4.5zM528.3,517.2h4.5v4.5h-4.5zM528.6,521.8h4.5v4.5h-4.5zM529.3,513.6h4.5v4.5h-4.5zM529.3,526.2h4.5v4.5h-4.5zM529.4,507.2h4.5v4.5h-4.5zM529.2,515.0h4.5v4.5h-4.5zM529.7,518.9h4.5v4.5h-4.5zM530.4,518.2h4.5v4.5h-4.5zM530.4,504.9h4.5v4.5h-4.5zM531.0,509.4h4.5v4.5h-4.5zM531.6,505.0h4.5v4.5h-4.5zM531.6,505.3h4.5v4.5h-4.5zM532.1,503.4h4.5v4.5h-4.5zM533.4,496.1h4.5v4.5h-4.5zM533.4,496.1h4.5v4.5h-4.5zM533.8,498.1h4.5v4.5h-4.5zM534.0,491.9h4.5v4.5h-4.5zM533.6,486.7h4.5v4.5h-4.5zM534.7,481.1h4.5v4.5h-4.5zM535.7,489.2h4.5v4.5h-4.5zM534.9,473.1h4.5v4.5h-4.5zM535.3,473.7h4.5v4.5h-4.5zM536.6,478.7h4.5v4.5h-4.5zM536.7,482.9h4.5v4.5h-4.5zM536.3,471.7h4.5v4.5h-4.5zM537.5,474.1h4.5v4.5h-4.5zM537.5,478.4h4.5v4.5h-4.5zM537.1,475.1h4.5v4.5h-4.5zM537.5,470.5h4.5v4.5h-4.5zM538.6,465.5h4.5v4.5h-4.5zM538.8,474.1h4.5v4.5h-4.5zM538.2,466.2h4.5v4.5h-4.5zM538.4,473.6h4.5v4.5h-4.5zM539.8,468.4h4.5v4.5h-4.5zM539.6,463.5h4.5v4.5h-4.5zM539.8,463.2h4.5v4.5h-4.5zM539.6,458.6h4.5v4.5h-4.5zM540.2,461.2h4.5v4.5h-4.5zM540.8,464.1h4.5v4.5h-4.5zM542.2,450.0h4.5v4.5h-4.5zM541.5,447.0h4.5v4.5h-4.5zM542.2,458.2h4.5v4.5h-4.5zM542.1,454.0h4.5v4.5h-4.5zM543.6,454.3h4.5v4.5h-4.5zM542.7,450.9h4.5v4.5h-4.5zM543.5,460.8h4.5v4.5h-4.5zM543.2,460.2h4.5v4.5h-4.5zM544.3,459.5h4.5v4.5h-4.5zM543.5,452.3h4.5v4.5h-4.5zM544.9,455.9h4.5v4.5h-4.5zM545.3,457.8h4.5v4.5h-4.5zM545.3,463.5h4.5v4.5h-4.5zM545.9,465.3h4.5v4.5h-4.5zM546.2,457.1h4.5v4.5h-4.5zM547.3,463.3h4.5v4.5h-4.5zM546.6,455.9h4.5v4.5h-4.5zM547.4,463.8h4.5v4.5h-4.5zM547.0,474.0h4.5v4.5h-4.5zM547.9,474.9h4.5v4.5h-4.5zM548.1,459.2h4.5v4.5h-4.5zM548.4,457.1h4.5v4.5h-4.5zM548.7,471.4h4.5v4.5h-4.5zM549.2,475.4h4.5v4.5h-4.5zM548.9,466.6h4.5v4.5h-4.5zM549.5,474.6h4.5v4.5h-4.5zM550.6,475.1h4.5v4.5h-4.5zM550.3,462.5h4.5v4.5h-4.5zM551.4,468.1h4.5v4.5h-4.5zM551.8,486.2h4.5v4.5h-4.5zM551.7,474.5h4.5v4.5h-4.5zM551.1,478.3h4.5v4.5h-4.5zM552.5,475.5h4.5v4.5h-4.5zM552.9,485.4h4.5v4.5h-4.5zM553.1,484.8h4.5v4.5h-4.5zM553.8,484.0h4.5v4.5h-4.5zM553.0,482.3h4.5v4.5h-4.5zM553.3,480.4h4.5v4.5h-4.5zM553.7,484.7h4.5v4.5h-4.5zM554.3,483.4h4.5v4.5h-4.5zM555.1,494.5h4.5v4.5h-4.5zM555.4,491.4h4.5v4.5h-4.5zM555.0,488.0h4.5v4.5h-4.5zM555.2,489.3h4.5v4.5h-4.5zM555.6,494.8h4.5v4.5h-4.5zM556.7,496.7h4.5v4.5h-4.5zM557.3,504.6h4.5v4.5h-4.5zM557.6,498.7h4.5v4.5h-4.5zM557.1,508.8h4.5v4.5h-4.5zM556.9,512.7h4.5v4.5h-4.5zM557.7,513.9h4.5v4.5h-4.5zM558.5,500.6h4.5v4.5h-4.5zM558.0,498.9h4.5v4.5h-4.5zM559.4,510.1h4.5v4.5h-4.5zM559.8,518.3h4.5v4.5h-4.5zM559.8,522.1h4.5v4.5h-4.5zM560.7,516.1h4.5v4.5h-4.5zM560.6,517.8h4.5v4.5h-4.5zM560.0,508.8h4.5v4.5h-4.5zM561.7,514.4h4.5v4.5h-4.5zM561.5,518.5h4.5v4.5h-4.5zM562.3,520.6h4.5v4.5h-4.5zM561.8,522.8h4.5v4.5h-4.5zM562.0,524.6h4.5v4.5h-4.5zM563.2,521.4h4.5v4.5h-4.5zM563.2,525.8h4.5v4.5h-4.5zM563.7,534.8h4.5v4.5h-4.5zM563.9,525.6h4.5v4.5h-4.5zM563.8,519.6h4.5v4.5h-4.5zM563.3,520.0h4.5v4.5h-4.5zM564.8,524.6h4.5v4.5h-4.5zM565.2,527.5h4.5v4.5h-4.5zM565.4,529.6h4.5v4.5h-4.5zM565.7,525.6h4.5v4.5h-4.5zM565.7,527.9h4.5v4.5h-4.5zM566.6,533.1h4.5v4.5h-4.5zM567.1,522.6h4.5v4.5h-4.5zM566.6,532.4h4.5v4.5h-4.5zM568.5,524.2h4.5v4.5h-4.5zM566.8,521.4h4.5v4.5h-4.5zM568.7,533.6h4.5v4.5h-4.5zM568.0,527.6h4.5v4.5h-4.5zM569.4,516.2h4.5v4.5h-4.5zM568.3,526.9h4.5v4.5h-4.5zM569.3,521.5h4.5v4.5h-4.5zM570.2,517.9h4.5v4.5h-4.5zM569.9,519.4h4.5v4.5h-4.5zM571.1,512.2h4.5v4.5h-4.5zM571.4,518.3h4.5v4.5h-4.5zM570.9,507.1h4.5v4.5h-4.5zM571.0,526.8h4.5v4.5h-4.5zM572.1,512.8h4.5v4.5h-4.5zM571.8,505.4h4.5v4.5h-4.5zM572.2,511.9h4.5v4.5h-4.5zM572.6,512.1h4.5v4.5h-4.5zM572.1,521.8h4.5v4.5h-4.5zM573.7,512.5h4.5v4.5h-4.5zM573.8,504.1h4.5v4.5h-4.5zM573.7,516.7h4.5v4.5h-4.5zM573.9,509.7h4.5v4.5h-4.5zM575.0,505.9h4.5v4.5h-4.5zM576.0,502.5h4.5v4.5h-4.5zM575.3,499.9h4.5v4.5h-4.5zM576.5,491.0h4.5v4.5h-4.5zM576.6,494.0h4.5v4.5h-4.5zM576.5,496.5h4.5v4.5h-4.5zM576.4,496.7h4.5v4.5h-4.5zM578.0,498.8h4.5v4.5h-4.5zM577.8,491.3h4.5v4.5h-4.5zM576.8,500.7h4.5v4.5h-4.5zM577.1,492.3h4.5v4.5h-4.5zM578.7,492.8h4.5v4.5h-4.5zM578.4,480.3h4.5v4.5h-4.5zM579.7,476.4h4.5v4.5h-4.5zM579.5,490.9h4.5v4.5h-4.5zM580.2,487.3h4.5v4.5h-4.5zM580.1,482.5h4.5v4.5h-4.5zM580.0,484.7h4.5v4.5h-4.5zM580.7,472.2h4.5v4.5h-4.5zM581.3,470.4h4.5v4.5h-4.5zM581.9,469.0h4.5v4.5h-4.5zM583.1,467.9h4.5v4.5h-4.5zM583.3,475.6h4.5v4.5h-4.5zM582.6,465.0h4.5v4.5h-4.5zM583.1,476.1h4.5v4.5h-4.5zM582.5,466.0h4.5v4.5h-4.5zM584.1,461.4h4.5v4.5h-4.5zM583.9,460.3h4.5v4.5h-4.5zM584.0,457.1h4.5v4.5h-4.5zM585.3,461.2h4.5v4.5h-4.5zM584.6,457.2h4.5v4.5h-4.5zM585.2,465.7h4.5v4.5h-4.5zM586.3,460.7h4.5v4.5h-4.5zM586.7,453.9h4.5v4.5h-4.5zM586.1,463.8h4.5v4.5h-4.5zM586.0,465.8h4.5v4.5h-4.5zM587.0,454.7h4.5v4.5h-4.5zM586.9,465.5h4.5v4.5h-4.5zM587.7,461.3h4.5v4.5h-4.5zM587.5,452.8h4.5v4.5h-4.5zM588.7,463.1h4.5v4.5h-4.5zM589.0,451.0h4.5v4.5h-4.5zM589.7,462.8h4.5v4.5h-4.5zM589.7,464.6h4.5v4.5h-4.5zM590.0,455.1h4.5v4.5h-4.5zM590.2,455.3h4.5v4.5h-4.5zM589.9,451.5h4.5v4.5h-4.5zM591.0,467.6h4.5v4.5h-4.5zM591.1,460.6h4.5v4.5h-4.5zM592.2,455.8h4.5v4.5h-4.5zM590.9,455.0h4.5v4.5h-4.5zM591.9,466.2h4.5v4.5h-4.5zM592.3,462.1h4.5v4.5h-4.5zM593.1,457.8h4.5v4.5h-4.5zM592.8,466.5h4.5v4.5h-4.5zM593.7,456.9h4.5v4.5h-4.5zM593.2,461.9h4.5v4.5h-4.5zM594.1,457.1h4.5v4.5h-4.5zM593.8,457.5h4.5v4.5h-4.5zM594.9,460.8h4.5v4.5h-4.5zM595.0,471.5h4.5v4.5h-4.5zM595.6,469.1h4.5v4.5h-4.5zM596.0,466.2h4.5v4.5h-4.5zM596.5,460.6h4.5v4.5h-4.5zM595.7,473.0h4.5v4.5h-4.5zM597.4,467.3h4.5v4.5h-4.5zM597.6,477.1h4.5v4.5h-4.5zM597.9,473.3h4.5v4.5h-4.5zM597.5,470.5h4.5v4.5h-4.5zM597.7,479.4h4.5v4.5h-4.5zM597.9,484.1h4.5v4.5h-4.5zM598.9,475.1h4.5v4.5h-4.5zM599.6,476.7h4.5v4.5h-4.5zM599.2,476.0h4.5v4.5h-4.5zM600.4,492.8h4.5v4.5h-4.5zM599.7,481.9h4.5v4.5h-4.5zM600.5,490.8h4.5v4.5h-4.5zM600.7,485.4h4.5v4.5h-4.5zM600.4,487.4h4.5v4.5h-4.5zM602.1,498.2h4.5v4.5h-4.5zM601.3,491.4h4.5v4.5h-4.5zM602.2,501.3h4.5v4.5h-4.5zM602.4,493.2h4.5v4.5h-4.5zM602.5,489.1h4.5v4.5h-4.5zM602.7,504.6h4.5v4.5h-4.5zM603.8,500.5h4.5v4.5h-4.5zM604.4,495.9h4.5v4.5h-4.5zM603.9,505.6h4.5v4.5h-4.5zM605.0,511.6h4.5v4.5h-4.5zM605.0,504.7h4.5v4.5h-4.5zM605.6,507.4h4.5v4.5h-4.5zM605.4,509.7h4.5v4.5h-4.5zM606.3,509.5h4.5v4.5h-4.5zM607.1,508.0h4.5v4.5h-4.5zM606.1,509.3h4.5v4.5h-4.5zM607.0,513.1h4.5v4.5h-4.5zM605.8,511.2h4.5v4.5h-4.5zM607.9,510.7h4.5v4.5h-4.5zM608.1,516.5h4.5v4.5h-4.5zM608.2,514.5h4.5v4.5h-4.5zM608.7,508.3h4.5v4.5h-4.5zM608.6,508.5h4.5v4.5h-4.5zM608.5,513.7h4.5v4.5h-4.5zM609.3,522.0h4.5v4.5h-4.5zM609.4,521.0h4.5v4.5h-4.5zM609.5,514.5h4.5v4.5h-4.5zM610.7,505.2h4.5v4.5h-4.5zM610.4,520.6h4.5v4.5h-4.5zM610.9,511.7h4.5v4.5h-4.5zM611.2,521.0h4.5v4.5h-4.5zM612.6,511.9h4.5v4.5h-4.5zM612.3,509.7h4.5v4.5h-4.5zM612.2,514.2h4.5v4.5h-4.5zM612.9,515.4h4.5v4.5h-4.5zM613.4,515.0h4.5v4.5h-4.5zM613.0,506.3h4.5v4.5h-4.5zM614.1,510.9h4.5v4.5h-4.5zM613.5,506.0h4.5v4.5h-4.5zM614.2,508.8h4.5v4.5h-4.5zM614.7,496.9h4.5v4.5h-4.5zM614.5,503.5h4.5v4.5h-4.5zM615.4,512.0h4.5v4.5h-4.5zM616.0,506.5h4.5v4.5h-4.5zM617.1,513.9h4.5v4.5h-4.5zM617.1,503.1h4.5v4.5h-4.5zM616.2,498.2h4.5v4.5h-4.5zM617.3,503.3h4.5v4.5h-4.5zM618.3,502.3h4.5v4.5h-4.5zM617.4,495.1h4.5v4.5h-4.5zM618.9,496.4h4.5v4.5h-4.5zM619.0,491.3h4.5v4.5h-4.5zM618.8,484.6h4.5v4.5h-4.5zM619.3,504.9h4.5v4.5h-4.5zM619.4,492.3h4.5v4.5h-4.5zM619.9,493.3h4.5v4.5h-4.5zM619.8,495.1h4.5v4.5h-4.5zM619.8,485.1h4.5v4.5h-4.5zM620.6,488.5h4.5v4.5h-4.5zM621.3,496.4h4.5v4.5h-4.5zM621.2,486.4h4.5v4.5h-4.5zM621.8,497.1h4.5v4.5h-4.5zM622.9,479.7h4.5v4.5h-4.5zM621.8,480.7h4.5v4.5h-4.5zM623.2,479.1h4.5v4.5h-4.5zM622.6,484.9h4.5v4.5h-4.5zM623.4,475.9h4.5v4.5h-4.5zM623.7,482.9h4.5v4.5h-4.5zM624.7,484.2h4.5v4.5h-4.5zM624.5,478.1h4.5v4.5h-4.5zM624.3,480.3h4.5v4.5h-4.5zM625.8,470.7h4.5v4.5h-4.5zM626.1,478.9h4.5v4.5h-4.5zM625.9,479.3h4.5v4.5h-4.5zM626.8,474.6h4.5v4.5h-4.5zM627.0,463.8h4.5v4.5h-4.5zM626.8,465.9h4.5v4.5h-4.5zM626.9,466.0h4.5v4.5h-4.5zM627.4,459.4h4.5v4.5h-4.5zM628.4,458.4h4.5v4.5h-4.5zM628.3,469.2h4.5v4.5h-4.5zM627.6,470.7h4.5v4.5h-4.5zM629.4,475.3h4.5v4.5h-4.5zM629.2,459.5h4.5v4.5h-4.5zM629.7,457.4h4.5v4.5h-4.5zM630.0,467.3h4.5v4.5h-4.5zM630.5,465.4h4.5v4.5h-4.5zM630.8,469.7h4.5v4.5h-4.5zM631.3,461.9h4.5v4.5h-4.5zM631.1,463.4h4.5v4.5h-4.5zM632.2,458.4h4.5v4.5h-4.5zM631.3,459.2h4.5v4.5h-4.5zM633.2,457.8h4.5v4.5h-4.5zM632.2,461.5h4.5v4.5h-4.5zM633.0,468.4h4.5v4.5h-4.5zM633.1,455.8h4.5v4.5h-4.5zM633.5,454.8h4.5v4.5h-4.5zM634.7,456.1h4.5v4.5h-4.5zM634.5,466.9h4.5v4.5h-4.5zM634.9,462.8h4.5v4.5h-4.5zM634.6,463.7h4.5v4.5h-4.5zM635.5,461.7h4.5v4.5h-4.5zM636.3,465.5h4.5v4.5h-4.5zM636.3,454.7h4.5v4.5h-4.5zM637.0,474.6h4.5v4.5h-4.5zM636.8,469.4h4.5v4.5h-4.5zM637.2,466.4h4.5v4.5h-4.5zM637.4,472.6h4.5v4.5h-4.5zM637.4,466.5h4.5v4.5h-4.5zM638.2,462.9h4.5v4.5h-4.5zM638.6,465.7h4.5v4.5h-4.5zM639.1,470.9h4.5v4.5h-4.5zM638.8,472.8h4.5v4.5h-4.5zM638.6,463.3h4.5v4.5h-4.5zM640.7,466.5h4.5v4.5h-4.5zM638.9,478.8h4.5v4.5h-4.5zM640.0,481.7h4.5v4.5h-4.5zM640.8,470.5h4.5v4.5h-4.5zM640.2,475.8h4.5v4.5h-4.5zM641.6,485.2h4.5v4.5h-4.5zM641.6,474.9h4.5v4.5h-4.5zM641.7,477.0h4.5v4.5h-4.5zM643.0,482.5h4.5v4.5h-4.5zM643.8,478.7h4.5v4.5h-4.5zM643.3,485.0h4.5v4.5h-4.5zM642.5,479.8h4.5v4.5h-4.5zM643.8,488.4h4.5v4.5h-4.5zM644.6,486.0h4.5v4.5h-4.5zM644.4,495.2h4.5v4.5h-4.5zM644.5,482.7h4.5v4.5h-4.5zM644.6,479.8h4.5v4.5h-4.5zM645.6,482.1h4.5v4.5h-4.5zM645.6,488.7h4.5v4.5h-4.5zM646.0,489.2h4.5v4.5h-4.5zM646.3,485.7h4.5v4.5h-4.5zM646.0,495.1h4.5v4.5h-4.5zM646.5,498.4h4.5v4.5h-4.5zM647.7,505.6h4.5v4.5h-4.5zM647.5,505.8h4.5v4.5h-4.5zM648.9,503.6h4.5v4.5h-4.5zM648.4,502.7h4.5v4.5h-4.5zM649.3,504.7h4.5v4.5h-4.5zM648.6,498.4h4.5v4.5h-4.5zM648.4,506.2h4.5v4.5h-4.5zM650.3,512.2h4.5v4.5h-4.5zM651.7,502.1h4.5v4.5h-4.5zM651.0,508.4h4.5v4.5h-4.5zM651.2,493.1h4.5v4.5h-4.5zM650.4,511.2h4.5v4.5h-4.5zM650.8,499.7h4.5v4.5h-4.5zM651.8,508.6h4.5v4.5h-4.5zM652.2,502.7h4.5v4.5h-4.5zM652.2,496.6h4.5v4.5h-4.5zM652.7,504.1h4.5v4.5h-4.5zM653.4,503.6h4.5v4.5h-4.5zM652.5,501.0h4.5v4.5h-4.5zM653.3,502.8h4.5v4.5h-4.5zM654.4,502.6h4.5v4.5h-4.5zM654.4,512.9h4.5v4.5h-4.5zM654.7,504.6h4.5v4.5h-4.5zM655.3,503.0h4.5v4.5h-4.5zM655.9,510.8h4.5v4.5h-4.5zM655.5,494.6h4.5v4.5h-4.5zM656.0,497.8h4.5v4.5h-4.5zM655.6,502.9h4.5v4.5h-4.5zM656.9,496.1h4.5v4.5h-4.5zM657.7,497.5h4.5v4.5h-4.5zM657.7,493.9h4.5v4.5h-4.5zM658.2,492.2h4.5v4.5h-4.5zM658.4,491.9h4.5v4.5h-4.5zM658.4,500.2h4.5v4.5h-4.5zM658.6,501.8h4.5v4.5h-4.5zM658.3,492.0h4.5v4.5h-4.5zM658.8,488.9h4.5v4.5h-4.5zM659.7,484.5h4.5v4.5h-4.5zM659.8,489.1h4.5v4.5h-4.5zM659.9,490.3h4.5v4.5h-4.5zM660.6,485.3h4.5v4.5h-4.5zM661.0,489.1h4.5v4.5h-4.5zM660.9,488.1h4.5v4.5h-4.5zM662.1,487.8h4.5v4.5h-4.5zM661.7,486.3h4.5v4.5h-4.5zM662.7,474.1h4.5v4.5h-4.5zM663.6,489.9h4.5v4.5h-4.5zM663.2,482.9h4.5v4.5h-4.5zM663.1,481.1h4.5v4.5h-4.5zM663.6,483.2h4.5v4.5h-4.5zM665.0,488.6h4.5v4.5h-4.5zM663.7,480.2h4.5v4.5h-4.5zM664.7,476.4h4.5v4.5h-4.5zM665.3,468.1h4.5v4.5h-4.5zM665.5,468.4h4.5v4.5h-4.5zM666.2,470.0h4.5v4.5h-4.5zM665.7,467.2h4.5v4.5h-4.5zM666.6,474.8h4.5v4.5h-4.5zM667.5,465.2h4.5v4.5h-4.5zM666.4,475.5h4.5v4.5h-4.5zM668.3,466.7h4.5v4.5h-4.5zM667.8,467.7h4.5v4.5h-4.5zM668.9,472.1h4.5v4.5h-4.5zM668.8,473.5h4.5v4.5h-4.5zM668.6,459.9h4.5v4.5h-4.5zM668.7,457.3h4.5v4.5h-4.5zM669.3,455.4h4.5v4.5h-4.5zM669.7,461.6h4.5v4.5h-4.5zM670.2,463.3h4.5v4.5h-4.5zM671.7,458.4h4.5v4.5h-4.5zM670.9,467.7h4.5v4.5h-4.5zM671.6,459.9h4.5v4.5h-4.5zM670.7,463.0h4.5v4.5h-4.5zM672.2,465.2h4.5v4.5h-4.5zM671.6,456.8h4.5v4.5h-4.5zM673.6,451.0h4.5v4.5h-4.5zM672.7,462.1h4.5v4.5h-4.5zM673.1,460.8h4.5v4.5h-4.5zM673.3,457.9h4.5v4.5h-4.5zM673.5,469.0h4.5v4.5h-4.5zM673.9,466.0h4.5v4.5h-4.5zM674.4,462.6h4.5v4.5h-4.5zM675.4,458.4h4.5v4.5h-4.5zM674.9,463.9h4.5v4.5h-4.5zM675.4,459.4h4.5v4.5h-4.5zM676.7,466.4h4.5v4.5h-4.5zM675.2,464.7h4.5v4.5h-4.5zM677.0,467.0h4.5v4.5h-4.5zM677.1,466.9h4.5v4.5h-4.5zM677.5,465.0h4.5v4.5h-4.5zM677.6,464.6h4.5v4.5h-4.5zM677.4,464.1h4.5v4.5h-4.5zM678.4,465.8h4.5v4.5h-4.5zM677.5,466.1h4.5v4.5h-4.5zM678.9,458.1h4.5v4.5h-4.5zM680.6,466.2h4.5v4.5h-4.5zM679.3,464.7h4.5v4.5h-4.5zM680.2,474.2h4.5v4.5h-4.5zM679.8,462.3h4.5v4.5h-4.5zM681.2,470.3h4.5v4.5h-4.5zM681.0,470.3h4.5v4.5h-4.5zM681.6,473.8h4.5v4.5h-4.5zM681.6,469.9h4.5v4.5h-4.5zM681.9,470.4h4.5v4.5h-4.5zM682.6,475.2h4.5v4.5h-4.5zM682.8,479.7h4.5v4.5h-4.5zM682.5,471.1h4.5v4.5h-4.5zM683.1,481.0h4.5v4.5h-4.5zM683.5,481.2h4.5v4.5h-4.5zM684.4,474.7h4.5v4.5h-4.5zM683.9,475.7h4.5v4.5h-4.5zM683.6,479.0h4.5v4.5h-4.5zM685.2,488.7h4.5v4.5h-4.5zM685.4,486.6h4.5v4.5h-4.5zM685.9,483.6h4.5v4.5h-4.5zM685.4,485.8h4.5v4.5h-4.5zM687.1,489.7h4.5v4.5h-4.5zM686.5,488.9h4.5v4.5h-4.5zM687.3,496.4h4.5v4.5h-4.5zM687.3,482.8h4.5v4.5h-4.5zM687.4,495.8h4.5v4.5h-4.5zM687.6,483.3h4.5v4.5h-4.5zM688.6,493.7h4.5v4.5h-4.5zM688.8,486.8h4.5v4.5h-4.5zM688.5,482.2h4.5v4.5h-4.5zM688.7,496.0h4.5v4.5h-4.5zM690.9,496.8h4.5v4.5h-4.5zM690.7,503.0h4.5v4.5h-4.5zM690.1,493.1h4.5v4.5h-4.5zM690.9,496.0h4.5v4.5h-4.5zM691.0,487.6h4.5v4.5h-4.5zM691.6,494.2h4.5v4.5h-4.5zM691.3,494.2h4.5v4.5h-4.5zM692.0,490.4h4.5v4.5h-4.5zM692.5,503.7h4.5v4.5h-4.5zM693.0,497.0h4.5v4.5h-4.5zM692.2,497.6h4.5v4.5h-4.5zM693.1,490.6h4.5v4.5h-4.5zM694.6,497.9h4.5v4.5h-4.5zM694.2,507.8h4.5v4.5h-4.5zM694.8,500.1h4.5v4.5h-4.5zM695.2,493.2h4.5v4.5h-4.5zM694.7,503.6h4.5v4.5h-4.5zM696.3,494.5h4.5v4.5h-4.5zM695.3,503.7h4.5v4.5h-4.5zM695.2,497.9h4.5v4.5h-4.5zM696.1,502.0h4.5v4.5h-4.5zM696.3,502.1h4.5v4.5h-4.5zM696.8,501.0h4.5v4.5h-4.5zM697.5,496.7h4.5v4.5h-4.5zM697.2,494.0h4.5v4.5h-4.5zM697.9,489.5h4.5v4.5h-4.5zM697.8,501.0h4.5v4.5h-4.5zM699.7,487.0h4.5v4.5h-4.5zM699.1,484.8h4.5v4.5h-4.5zM698.8,487.4h4.5v4.5h-4.5zM700.0,490.1h4.5v4.5h-4.5zM700.3,497.5h4.5v4.5h-4.5zM700.2,483.3h4.5v4.5h-4.5zM701.2,488.4h4.5v4.5h-4.5zM700.8,495.1h4.5v4.5h-4.5zM700.5,482.8h4.5v4.5h-4.5zM701.6,480.1h4.5v4.5h-4.5zM702.3,481.8h4.5v4.5h-4.5zM702.1,482.2h4.5v4.5h-4.5zM703.1,489.8h4.5v4.5h-4.5zM702.2,478.0h4.5v4.5h-4.5zM703.6,484.7h4.5v4.5h-4.5zM702.9,484.2h4.5v4.5h-4.5zM704.0,474.3h4.5v4.5h-4.5zM704.2,482.1h4.5v4.5h-4.5zM704.3,473.3h4.5v4.5h-4.5zM704.6,474.6h4.5v4.5h-4.5zM705.3,481.1h4.5v4.5h-4.5zM705.9,470.5h4.5v4.5h-4.5zM705.7,483.8h4.5v4.5h-4.5zM706.6,480.4h4.5v4.5h-4.5zM706.7,470.2h4.5v4.5h-4.5zM706.5,474.1h4.5v4.5h-4.5zM707.2,475.0h4.5v4.5h-4.5zM708.7,472.6h4.5v4.5h-4.5zM708.7,479.7h4.5v4.5h-4.5zM708.1,478.3h4.5v4.5h-4.5zM708.1,467.1h4.5v4.5h-4.5zM709.2,468.8h4.5v4.5h-4.5zM709.4,482.0h4.5v4.5h-4.5zM709.8,474.8h4.5v4.5h-4.5zM709.8,470.2h4.5v4.5h-4.5zM710.8,466.3h4.5v4.5h-4.5zM711.3,463.2h4.5v4.5h-4.5zM710.7,466.4h4.5v4.5h-4.5zM711.8,473.3h4.5v4.5h-4.5zM711.9,460.9h4.5v4.5h-4.5zM711.4,472.8h4.5v4.5h-4.5zM711.6,466.7h4.5v4.5h-4.5zM712.9,472.0h4.5v4.5h-4.5zM712.9,463.7h4.5v4.5h-4.5zM713.0,469.5h4.5v4.5h-4.5zM712.6,465.7h4.5v4.5h-4.5zM713.9,481.7h4.5v4.5h-4.5zM714.3,463.8h4.5v4.5h-4.5zM714.2,465.2h4.5v4.5h-4.5zM714.7,476.9h4.5v4.5h-4.5zM716.1,466.3h4.5v4.5h-4.5zM716.5,473.4h4.5v4.5h-4.5zM716.1,480.8h4.5v4.5h-4.5zM717.1,478.6h4.5v4.5h-4.5zM717.1,475.1h4.5v4.5h-4.5zM717.0,476.4h4.5v4.5h-4.5zM717.6,466.0h4.5v4.5h-4.5zM717.3,468.2h4.5v4.5h-4.5zM718.0,476.8h4.5v4.5h-4.5zM717.7,473.1h4.5v4.5h-4.5zM719.9,466.0h4.5v4.5h-4.5zM719.3,472.0h4.5v4.5h-4.5zM719.3,482.1h4.5v4.5h-4.5zM720.2,478.4h4.5v4.5h-4.5zM720.5,466.2h4.5v4.5h-4.5zM720.8,471.8h4.5v4.5h-4.5zM720.8,481.9h4.5v4.5h-4.5zM721.2,488.2h4.5v4.5h-4.5zM721.7,478.4h4.5v4.5h-4.5zM721.6,482.1h4.5v4.5h-4.5zM721.6,478.5h4.5v4.5h-4.5zM722.4,483.2h4.5v4.5h-4.5zM722.1,477.8h4.5v4.5h-4.5zM722.8,481.8h4.5v4.5h-4.5zM723.6,491.1h4.5v4.5h-4.5zM723.6,483.0h4.5v4.5h-4.5zM724.0,477.2h4.5v4.5h-4.5zM725.1,477.3h4.5v4.5h-4.5zM724.1,484.4h4.5v4.5h-4.5zM725.1,490.0h4.5v4.5h-4.5zM726.3,475.0h4.5v4.5h-4.5zM726.3,492.7h4.5v4.5h-4.5zM726.2,488.6h4.5v4.5h-4.5zM727.3,485.8h4.5v4.5h-4.5zM727.5,489.9h4.5v4.5h-4.5zM727.0,480.9h4.5v4.5h-4.5zM727.9,493.9h4.5v4.5h-4.5zM727.1,479.9h4.5v4.5h-4.5zM727.7,497.9h4.5v4.5h-4.5zM728.4,489.7h4.5v4.5h-4.5zM727.5,482.6h4.5v4.5h-4.5zM728.0,498.1h4.5v4.5h-4.5zM730.9,491.2h4.5v4.5h-4.5zM729.9,483.2h4.5v4.5h-4.5zM730.3,484.1h4.5v4.5h-4.5zM730.1,496.5h4.5v4.5h-4.5zM730.7,492.4h4.5v4.5h-4.5zM732.2,485.8h4.5v4.5h-4.5zM731.2,497.8h4.5v4.5h-4.5zM732.4,489.5h4.5v4.5h-4.5zM732.3,486.5h4.5v4.5h-4.5zM732.1,498.9h4.5v4.5h-4.5zM733.4,499.5h4.5v4.5h-4.5zM733.1,492.8h4.5v4.5h-4.5zM733.4,488.5h4.5v4.5h-4.5zM733.8,504.2h4.5v4.5h-4.5zM733.8,502.4h4.5v4.5h-4.5zM735.5,504.4h4.5v4.5h-4.5zM734.9,497.5h4.5v4.5h-4.5zM736.4,492.5h4.5v4.5h-4.5zM735.4,496.8h4.5v4.5h-4.5zM734.6,500.6h4.5v4.5h-4.5zM736.1,494.1h4.5v4.5h-4.5zM736.9,495.1h4.5v4.5h-4.5zM736.5,496.8h4.5v4.5h-4.5zM737.6,491.9h4.5v4.5h-4.5zM738.5,507.4h4.5v4.5h-4.5zM737.7,497.0h4.5v4.5h-4.5zM738.2,489.8h4.5v4.5h-4.5zM738.8,498.2h4.5v4.5h-4.5zM739.4,496.1h4.5v4.5h-4.5zM739.5,498.1h4.5v4.5h-4.5zM739.6,494.0h4.5v4.5h-4.5zM739.9,503.0h4.5v4.5h-4.5zM741.2,490.7h4.5v4.5h-4.5zM740.7,490.0h4.5v4.5h-4.5zM741.0,492.5h4.5v4.5h-4.5zM741.2,494.7h4.5v4.5h-4.5zM741.7,496.6h4.5v4.5h-4.5zM740.8,499.4h4.5v4.5h-4.5zM741.6,499.6h4.5v4.5h-4.5zM742.6,502.6h4.5v4.5h-4.5zM742.8,498.7h4.5v4.5h-4.5zM743.8,494.9h4.5v4.5h-4.5zM743.6,496.3h4.5v4.5h-4.5zM744.3,493.6h4.5v4.5h-4.5zM744.8,490.0h4.5v4.5h-4.5zM744.8,494.9h4.5v4.5h-4.5zM744.7,499.0h4.5v4.5h-4.5zM744.3,489.9h4.5v4.5h-4.5zM746.0,498.0h4.5v4.5h-4.5zM745.8,487.0h4.5v4.5h-4.5zM745.9,496.4h4.5v4.5h-4.5zM746.7,488.2h4.5v4.5h-4.5zM746.5,489.6h4.5v4.5h-4.5zM746.9,486.1h4.5v4.5h-4.5zM747.4,493.1h4.5v4.5h-4.5zM747.0,488.2h4.5v4.5h-4.5zM748.0,475.8h4.5v4.5h-4.5zM748.5,485.9h4.5v4.5h-4.5zM749.3,484.4h4.5v4.5h-4.5zM749.4,482.1h4.5v4.5h-4.5zM750.4,472.9h4.5v4.5h-4.5zM750.5,486.1h4.5v4.5h-4.5zM750.2,482.0h4.5v4.5h-4.5zM750.8,477.5h4.5v4.5h-4.5zM751.5,472.7h4.5v4.5h-4.5zM751.2,490.7h4.5v4.5h-4.5zM752.2,478.5h4.5v4.5h-4.5zM752.7,479.9h4.5v4.5h-4.5zM752.1,493.2h4.5v4.5h-4.5zM753.2,488.6h4.5v4.5h-4.5zM753.2,490.0h4.5v4.5h-4.5zM753.2,479.5h4.5v4.5h-4.5zM753.5,473.6h4.5v4.5h-4.5zM754.5,480.2h4.5v4.5h-4.5zM754.3,477.0h4.5v4.5h-4.5zM754.7,477.7h4.5v4.5h-4.5zM755.9,489.4h4.5v4.5h-4.5zM755.0,481.3h4.5v4.5h-4.5zM756.7,477.2h4.5v4.5h-4.5zM755.9,486.2h4.5v4.5h-4.5zM757.0,471.8h4.5v4.5h-4.5zM756.8,483.2h4.5v4.5h-4.5zM756.6,475.9h4.5v4.5h-4.5zM756.0,477.0h4.5v4.5h-4.5zM758.3,468.2h4.5v4.5h-4.5zM758.0,468.0h4.5v4.5h-4.5zM757.7,481.3h4.5v4.5h-4.5zM759.1,484.6h4.5v4.5h-4.5zM758.4,473.4h4.5v4.5h-4.5zM759.3,477.7h4.5v4.5h-4.5zM760.9,474.6h4.5v4.5h-4.5zM759.8,485.1h4.5v4.5h-4.5zM760.8,483.0h4.5v4.5h-4.5zM761.5,465.0h4.5v4.5h-4.5zM760.6,486.5h4.5v4.5h-4.5zM762.0,476.2h4.5v4.5h-4.5zM762.3,470.4h4.5v4.5h-4.5zM762.2,470.9h4.5v4.5h-4.5zM762.2,486.2h4.5v4.5h-4.5zM763.3,483.0h4.5v4.5h-4.5zM762.3,475.8h4.5v4.5h-4.5zM763.6,480.3h4.5v4.5h-4.5zM763.6,479.1h4.5v4.5h-4.5zM764.6,488.8h4.5v4.5h-4.5zM764.4,473.2h4.5v4.5h-4.5zM763.5,473.0h4.5v4.5h-4.5zM764.4,474.0h4.5v4.5h-4.5zM765.7,470.8h4.5v4.5h-4.5zM765.7,475.3h4.5v4.5h-4.5zM765.9,483.7h4.5v4.5h-4.5zM766.9,469.3h4.5v4.5h-4.5zM766.6,488.9h4.5v4.5h-4.5zM767.2,469.4h4.5v4.5h-4.5zM767.3,481.7h4.5v4.5h-4.5zM767.2,478.2h4.5v4.5h-4.5zM767.4,485.1h4.5v4.5h-4.5zM768.9,480.5h4.5v4.5h-4.5zM768.5,477.3h4.5v4.5h-4.5zM770.0,481.1h4.5v4.5h-4.5zM769.0,484.2h4.5v4.5h-4.5zM770.2,493.5h4.5v4.5h-4.5zM770.1,493.5h4.5v4.5h-4.5zM770.7,495.7h4.5v4.5h-4.5zM770.7,484.4h4.5v4.5h-4.5zM770.5,492.7h4.5v4.5h-4.5zM771.8,485.5h4.5v4.5h-4.5zM771.2,493.4h4.5v4.5h-4.5zM771.9,489.0h4.5v4.5h-4.5zM772.7,496.1h4.5v4.5h-4.5zM772.1,484.8h4.5v4.5h-4.5zM772.3,496.6h4.5v4.5h-4.5zM773.3,495.2h4.5v4.5h-4.5zM773.8,495.0h4.5v4.5h-4.5zM773.1,492.1h4.5v4.5h-4.5zM774.6,492.0h4.5v4.5h-4.5zM774.1,491.5h4.5v4.5h-4.5zM774.7,495.6h4.5v4.5h-4.5zM776.4,506.3h4.5v4.5h-4.5zM775.8,500.6h4.5v4.5h-4.5zM776.3,501.3h4.5v4.5h-4.5zM777.2,501.0h4.5v4.5h-4.5zM776.8,505.1h4.5v4.5h-4.5zM777.2,498.7h4.5v4.5h-4.5zM777.5,496.8h4.5v4.5h-4.5zM777.9,498.8h4.5v4.5h-4.5zM778.0,499.2h4.5v4.5h-4.5zM779.0,497.3h4.5v4.5h-4.5zM779.8,497.8h4.5v4.5h-4.5zM779.3,491.8h4.5v4.5h-4.5zM779.9,495.3h4.5v4.5h-4.5zM779.9,488.1h4.5v4.5h-4.5zM780.5,495.6h4.5v4.5h-4.5zM781.4,488.1h4.5v4.5h-4.5zM780.3,501.1h4.5v4.5h-4.5zM781.2,501.1h4.5v4.5h-4.5zM781.0,496.9h4.5v4.5h-4.5zM781.4,492.4h4.5v4.5h-4.5zM782.1,492.3h4.5v4.5h-4.5zM782.7,504.2h4.5v4.5h-4.5zM783.6,488.1h4.5v4.5h-4.5zM782.4,501.1h4.5v4.5h-4.5zM783.8,489.0h4.5v4.5h-4.5zM784.3,497.5h4.5v4.5h-4.5zM784.6,486.7h4.5v4.5h-4.5zM783.7,494.1h4.5v4.5h-4.5zM784.9,484.2h4.5v4.5h-4.5zM785.9,489.7h4.5v4.5h-4.5zM785.4,496.0h4.5v4.5h-4.5zM786.1,487.3h4.5v4.5h-4.5zM786.5,496.7h4.5v4.5h-4.5zM786.9,489.7h4.5v4.5h-4.5zM488.6,578.5h4.5v4.5h-4.5zM488.6,524.5h4.5v4.5h-4.5zM488.6,498.1h4.5v4.5h-4.5z" fill="none" stroke="#1212e8" stroke-width="1.4"/>
</g>
<path d="M487.5,21 V598.4 H788 V21 Z" fill="none" stroke="#111" stroke-width="2"/>
<path d="M487.5,598.4 h-4 M487.5,570.9 h-2.5 M487.5,543.3 h-4 M487.5,515.8 h-2.5 M487.5,488.2 h-4 M487.5,460.7 h-2.5 M487.5,433.2 h-4 M487.5,405.6 h-2.5 M487.5,378.1 h-4 M487.5,350.5 h-2.5 M487.5,323.0 h-4 M487.5,295.5 h-2.5 M487.5,267.9 h-4 M487.5,240.4 h-2.5 M487.5,212.8 h-4 M487.5,185.3 h-2.5 M487.5,157.8 h-4 M487.5,130.2 h-2.5 M487.5,102.7 h-4 M487.5,75.1 h-2.5 M487.5,47.6 h-4 M492.0,598.4 v4 M541.3,598.4 v2.5 M590.7,598.4 v4 M640.0,598.4 v2.5 M689.3,598.4 v4 M738.7,598.4 v2.5 M788.0,598.4 v4" stroke="#111" stroke-width="1.5" fill="none"/>
<g font-family="Liberation Sans, Arial, sans-serif" fill="#222" stroke="#222" stroke-width="0.35">
<text x="479" y="605.6" font-size="25" text-anchor="end">-6</text>
<text x="479" y="550.5" font-size="25" text-anchor="end">-5</text>
<text x="479" y="495.4" font-size="25" text-anchor="end">-4</text>
<text x="479" y="440.4" font-size="25" text-anchor="end">-3</text>
<text x="479" y="385.3" font-size="25" text-anchor="end">-2</text>
<text x="479" y="330.2" font-size="25" text-anchor="end">-1</text>
<text x="479" y="275.1" font-size="25" text-anchor="end">0</text>
<text x="479" y="220.0" font-size="25" text-anchor="end">1</text>
<text x="479" y="165.0" font-size="25" text-anchor="end">2</text>
<text x="479" y="109.9" font-size="25" text-anchor="end">3</text>
<text x="479" y="54.8" font-size="25" text-anchor="end">4</text>
<text x="492.0" y="626" font-size="25" text-anchor="middle">0</text>
<text x="590.7" y="626" font-size="25" text-anchor="middle">500</text>
<text x="689.3" y="626" font-size="25" text-anchor="middle">1000</text>
<text x="788.0" y="626" font-size="25" text-anchor="middle">1500</text>
<text transform="translate(447,309) rotate(-90)" font-size="30" text-anchor="middle">Δβ (μrad)</text>
<text x="637.5" y="665.5" font-size="30" text-anchor="middle">Δt (ps)</text>
<text x="707.5" y="50.6" font-size="27.5">YIG</text>
<text x="700.5" y="188.6" font-size="28">YIG/Pt</text>
<text x="696" y="445.6" font-size="28" letter-spacing="0.3">YIG/Au</text>
<text x="748" y="584.3" font-size="27">(<tspan font-weight="bold" font-size="24" dx="0.8">c</tspan><tspan dx="0.8">)</tspan></text>
</g>
</g></svg>
</body></html>
